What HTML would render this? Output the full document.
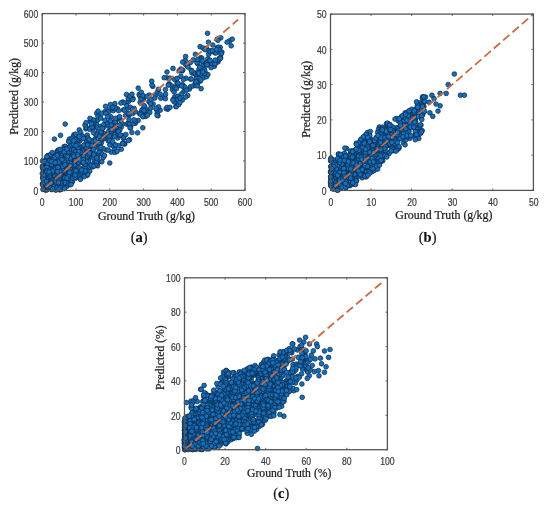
<!DOCTYPE html>
<html><head><meta charset="utf-8"><title>Figure</title>
<style>
html,body{margin:0;padding:0;background:#fff;overflow:hidden;}
svg{display:block;}
</style></head>
<body>
<svg width="550" height="507" viewBox="0 0 550 507">
<rect width="550" height="507" fill="#fff"/>
<g id="plot-a">
<g fill="#186eb8" stroke="#0a2d52" stroke-width="0.75">
<circle cx="51.4" cy="175.9" r="2.35"/>
<circle cx="49" cy="188.5" r="2.35"/>
<circle cx="47.7" cy="155.7" r="2.35"/>
<circle cx="51.9" cy="173" r="2.35"/>
<circle cx="47.5" cy="189.1" r="2.35"/>
<circle cx="56.7" cy="185.4" r="2.35"/>
<circle cx="52.4" cy="171.8" r="2.35"/>
<circle cx="51.1" cy="188.4" r="2.35"/>
<circle cx="43.7" cy="179.4" r="2.35"/>
<circle cx="42.7" cy="177.2" r="2.35"/>
<circle cx="43.9" cy="188.5" r="2.35"/>
<circle cx="52.9" cy="173.8" r="2.35"/>
<circle cx="50.9" cy="155.1" r="2.35"/>
<circle cx="43.2" cy="177.6" r="2.35"/>
<circle cx="52.8" cy="184.3" r="2.35"/>
<circle cx="45.7" cy="180.4" r="2.35"/>
<circle cx="45.7" cy="190.2" r="2.35"/>
<circle cx="62.3" cy="165.3" r="2.35"/>
<circle cx="50.3" cy="165.7" r="2.35"/>
<circle cx="52" cy="187.1" r="2.35"/>
<circle cx="52.1" cy="178.9" r="2.35"/>
<circle cx="43.2" cy="169.4" r="2.35"/>
<circle cx="52.5" cy="182.5" r="2.35"/>
<circle cx="85.4" cy="146.7" r="2.35"/>
<circle cx="44.1" cy="175.7" r="2.35"/>
<circle cx="57.8" cy="184.6" r="2.35"/>
<circle cx="59.3" cy="179.5" r="2.35"/>
<circle cx="59.1" cy="181.8" r="2.35"/>
<circle cx="46.4" cy="183.9" r="2.35"/>
<circle cx="47.7" cy="184.9" r="2.35"/>
<circle cx="44.2" cy="186.5" r="2.35"/>
<circle cx="49.6" cy="179.5" r="2.35"/>
<circle cx="66.7" cy="155.7" r="2.35"/>
<circle cx="45.8" cy="177.4" r="2.35"/>
<circle cx="42.5" cy="160.9" r="2.35"/>
<circle cx="50.5" cy="174.2" r="2.35"/>
<circle cx="59.4" cy="151.2" r="2.35"/>
<circle cx="48.3" cy="174.7" r="2.35"/>
<circle cx="74.1" cy="149.7" r="2.35"/>
<circle cx="48.8" cy="170.2" r="2.35"/>
<circle cx="50.3" cy="178.7" r="2.35"/>
<circle cx="44.4" cy="181.1" r="2.35"/>
<circle cx="47.8" cy="181.4" r="2.35"/>
<circle cx="58.9" cy="184.7" r="2.35"/>
<circle cx="59.1" cy="159.6" r="2.35"/>
<circle cx="65" cy="173.1" r="2.35"/>
<circle cx="57.9" cy="179" r="2.35"/>
<circle cx="55" cy="177.9" r="2.35"/>
<circle cx="42.5" cy="183.7" r="2.35"/>
<circle cx="45.3" cy="175.3" r="2.35"/>
<circle cx="92.2" cy="120" r="2.35"/>
<circle cx="46.7" cy="189.9" r="2.35"/>
<circle cx="56.7" cy="169.4" r="2.35"/>
<circle cx="49.6" cy="175.6" r="2.35"/>
<circle cx="57.1" cy="178.5" r="2.35"/>
<circle cx="50.6" cy="184.2" r="2.35"/>
<circle cx="44.6" cy="189.2" r="2.35"/>
<circle cx="45.5" cy="180.4" r="2.35"/>
<circle cx="53.3" cy="159.7" r="2.35"/>
<circle cx="46.9" cy="169.5" r="2.35"/>
<circle cx="42.5" cy="166.2" r="2.35"/>
<circle cx="55.2" cy="162.8" r="2.35"/>
<circle cx="61.7" cy="176.6" r="2.35"/>
<circle cx="60.4" cy="159.7" r="2.35"/>
<circle cx="60.7" cy="183.1" r="2.35"/>
<circle cx="43.2" cy="169.1" r="2.35"/>
<circle cx="72.4" cy="181.8" r="2.35"/>
<circle cx="49" cy="182.9" r="2.35"/>
<circle cx="44.9" cy="183.6" r="2.35"/>
<circle cx="47.2" cy="184.9" r="2.35"/>
<circle cx="45.8" cy="178.4" r="2.35"/>
<circle cx="43.9" cy="166.2" r="2.35"/>
<circle cx="50" cy="170.9" r="2.35"/>
<circle cx="51.5" cy="172.2" r="2.35"/>
<circle cx="48.6" cy="186.2" r="2.35"/>
<circle cx="51.4" cy="181.8" r="2.35"/>
<circle cx="48.8" cy="168.9" r="2.35"/>
<circle cx="45.7" cy="173.3" r="2.35"/>
<circle cx="46.4" cy="158.3" r="2.35"/>
<circle cx="54.9" cy="174.7" r="2.35"/>
<circle cx="43.4" cy="174.8" r="2.35"/>
<circle cx="46.6" cy="172.5" r="2.35"/>
<circle cx="60" cy="185.7" r="2.35"/>
<circle cx="52" cy="186.4" r="2.35"/>
<circle cx="56.3" cy="186.4" r="2.35"/>
<circle cx="50.1" cy="171.4" r="2.35"/>
<circle cx="44.1" cy="177.5" r="2.35"/>
<circle cx="47.4" cy="163.9" r="2.35"/>
<circle cx="51" cy="182.9" r="2.35"/>
<circle cx="47.4" cy="188" r="2.35"/>
<circle cx="48.8" cy="173.6" r="2.35"/>
<circle cx="51.6" cy="162.9" r="2.35"/>
<circle cx="59.3" cy="167.1" r="2.35"/>
<circle cx="47" cy="166.4" r="2.35"/>
<circle cx="63.3" cy="166.6" r="2.35"/>
<circle cx="50.1" cy="161.5" r="2.35"/>
<circle cx="60.7" cy="152.7" r="2.35"/>
<circle cx="62.9" cy="170.5" r="2.35"/>
<circle cx="73.9" cy="136.3" r="2.35"/>
<circle cx="61.9" cy="167.3" r="2.35"/>
<circle cx="62.1" cy="168.3" r="2.35"/>
<circle cx="73.3" cy="175.2" r="2.35"/>
<circle cx="42.9" cy="184.1" r="2.35"/>
<circle cx="44.8" cy="171.7" r="2.35"/>
<circle cx="61.6" cy="189.3" r="2.35"/>
<circle cx="51.8" cy="167.7" r="2.35"/>
<circle cx="51.7" cy="171.7" r="2.35"/>
<circle cx="43.3" cy="178.1" r="2.35"/>
<circle cx="45" cy="166.7" r="2.35"/>
<circle cx="56.9" cy="174.8" r="2.35"/>
<circle cx="55.7" cy="165.2" r="2.35"/>
<circle cx="46.5" cy="188" r="2.35"/>
<circle cx="45.3" cy="178.8" r="2.35"/>
<circle cx="45.8" cy="162.6" r="2.35"/>
<circle cx="54.9" cy="165.4" r="2.35"/>
<circle cx="50.5" cy="185.4" r="2.35"/>
<circle cx="43.4" cy="171.9" r="2.35"/>
<circle cx="60.2" cy="183.1" r="2.35"/>
<circle cx="52.1" cy="167" r="2.35"/>
<circle cx="66.8" cy="169.3" r="2.35"/>
<circle cx="42.3" cy="173.5" r="2.35"/>
<circle cx="42.5" cy="167.2" r="2.35"/>
<circle cx="46.3" cy="186.4" r="2.35"/>
<circle cx="70.2" cy="139.5" r="2.35"/>
<circle cx="44.2" cy="189.3" r="2.35"/>
<circle cx="66.4" cy="176.9" r="2.35"/>
<circle cx="51.8" cy="179.8" r="2.35"/>
<circle cx="51.7" cy="189.6" r="2.35"/>
<circle cx="57.5" cy="156.3" r="2.35"/>
<circle cx="44.7" cy="161.5" r="2.35"/>
<circle cx="46.3" cy="187.4" r="2.35"/>
<circle cx="43.9" cy="175.3" r="2.35"/>
<circle cx="51.3" cy="161.3" r="2.35"/>
<circle cx="78.5" cy="137.1" r="2.35"/>
<circle cx="47.7" cy="168.6" r="2.35"/>
<circle cx="55.3" cy="158.4" r="2.35"/>
<circle cx="53.9" cy="186.7" r="2.35"/>
<circle cx="52.1" cy="178.2" r="2.35"/>
<circle cx="49.1" cy="174.9" r="2.35"/>
<circle cx="67.5" cy="162.6" r="2.35"/>
<circle cx="51.3" cy="163.8" r="2.35"/>
<circle cx="47.1" cy="186.8" r="2.35"/>
<circle cx="63.6" cy="178.8" r="2.35"/>
<circle cx="59.1" cy="171.1" r="2.35"/>
<circle cx="53.5" cy="183.8" r="2.35"/>
<circle cx="49.6" cy="167.3" r="2.35"/>
<circle cx="73.9" cy="134.8" r="2.35"/>
<circle cx="50.8" cy="170.5" r="2.35"/>
<circle cx="46.6" cy="171.4" r="2.35"/>
<circle cx="56.9" cy="168.2" r="2.35"/>
<circle cx="48.5" cy="161" r="2.35"/>
<circle cx="50.7" cy="183.1" r="2.35"/>
<circle cx="48.2" cy="187.7" r="2.35"/>
<circle cx="49.4" cy="164.7" r="2.35"/>
<circle cx="43.1" cy="179.6" r="2.35"/>
<circle cx="45.5" cy="174.1" r="2.35"/>
<circle cx="45.9" cy="183.8" r="2.35"/>
<circle cx="48.7" cy="187.3" r="2.35"/>
<circle cx="53.2" cy="171.5" r="2.35"/>
<circle cx="44.9" cy="178.9" r="2.35"/>
<circle cx="85.8" cy="128.8" r="2.35"/>
<circle cx="49.6" cy="168.4" r="2.35"/>
<circle cx="54.7" cy="169.5" r="2.35"/>
<circle cx="44.4" cy="175.9" r="2.35"/>
<circle cx="45.2" cy="169.9" r="2.35"/>
<circle cx="74.1" cy="152.1" r="2.35"/>
<circle cx="57.5" cy="158.6" r="2.35"/>
<circle cx="49.6" cy="184.4" r="2.35"/>
<circle cx="43.7" cy="169.8" r="2.35"/>
<circle cx="73.2" cy="145.3" r="2.35"/>
<circle cx="45.1" cy="174.4" r="2.35"/>
<circle cx="47.4" cy="169.7" r="2.35"/>
<circle cx="49.6" cy="164.5" r="2.35"/>
<circle cx="54.4" cy="184.5" r="2.35"/>
<circle cx="51" cy="180.6" r="2.35"/>
<circle cx="50.6" cy="163" r="2.35"/>
<circle cx="82.1" cy="176.2" r="2.35"/>
<circle cx="51.9" cy="169.5" r="2.35"/>
<circle cx="55.5" cy="179.1" r="2.35"/>
<circle cx="59.6" cy="166.4" r="2.35"/>
<circle cx="46.4" cy="177.9" r="2.35"/>
<circle cx="92.5" cy="147.7" r="2.35"/>
<circle cx="45.8" cy="185.4" r="2.35"/>
<circle cx="50.8" cy="178.4" r="2.35"/>
<circle cx="44.3" cy="173.2" r="2.35"/>
<circle cx="44.3" cy="181.2" r="2.35"/>
<circle cx="65.2" cy="153.4" r="2.35"/>
<circle cx="47.6" cy="156.4" r="2.35"/>
<circle cx="50.2" cy="188.1" r="2.35"/>
<circle cx="48.5" cy="175" r="2.35"/>
<circle cx="49.7" cy="174.8" r="2.35"/>
<circle cx="64.2" cy="146.5" r="2.35"/>
<circle cx="45.8" cy="184.7" r="2.35"/>
<circle cx="55.5" cy="160.4" r="2.35"/>
<circle cx="64.7" cy="178.8" r="2.35"/>
<circle cx="44.1" cy="168.6" r="2.35"/>
<circle cx="61.1" cy="181.6" r="2.35"/>
<circle cx="42.6" cy="184.9" r="2.35"/>
<circle cx="58.1" cy="159.2" r="2.35"/>
<circle cx="48.2" cy="174.3" r="2.35"/>
<circle cx="44.4" cy="179.2" r="2.35"/>
<circle cx="49.8" cy="169.4" r="2.35"/>
<circle cx="46.6" cy="174.9" r="2.35"/>
<circle cx="42.9" cy="189.4" r="2.35"/>
<circle cx="63.9" cy="157" r="2.35"/>
<circle cx="65.4" cy="184.9" r="2.35"/>
<circle cx="44.7" cy="168" r="2.35"/>
<circle cx="47.7" cy="163.9" r="2.35"/>
<circle cx="47.2" cy="185.6" r="2.35"/>
<circle cx="48.8" cy="185.7" r="2.35"/>
<circle cx="43.8" cy="178.8" r="2.35"/>
<circle cx="62.3" cy="169.3" r="2.35"/>
<circle cx="51.4" cy="189.1" r="2.35"/>
<circle cx="44.9" cy="173.8" r="2.35"/>
<circle cx="47.3" cy="181.7" r="2.35"/>
<circle cx="45.8" cy="184.4" r="2.35"/>
<circle cx="49.4" cy="182.7" r="2.35"/>
<circle cx="58" cy="176.6" r="2.35"/>
<circle cx="58.2" cy="168.3" r="2.35"/>
<circle cx="44.5" cy="174.9" r="2.35"/>
<circle cx="72" cy="151.9" r="2.35"/>
<circle cx="57.8" cy="175.4" r="2.35"/>
<circle cx="50.1" cy="185.5" r="2.35"/>
<circle cx="55.8" cy="190.2" r="2.35"/>
<circle cx="70" cy="181.7" r="2.35"/>
<circle cx="51.6" cy="171.6" r="2.35"/>
<circle cx="59.8" cy="185.4" r="2.35"/>
<circle cx="78.3" cy="155" r="2.35"/>
<circle cx="60.1" cy="156" r="2.35"/>
<circle cx="59.7" cy="156.8" r="2.35"/>
<circle cx="57.1" cy="151.5" r="2.35"/>
<circle cx="49.3" cy="181.4" r="2.35"/>
<circle cx="65.7" cy="183.2" r="2.35"/>
<circle cx="70.5" cy="146.4" r="2.35"/>
<circle cx="71.9" cy="156.4" r="2.35"/>
<circle cx="56.3" cy="158.2" r="2.35"/>
<circle cx="56.6" cy="173.4" r="2.35"/>
<circle cx="86.3" cy="127.4" r="2.35"/>
<circle cx="57.2" cy="161.4" r="2.35"/>
<circle cx="65.2" cy="156.1" r="2.35"/>
<circle cx="44.4" cy="174.9" r="2.35"/>
<circle cx="55.9" cy="168.4" r="2.35"/>
<circle cx="55.9" cy="170.7" r="2.35"/>
<circle cx="51.8" cy="173.3" r="2.35"/>
<circle cx="103.1" cy="157.8" r="2.35"/>
<circle cx="64.5" cy="175.4" r="2.35"/>
<circle cx="48.9" cy="156.1" r="2.35"/>
<circle cx="70.5" cy="164.3" r="2.35"/>
<circle cx="69.4" cy="148" r="2.35"/>
<circle cx="69.9" cy="164.5" r="2.35"/>
<circle cx="100.4" cy="151.5" r="2.35"/>
<circle cx="68.7" cy="177" r="2.35"/>
<circle cx="69.9" cy="168" r="2.35"/>
<circle cx="59.8" cy="189.9" r="2.35"/>
<circle cx="56.3" cy="183.6" r="2.35"/>
<circle cx="69.2" cy="168.6" r="2.35"/>
<circle cx="67.9" cy="156.2" r="2.35"/>
<circle cx="57.3" cy="170.2" r="2.35"/>
<circle cx="62.4" cy="155.4" r="2.35"/>
<circle cx="71" cy="178.2" r="2.35"/>
<circle cx="72.2" cy="155.5" r="2.35"/>
<circle cx="61.5" cy="160.3" r="2.35"/>
<circle cx="47.7" cy="156.7" r="2.35"/>
<circle cx="73.8" cy="171.1" r="2.35"/>
<circle cx="64.2" cy="158.7" r="2.35"/>
<circle cx="57" cy="169.1" r="2.35"/>
<circle cx="62.3" cy="184.7" r="2.35"/>
<circle cx="54.6" cy="174.9" r="2.35"/>
<circle cx="73.6" cy="164.2" r="2.35"/>
<circle cx="64" cy="172.5" r="2.35"/>
<circle cx="50.5" cy="169.2" r="2.35"/>
<circle cx="75.6" cy="149.5" r="2.35"/>
<circle cx="78.4" cy="163.5" r="2.35"/>
<circle cx="66.7" cy="186.4" r="2.35"/>
<circle cx="79.3" cy="129.9" r="2.35"/>
<circle cx="51.7" cy="172.8" r="2.35"/>
<circle cx="97" cy="120.4" r="2.35"/>
<circle cx="75.4" cy="135.3" r="2.35"/>
<circle cx="91.1" cy="155.6" r="2.35"/>
<circle cx="51.9" cy="165.5" r="2.35"/>
<circle cx="61.2" cy="173.9" r="2.35"/>
<circle cx="65" cy="168.2" r="2.35"/>
<circle cx="114.2" cy="123.9" r="2.35"/>
<circle cx="69.3" cy="163.7" r="2.35"/>
<circle cx="54" cy="160" r="2.35"/>
<circle cx="79.2" cy="153.2" r="2.35"/>
<circle cx="73" cy="163" r="2.35"/>
<circle cx="59.4" cy="175.8" r="2.35"/>
<circle cx="86" cy="143.5" r="2.35"/>
<circle cx="94.4" cy="160.4" r="2.35"/>
<circle cx="65.9" cy="174.1" r="2.35"/>
<circle cx="56.7" cy="174.2" r="2.35"/>
<circle cx="82.6" cy="162.5" r="2.35"/>
<circle cx="76.8" cy="159.3" r="2.35"/>
<circle cx="65.1" cy="176.5" r="2.35"/>
<circle cx="58.3" cy="161.1" r="2.35"/>
<circle cx="65.5" cy="146.4" r="2.35"/>
<circle cx="78.3" cy="148.5" r="2.35"/>
<circle cx="70.8" cy="163.2" r="2.35"/>
<circle cx="44.6" cy="182.7" r="2.35"/>
<circle cx="81.7" cy="147.6" r="2.35"/>
<circle cx="112.7" cy="126.9" r="2.35"/>
<circle cx="76.9" cy="152.2" r="2.35"/>
<circle cx="87.3" cy="142.9" r="2.35"/>
<circle cx="70.3" cy="140.4" r="2.35"/>
<circle cx="121.3" cy="149.2" r="2.35"/>
<circle cx="70.2" cy="150.5" r="2.35"/>
<circle cx="101.9" cy="153.9" r="2.35"/>
<circle cx="105.6" cy="106.3" r="2.35"/>
<circle cx="67.9" cy="180.4" r="2.35"/>
<circle cx="87.3" cy="135.2" r="2.35"/>
<circle cx="51.8" cy="180.5" r="2.35"/>
<circle cx="77.4" cy="157.8" r="2.35"/>
<circle cx="51.6" cy="164.3" r="2.35"/>
<circle cx="80.7" cy="132.4" r="2.35"/>
<circle cx="63.4" cy="185.3" r="2.35"/>
<circle cx="67" cy="170.9" r="2.35"/>
<circle cx="57.8" cy="185.5" r="2.35"/>
<circle cx="74.8" cy="156.7" r="2.35"/>
<circle cx="84.7" cy="152.6" r="2.35"/>
<circle cx="57.6" cy="177.9" r="2.35"/>
<circle cx="65.3" cy="177.4" r="2.35"/>
<circle cx="75" cy="165.2" r="2.35"/>
<circle cx="61.3" cy="181.3" r="2.35"/>
<circle cx="98.2" cy="131.4" r="2.35"/>
<circle cx="122.7" cy="102.1" r="2.35"/>
<circle cx="75.1" cy="176.2" r="2.35"/>
<circle cx="68.9" cy="165.7" r="2.35"/>
<circle cx="73.2" cy="167.1" r="2.35"/>
<circle cx="58.7" cy="165.3" r="2.35"/>
<circle cx="52.4" cy="188.4" r="2.35"/>
<circle cx="59.6" cy="173.8" r="2.35"/>
<circle cx="75" cy="175.9" r="2.35"/>
<circle cx="65.5" cy="156.1" r="2.35"/>
<circle cx="58" cy="171.3" r="2.35"/>
<circle cx="56.5" cy="175.8" r="2.35"/>
<circle cx="70.6" cy="156.7" r="2.35"/>
<circle cx="65.3" cy="170.7" r="2.35"/>
<circle cx="85.3" cy="160" r="2.35"/>
<circle cx="56.3" cy="165.4" r="2.35"/>
<circle cx="142.9" cy="112.7" r="2.35"/>
<circle cx="69.1" cy="166.2" r="2.35"/>
<circle cx="124.8" cy="144" r="2.35"/>
<circle cx="65" cy="148.6" r="2.35"/>
<circle cx="80.7" cy="173" r="2.35"/>
<circle cx="63" cy="180.6" r="2.35"/>
<circle cx="113" cy="125.3" r="2.35"/>
<circle cx="84.9" cy="125" r="2.35"/>
<circle cx="60.1" cy="181.9" r="2.35"/>
<circle cx="67.7" cy="183.3" r="2.35"/>
<circle cx="84.9" cy="162.2" r="2.35"/>
<circle cx="50.3" cy="183.4" r="2.35"/>
<circle cx="59.8" cy="181" r="2.35"/>
<circle cx="61.6" cy="169.6" r="2.35"/>
<circle cx="46.5" cy="181.6" r="2.35"/>
<circle cx="75.8" cy="178.1" r="2.35"/>
<circle cx="122" cy="123.5" r="2.35"/>
<circle cx="49.5" cy="186.1" r="2.35"/>
<circle cx="54.5" cy="175.6" r="2.35"/>
<circle cx="72.5" cy="150.8" r="2.35"/>
<circle cx="77.5" cy="143.1" r="2.35"/>
<circle cx="76.6" cy="163.1" r="2.35"/>
<circle cx="65.9" cy="165.8" r="2.35"/>
<circle cx="62.5" cy="181.6" r="2.35"/>
<circle cx="50.4" cy="154.6" r="2.35"/>
<circle cx="117.5" cy="108.8" r="2.35"/>
<circle cx="101.3" cy="142.9" r="2.35"/>
<circle cx="60.7" cy="170.8" r="2.35"/>
<circle cx="70.1" cy="151.7" r="2.35"/>
<circle cx="66.2" cy="158.8" r="2.35"/>
<circle cx="64" cy="183.2" r="2.35"/>
<circle cx="55.8" cy="155.1" r="2.35"/>
<circle cx="133" cy="98.6" r="2.35"/>
<circle cx="67" cy="166.9" r="2.35"/>
<circle cx="85.4" cy="173.5" r="2.35"/>
<circle cx="67.5" cy="161.2" r="2.35"/>
<circle cx="76.1" cy="155.4" r="2.35"/>
<circle cx="108.1" cy="140.6" r="2.35"/>
<circle cx="72.5" cy="159.3" r="2.35"/>
<circle cx="106.2" cy="150" r="2.35"/>
<circle cx="60.8" cy="180.5" r="2.35"/>
<circle cx="84.4" cy="149" r="2.35"/>
<circle cx="103.4" cy="127.6" r="2.35"/>
<circle cx="86.4" cy="165.3" r="2.35"/>
<circle cx="60.8" cy="176" r="2.35"/>
<circle cx="65" cy="162" r="2.35"/>
<circle cx="61" cy="172.9" r="2.35"/>
<circle cx="76.9" cy="172" r="2.35"/>
<circle cx="67.7" cy="152.7" r="2.35"/>
<circle cx="59.6" cy="179.4" r="2.35"/>
<circle cx="54.4" cy="181.5" r="2.35"/>
<circle cx="61.1" cy="163.8" r="2.35"/>
<circle cx="70.1" cy="175.3" r="2.35"/>
<circle cx="85.2" cy="138.6" r="2.35"/>
<circle cx="77.8" cy="155.5" r="2.35"/>
<circle cx="83.7" cy="155.1" r="2.35"/>
<circle cx="98.9" cy="143.2" r="2.35"/>
<circle cx="78.5" cy="162.3" r="2.35"/>
<circle cx="52.2" cy="172.8" r="2.35"/>
<circle cx="66.7" cy="183" r="2.35"/>
<circle cx="53.1" cy="158.1" r="2.35"/>
<circle cx="72.9" cy="142.8" r="2.35"/>
<circle cx="50.2" cy="174.1" r="2.35"/>
<circle cx="69.5" cy="147.3" r="2.35"/>
<circle cx="72.7" cy="177.6" r="2.35"/>
<circle cx="81.9" cy="136" r="2.35"/>
<circle cx="70.4" cy="146.1" r="2.35"/>
<circle cx="144.5" cy="106.5" r="2.35"/>
<circle cx="63.6" cy="149.6" r="2.35"/>
<circle cx="87.2" cy="160" r="2.35"/>
<circle cx="63.3" cy="171.5" r="2.35"/>
<circle cx="57" cy="173.3" r="2.35"/>
<circle cx="63.4" cy="162.1" r="2.35"/>
<circle cx="52.3" cy="180.4" r="2.35"/>
<circle cx="73.7" cy="144.6" r="2.35"/>
<circle cx="49.7" cy="160.6" r="2.35"/>
<circle cx="87.6" cy="169.8" r="2.35"/>
<circle cx="69.7" cy="184.7" r="2.35"/>
<circle cx="83.7" cy="145.4" r="2.35"/>
<circle cx="54.9" cy="183.3" r="2.35"/>
<circle cx="104.9" cy="111.7" r="2.35"/>
<circle cx="96.7" cy="124.8" r="2.35"/>
<circle cx="91" cy="142.6" r="2.35"/>
<circle cx="68.4" cy="171.8" r="2.35"/>
<circle cx="86.8" cy="175.6" r="2.35"/>
<circle cx="69.6" cy="161.2" r="2.35"/>
<circle cx="98.1" cy="154.5" r="2.35"/>
<circle cx="49.9" cy="176" r="2.35"/>
<circle cx="71.3" cy="178.5" r="2.35"/>
<circle cx="101.1" cy="126.4" r="2.35"/>
<circle cx="87.9" cy="140.9" r="2.35"/>
<circle cx="89.2" cy="157.5" r="2.35"/>
<circle cx="87" cy="157.3" r="2.35"/>
<circle cx="73.8" cy="150" r="2.35"/>
<circle cx="57.6" cy="160.9" r="2.35"/>
<circle cx="80" cy="140.9" r="2.35"/>
<circle cx="64" cy="160" r="2.35"/>
<circle cx="66.4" cy="158.6" r="2.35"/>
<circle cx="68.8" cy="141.2" r="2.35"/>
<circle cx="70.7" cy="162.8" r="2.35"/>
<circle cx="57.1" cy="156.6" r="2.35"/>
<circle cx="84.4" cy="168.1" r="2.35"/>
<circle cx="74.4" cy="163.5" r="2.35"/>
<circle cx="96.1" cy="135.6" r="2.35"/>
<circle cx="123.5" cy="109.9" r="2.35"/>
<circle cx="86.2" cy="140" r="2.35"/>
<circle cx="72.9" cy="137.2" r="2.35"/>
<circle cx="53.5" cy="184.1" r="2.35"/>
<circle cx="70.2" cy="162.8" r="2.35"/>
<circle cx="74.5" cy="165.1" r="2.35"/>
<circle cx="76.2" cy="170" r="2.35"/>
<circle cx="71.7" cy="180.6" r="2.35"/>
<circle cx="62.8" cy="168.1" r="2.35"/>
<circle cx="90" cy="150.5" r="2.35"/>
<circle cx="73.7" cy="158.1" r="2.35"/>
<circle cx="93.5" cy="127.2" r="2.35"/>
<circle cx="60.3" cy="180.7" r="2.35"/>
<circle cx="76.8" cy="174.1" r="2.35"/>
<circle cx="97.6" cy="119.9" r="2.35"/>
<circle cx="97.6" cy="163.1" r="2.35"/>
<circle cx="55.6" cy="168.9" r="2.35"/>
<circle cx="69.4" cy="139" r="2.35"/>
<circle cx="65.2" cy="157.9" r="2.35"/>
<circle cx="97.6" cy="165.8" r="2.35"/>
<circle cx="78.8" cy="175.3" r="2.35"/>
<circle cx="61.1" cy="155.2" r="2.35"/>
<circle cx="70.5" cy="161.8" r="2.35"/>
<circle cx="63.2" cy="182.8" r="2.35"/>
<circle cx="71.6" cy="166.5" r="2.35"/>
<circle cx="64.2" cy="152" r="2.35"/>
<circle cx="75" cy="153.3" r="2.35"/>
<circle cx="97.9" cy="160.5" r="2.35"/>
<circle cx="132.6" cy="113.5" r="2.35"/>
<circle cx="87.8" cy="138.1" r="2.35"/>
<circle cx="117.8" cy="138" r="2.35"/>
<circle cx="48.5" cy="168.8" r="2.35"/>
<circle cx="84.4" cy="164.1" r="2.35"/>
<circle cx="86.1" cy="148.2" r="2.35"/>
<circle cx="79.9" cy="157" r="2.35"/>
<circle cx="69.7" cy="165.5" r="2.35"/>
<circle cx="46.7" cy="156.7" r="2.35"/>
<circle cx="56.4" cy="178.3" r="2.35"/>
<circle cx="67.2" cy="165.6" r="2.35"/>
<circle cx="78.2" cy="146.2" r="2.35"/>
<circle cx="57.7" cy="150.6" r="2.35"/>
<circle cx="70.6" cy="163.5" r="2.35"/>
<circle cx="68.4" cy="148.1" r="2.35"/>
<circle cx="68.6" cy="156.1" r="2.35"/>
<circle cx="71.4" cy="166.6" r="2.35"/>
<circle cx="82.4" cy="151.3" r="2.35"/>
<circle cx="65.4" cy="166.4" r="2.35"/>
<circle cx="68.3" cy="178.7" r="2.35"/>
<circle cx="57.9" cy="155.7" r="2.35"/>
<circle cx="64.5" cy="188.6" r="2.35"/>
<circle cx="58.8" cy="155.6" r="2.35"/>
<circle cx="78.5" cy="139.7" r="2.35"/>
<circle cx="123.5" cy="138.5" r="2.35"/>
<circle cx="115.2" cy="145.6" r="2.35"/>
<circle cx="60.9" cy="174" r="2.35"/>
<circle cx="79.5" cy="147" r="2.35"/>
<circle cx="71.9" cy="149.5" r="2.35"/>
<circle cx="49.4" cy="173.9" r="2.35"/>
<circle cx="46.9" cy="167.3" r="2.35"/>
<circle cx="60" cy="179.4" r="2.35"/>
<circle cx="67.3" cy="161.6" r="2.35"/>
<circle cx="52.4" cy="182.3" r="2.35"/>
<circle cx="56" cy="163.3" r="2.35"/>
<circle cx="57.1" cy="171.1" r="2.35"/>
<circle cx="56.1" cy="179.5" r="2.35"/>
<circle cx="53" cy="160.2" r="2.35"/>
<circle cx="65.8" cy="156" r="2.35"/>
<circle cx="82.3" cy="136" r="2.35"/>
<circle cx="74.6" cy="158.5" r="2.35"/>
<circle cx="57" cy="187.8" r="2.35"/>
<circle cx="66.9" cy="149.1" r="2.35"/>
<circle cx="70.3" cy="158.3" r="2.35"/>
<circle cx="48.3" cy="184.5" r="2.35"/>
<circle cx="89.6" cy="145.3" r="2.35"/>
<circle cx="59.2" cy="175.6" r="2.35"/>
<circle cx="52.9" cy="171" r="2.35"/>
<circle cx="139.2" cy="94.4" r="2.35"/>
<circle cx="55.6" cy="156.5" r="2.35"/>
<circle cx="64.5" cy="182.6" r="2.35"/>
<circle cx="58.8" cy="149.9" r="2.35"/>
<circle cx="89.7" cy="171.2" r="2.35"/>
<circle cx="64.9" cy="163" r="2.35"/>
<circle cx="51.4" cy="161.4" r="2.35"/>
<circle cx="46.9" cy="170.6" r="2.35"/>
<circle cx="61.3" cy="184" r="2.35"/>
<circle cx="118.2" cy="145.7" r="2.35"/>
<circle cx="55.1" cy="180.6" r="2.35"/>
<circle cx="96.7" cy="113.2" r="2.35"/>
<circle cx="57.3" cy="157.1" r="2.35"/>
<circle cx="51" cy="183.1" r="2.35"/>
<circle cx="66.5" cy="158.7" r="2.35"/>
<circle cx="74.1" cy="149.7" r="2.35"/>
<circle cx="67.4" cy="156.5" r="2.35"/>
<circle cx="47.4" cy="173.1" r="2.35"/>
<circle cx="60.2" cy="149.3" r="2.35"/>
<circle cx="75.1" cy="150.7" r="2.35"/>
<circle cx="61.1" cy="157.9" r="2.35"/>
<circle cx="77.7" cy="147.2" r="2.35"/>
<circle cx="52.2" cy="152.5" r="2.35"/>
<circle cx="141.9" cy="111.6" r="2.35"/>
<circle cx="54.8" cy="157.2" r="2.35"/>
<circle cx="67.5" cy="169.1" r="2.35"/>
<circle cx="67.4" cy="169.5" r="2.35"/>
<circle cx="86.3" cy="167.3" r="2.35"/>
<circle cx="63.9" cy="161.1" r="2.35"/>
<circle cx="70.2" cy="168.9" r="2.35"/>
<circle cx="68" cy="175.4" r="2.35"/>
<circle cx="78" cy="148" r="2.35"/>
<circle cx="77.8" cy="173.2" r="2.35"/>
<circle cx="68.9" cy="141.5" r="2.35"/>
<circle cx="86.6" cy="162" r="2.35"/>
<circle cx="101.8" cy="137.8" r="2.35"/>
<circle cx="59.7" cy="181.8" r="2.35"/>
<circle cx="60.7" cy="182.3" r="2.35"/>
<circle cx="60.1" cy="187.6" r="2.35"/>
<circle cx="59.3" cy="179.7" r="2.35"/>
<circle cx="60" cy="171.3" r="2.35"/>
<circle cx="70.3" cy="165.5" r="2.35"/>
<circle cx="84.1" cy="176.6" r="2.35"/>
<circle cx="59.6" cy="175.6" r="2.35"/>
<circle cx="77" cy="172" r="2.35"/>
<circle cx="62.9" cy="166.5" r="2.35"/>
<circle cx="139.7" cy="95.7" r="2.35"/>
<circle cx="73.6" cy="149.9" r="2.35"/>
<circle cx="83.4" cy="157.4" r="2.35"/>
<circle cx="56.1" cy="181.9" r="2.35"/>
<circle cx="57.3" cy="155.2" r="2.35"/>
<circle cx="72.8" cy="178.3" r="2.35"/>
<circle cx="58.5" cy="162.2" r="2.35"/>
<circle cx="68.2" cy="176.4" r="2.35"/>
<circle cx="93.8" cy="122" r="2.35"/>
<circle cx="58.8" cy="181.1" r="2.35"/>
<circle cx="57.6" cy="171.7" r="2.35"/>
<circle cx="71.9" cy="139" r="2.35"/>
<circle cx="64.9" cy="177.7" r="2.35"/>
<circle cx="80.9" cy="159.9" r="2.35"/>
<circle cx="66.8" cy="178.1" r="2.35"/>
<circle cx="55.1" cy="162.5" r="2.35"/>
<circle cx="47.1" cy="171.7" r="2.35"/>
<circle cx="75.1" cy="177.3" r="2.35"/>
<circle cx="59" cy="189.3" r="2.35"/>
<circle cx="71" cy="184.6" r="2.35"/>
<circle cx="49" cy="171.9" r="2.35"/>
<circle cx="58.4" cy="182.7" r="2.35"/>
<circle cx="75.2" cy="175" r="2.35"/>
<circle cx="90" cy="128.2" r="2.35"/>
<circle cx="90.6" cy="120.7" r="2.35"/>
<circle cx="96.1" cy="134.1" r="2.35"/>
<circle cx="68.5" cy="168.6" r="2.35"/>
<circle cx="88.2" cy="160.2" r="2.35"/>
<circle cx="74.9" cy="170.2" r="2.35"/>
<circle cx="65" cy="164.8" r="2.35"/>
<circle cx="62" cy="159.7" r="2.35"/>
<circle cx="58" cy="167.4" r="2.35"/>
<circle cx="89.8" cy="140.3" r="2.35"/>
<circle cx="69.6" cy="172.4" r="2.35"/>
<circle cx="107" cy="122.8" r="2.35"/>
<circle cx="111.2" cy="152.1" r="2.35"/>
<circle cx="114.7" cy="149.2" r="2.35"/>
<circle cx="75.1" cy="151.9" r="2.35"/>
<circle cx="77.9" cy="144.8" r="2.35"/>
<circle cx="101.3" cy="140" r="2.35"/>
<circle cx="75.5" cy="134.1" r="2.35"/>
<circle cx="101.6" cy="113.5" r="2.35"/>
<circle cx="114.9" cy="103.7" r="2.35"/>
<circle cx="110.4" cy="104.5" r="2.35"/>
<circle cx="108.1" cy="138" r="2.35"/>
<circle cx="75.3" cy="160.5" r="2.35"/>
<circle cx="86.2" cy="164.4" r="2.35"/>
<circle cx="124.2" cy="143.7" r="2.35"/>
<circle cx="79.7" cy="138.3" r="2.35"/>
<circle cx="103.3" cy="148.4" r="2.35"/>
<circle cx="75.5" cy="160.5" r="2.35"/>
<circle cx="126.6" cy="124.2" r="2.35"/>
<circle cx="82.5" cy="155.4" r="2.35"/>
<circle cx="96.2" cy="127.3" r="2.35"/>
<circle cx="104" cy="138.8" r="2.35"/>
<circle cx="113.9" cy="144.6" r="2.35"/>
<circle cx="126.5" cy="94.5" r="2.35"/>
<circle cx="114.9" cy="152.5" r="2.35"/>
<circle cx="92.6" cy="164.9" r="2.35"/>
<circle cx="76.9" cy="170.7" r="2.35"/>
<circle cx="113.3" cy="128.4" r="2.35"/>
<circle cx="128.5" cy="101.4" r="2.35"/>
<circle cx="73.6" cy="154.6" r="2.35"/>
<circle cx="117.1" cy="151.3" r="2.35"/>
<circle cx="82.7" cy="160" r="2.35"/>
<circle cx="99" cy="151.7" r="2.35"/>
<circle cx="102.7" cy="138.1" r="2.35"/>
<circle cx="107.9" cy="111.8" r="2.35"/>
<circle cx="129.5" cy="139.7" r="2.35"/>
<circle cx="112.1" cy="136.4" r="2.35"/>
<circle cx="95.2" cy="142.2" r="2.35"/>
<circle cx="113.7" cy="133.2" r="2.35"/>
<circle cx="99.4" cy="146.6" r="2.35"/>
<circle cx="96.4" cy="162" r="2.35"/>
<circle cx="93.6" cy="120.1" r="2.35"/>
<circle cx="101" cy="139.4" r="2.35"/>
<circle cx="88.8" cy="161.9" r="2.35"/>
<circle cx="86.5" cy="147.4" r="2.35"/>
<circle cx="81.2" cy="157.4" r="2.35"/>
<circle cx="97.9" cy="116.6" r="2.35"/>
<circle cx="89.5" cy="166.7" r="2.35"/>
<circle cx="120.7" cy="120.3" r="2.35"/>
<circle cx="121.3" cy="127.1" r="2.35"/>
<circle cx="92.4" cy="166.9" r="2.35"/>
<circle cx="108.2" cy="150" r="2.35"/>
<circle cx="124.5" cy="110.2" r="2.35"/>
<circle cx="93.3" cy="157.6" r="2.35"/>
<circle cx="104.5" cy="155.6" r="2.35"/>
<circle cx="98.1" cy="144.1" r="2.35"/>
<circle cx="110" cy="133.2" r="2.35"/>
<circle cx="127.8" cy="108" r="2.35"/>
<circle cx="80.6" cy="152.5" r="2.35"/>
<circle cx="128.1" cy="123.4" r="2.35"/>
<circle cx="110.9" cy="116.8" r="2.35"/>
<circle cx="118.4" cy="134.5" r="2.35"/>
<circle cx="109.1" cy="109.8" r="2.35"/>
<circle cx="122.6" cy="143.3" r="2.35"/>
<circle cx="91.4" cy="145.4" r="2.35"/>
<circle cx="113.3" cy="110.7" r="2.35"/>
<circle cx="87.8" cy="174.4" r="2.35"/>
<circle cx="101.8" cy="161.8" r="2.35"/>
<circle cx="111.8" cy="130.7" r="2.35"/>
<circle cx="84.2" cy="158.4" r="2.35"/>
<circle cx="76.1" cy="145.5" r="2.35"/>
<circle cx="118.1" cy="118.2" r="2.35"/>
<circle cx="119.1" cy="117.3" r="2.35"/>
<circle cx="110.9" cy="137.1" r="2.35"/>
<circle cx="91.1" cy="153.1" r="2.35"/>
<circle cx="110.4" cy="134.3" r="2.35"/>
<circle cx="77.4" cy="153.9" r="2.35"/>
<circle cx="110.7" cy="121.8" r="2.35"/>
<circle cx="105.7" cy="134.6" r="2.35"/>
<circle cx="108.1" cy="134.1" r="2.35"/>
<circle cx="98.3" cy="143.7" r="2.35"/>
<circle cx="85.6" cy="171.3" r="2.35"/>
<circle cx="114.3" cy="130.1" r="2.35"/>
<circle cx="99.3" cy="146.1" r="2.35"/>
<circle cx="115.4" cy="122.4" r="2.35"/>
<circle cx="93.5" cy="127.1" r="2.35"/>
<circle cx="77.7" cy="169" r="2.35"/>
<circle cx="103.8" cy="124.5" r="2.35"/>
<circle cx="108.4" cy="131.5" r="2.35"/>
<circle cx="125.6" cy="115.5" r="2.35"/>
<circle cx="123.6" cy="135.7" r="2.35"/>
<circle cx="75.9" cy="170.7" r="2.35"/>
<circle cx="117" cy="128.7" r="2.35"/>
<circle cx="87.6" cy="145.1" r="2.35"/>
<circle cx="112.7" cy="108.4" r="2.35"/>
<circle cx="94.4" cy="153.7" r="2.35"/>
<circle cx="91.1" cy="165.3" r="2.35"/>
<circle cx="100.7" cy="118.2" r="2.35"/>
<circle cx="103.1" cy="132.9" r="2.35"/>
<circle cx="112.5" cy="145.4" r="2.35"/>
<circle cx="109.3" cy="136.2" r="2.35"/>
<circle cx="111.6" cy="126.5" r="2.35"/>
<circle cx="94.7" cy="139.4" r="2.35"/>
<circle cx="111.5" cy="131.4" r="2.35"/>
<circle cx="92.5" cy="141.3" r="2.35"/>
<circle cx="107.5" cy="123.9" r="2.35"/>
<circle cx="99" cy="148.2" r="2.35"/>
<circle cx="105" cy="120.3" r="2.35"/>
<circle cx="73.6" cy="140.7" r="2.35"/>
<circle cx="101.3" cy="132.7" r="2.35"/>
<circle cx="85.3" cy="164.4" r="2.35"/>
<circle cx="94.8" cy="147.4" r="2.35"/>
<circle cx="76.9" cy="156.1" r="2.35"/>
<circle cx="110.4" cy="121" r="2.35"/>
<circle cx="124" cy="102.6" r="2.35"/>
<circle cx="93" cy="127.6" r="2.35"/>
<circle cx="78.7" cy="151.7" r="2.35"/>
<circle cx="108.3" cy="112" r="2.35"/>
<circle cx="79.9" cy="168.1" r="2.35"/>
<circle cx="123.9" cy="137.1" r="2.35"/>
<circle cx="79.7" cy="159.8" r="2.35"/>
<circle cx="93.4" cy="149.3" r="2.35"/>
<circle cx="101" cy="132" r="2.35"/>
<circle cx="79.4" cy="136.6" r="2.35"/>
<circle cx="90.9" cy="122" r="2.35"/>
<circle cx="88.4" cy="155.2" r="2.35"/>
<circle cx="113.6" cy="129" r="2.35"/>
<circle cx="129.3" cy="99.1" r="2.35"/>
<circle cx="93.5" cy="132.7" r="2.35"/>
<circle cx="118.1" cy="130.9" r="2.35"/>
<circle cx="80.7" cy="178.6" r="2.35"/>
<circle cx="105.9" cy="113.3" r="2.35"/>
<circle cx="97.5" cy="157" r="2.35"/>
<circle cx="89.2" cy="139.6" r="2.35"/>
<circle cx="119.8" cy="130" r="2.35"/>
<circle cx="115.5" cy="108.1" r="2.35"/>
<circle cx="80.3" cy="179.3" r="2.35"/>
<circle cx="89.4" cy="153.1" r="2.35"/>
<circle cx="119.7" cy="116.8" r="2.35"/>
<circle cx="129.6" cy="124.2" r="2.35"/>
<circle cx="107.8" cy="116.7" r="2.35"/>
<circle cx="122.7" cy="143.6" r="2.35"/>
<circle cx="129.2" cy="115" r="2.35"/>
<circle cx="115.2" cy="121.8" r="2.35"/>
<circle cx="109.7" cy="140.5" r="2.35"/>
<circle cx="85.3" cy="170.8" r="2.35"/>
<circle cx="93.9" cy="154.9" r="2.35"/>
<circle cx="108.4" cy="126.2" r="2.35"/>
<circle cx="125.9" cy="134.5" r="2.35"/>
<circle cx="90" cy="118.3" r="2.35"/>
<circle cx="95.3" cy="140.8" r="2.35"/>
<circle cx="73.9" cy="156.3" r="2.35"/>
<circle cx="112.7" cy="107.4" r="2.35"/>
<circle cx="98.1" cy="111.1" r="2.35"/>
<circle cx="118.5" cy="131.5" r="2.35"/>
<circle cx="86" cy="158" r="2.35"/>
<circle cx="110.5" cy="127.7" r="2.35"/>
<circle cx="111.3" cy="129.7" r="2.35"/>
<circle cx="99.3" cy="136.4" r="2.35"/>
<circle cx="83.5" cy="138.4" r="2.35"/>
<circle cx="95.8" cy="165.3" r="2.35"/>
<circle cx="115.4" cy="144.9" r="2.35"/>
<circle cx="83.5" cy="156" r="2.35"/>
<circle cx="77.8" cy="155.1" r="2.35"/>
<circle cx="99.2" cy="142.5" r="2.35"/>
<circle cx="86.1" cy="161.2" r="2.35"/>
<circle cx="118.6" cy="110.7" r="2.35"/>
<circle cx="119.6" cy="125.2" r="2.35"/>
<circle cx="126.9" cy="105.6" r="2.35"/>
<circle cx="120.9" cy="103" r="2.35"/>
<circle cx="109.8" cy="144.8" r="2.35"/>
<circle cx="83.4" cy="159.7" r="2.35"/>
<circle cx="119.9" cy="135.3" r="2.35"/>
<circle cx="114.5" cy="136.8" r="2.35"/>
<circle cx="115.5" cy="118.4" r="2.35"/>
<circle cx="112.7" cy="141.9" r="2.35"/>
<circle cx="120.3" cy="134.9" r="2.35"/>
<circle cx="89.7" cy="129.3" r="2.35"/>
<circle cx="111.3" cy="125.2" r="2.35"/>
<circle cx="102.3" cy="128.4" r="2.35"/>
<circle cx="92" cy="127.1" r="2.35"/>
<circle cx="91.4" cy="123.9" r="2.35"/>
<circle cx="81.6" cy="169.9" r="2.35"/>
<circle cx="100.9" cy="147.5" r="2.35"/>
<circle cx="93.8" cy="166.3" r="2.35"/>
<circle cx="96.8" cy="158" r="2.35"/>
<circle cx="141.1" cy="98.2" r="2.35"/>
<circle cx="138.2" cy="88.1" r="2.35"/>
<circle cx="138.2" cy="120.4" r="2.35"/>
<circle cx="143.3" cy="99.5" r="2.35"/>
<circle cx="130.4" cy="107.3" r="2.35"/>
<circle cx="135.3" cy="123.3" r="2.35"/>
<circle cx="128.3" cy="113.9" r="2.35"/>
<circle cx="133.3" cy="123.5" r="2.35"/>
<circle cx="142.8" cy="127.8" r="2.35"/>
<circle cx="128.2" cy="98.5" r="2.35"/>
<circle cx="139.5" cy="113.6" r="2.35"/>
<circle cx="141.3" cy="92.3" r="2.35"/>
<circle cx="135.3" cy="111.8" r="2.35"/>
<circle cx="140.2" cy="102.4" r="2.35"/>
<circle cx="134.2" cy="108.5" r="2.35"/>
<circle cx="132.7" cy="99.6" r="2.35"/>
<circle cx="135.2" cy="121.2" r="2.35"/>
<circle cx="130" cy="96.3" r="2.35"/>
<circle cx="131.9" cy="94.2" r="2.35"/>
<circle cx="131.9" cy="132.5" r="2.35"/>
<circle cx="143.4" cy="116.6" r="2.35"/>
<circle cx="132.4" cy="109.3" r="2.35"/>
<circle cx="130.6" cy="127.6" r="2.35"/>
<circle cx="142.6" cy="99" r="2.35"/>
<circle cx="129" cy="119.6" r="2.35"/>
<circle cx="143" cy="109.1" r="2.35"/>
<circle cx="141.1" cy="99" r="2.35"/>
<circle cx="137.6" cy="132.8" r="2.35"/>
<circle cx="133.9" cy="119.8" r="2.35"/>
<circle cx="130" cy="127.9" r="2.35"/>
<circle cx="128.5" cy="113.3" r="2.35"/>
<circle cx="128.5" cy="140.5" r="2.35"/>
<circle cx="153.2" cy="104" r="2.35"/>
<circle cx="155.4" cy="95.7" r="2.35"/>
<circle cx="174.6" cy="97.1" r="2.35"/>
<circle cx="160.2" cy="110.2" r="2.35"/>
<circle cx="177.1" cy="82.8" r="2.35"/>
<circle cx="167" cy="72" r="2.35"/>
<circle cx="145.7" cy="116.4" r="2.35"/>
<circle cx="160.8" cy="98.2" r="2.35"/>
<circle cx="146.1" cy="109.7" r="2.35"/>
<circle cx="141.7" cy="110.4" r="2.35"/>
<circle cx="175.3" cy="88.1" r="2.35"/>
<circle cx="152.8" cy="86.4" r="2.35"/>
<circle cx="147.3" cy="111.9" r="2.35"/>
<circle cx="144" cy="111.3" r="2.35"/>
<circle cx="164.5" cy="96.8" r="2.35"/>
<circle cx="157.4" cy="92.2" r="2.35"/>
<circle cx="140.7" cy="114.3" r="2.35"/>
<circle cx="166.8" cy="77.8" r="2.35"/>
<circle cx="149.8" cy="112.4" r="2.35"/>
<circle cx="169.2" cy="83.9" r="2.35"/>
<circle cx="158.4" cy="89.3" r="2.35"/>
<circle cx="160.1" cy="94" r="2.35"/>
<circle cx="157.2" cy="113.3" r="2.35"/>
<circle cx="165.4" cy="89.5" r="2.35"/>
<circle cx="177" cy="85.2" r="2.35"/>
<circle cx="169.9" cy="78.1" r="2.35"/>
<circle cx="142.8" cy="116.5" r="2.35"/>
<circle cx="158.6" cy="106.9" r="2.35"/>
<circle cx="148.9" cy="101.7" r="2.35"/>
<circle cx="144" cy="105.7" r="2.35"/>
<circle cx="147.5" cy="115.1" r="2.35"/>
<circle cx="149.4" cy="95" r="2.35"/>
<circle cx="175.9" cy="106.4" r="2.35"/>
<circle cx="167.9" cy="109.2" r="2.35"/>
<circle cx="171.9" cy="86" r="2.35"/>
<circle cx="166.2" cy="108.7" r="2.35"/>
<circle cx="152" cy="85.1" r="2.35"/>
<circle cx="154.8" cy="98.1" r="2.35"/>
<circle cx="156.6" cy="109.8" r="2.35"/>
<circle cx="151.1" cy="99.6" r="2.35"/>
<circle cx="155.9" cy="108.4" r="2.35"/>
<circle cx="168.9" cy="84.3" r="2.35"/>
<circle cx="143" cy="95.6" r="2.35"/>
<circle cx="150.5" cy="103.8" r="2.35"/>
<circle cx="158" cy="115.7" r="2.35"/>
<circle cx="165.4" cy="98.7" r="2.35"/>
<circle cx="164.2" cy="77.7" r="2.35"/>
<circle cx="167.2" cy="107.4" r="2.35"/>
<circle cx="144.1" cy="110.6" r="2.35"/>
<circle cx="146.9" cy="96.4" r="2.35"/>
<circle cx="151.7" cy="81.2" r="2.35"/>
<circle cx="150.7" cy="108.2" r="2.35"/>
<circle cx="168.3" cy="85.1" r="2.35"/>
<circle cx="177.2" cy="101.8" r="2.35"/>
<circle cx="165.6" cy="94.2" r="2.35"/>
<circle cx="173.3" cy="99.5" r="2.35"/>
<circle cx="180.9" cy="69" r="2.35"/>
<circle cx="195.4" cy="54.3" r="2.35"/>
<circle cx="198.9" cy="69.4" r="2.35"/>
<circle cx="189.4" cy="89.1" r="2.35"/>
<circle cx="182.4" cy="100" r="2.35"/>
<circle cx="182.5" cy="84.7" r="2.35"/>
<circle cx="190.5" cy="86.8" r="2.35"/>
<circle cx="197.2" cy="84.8" r="2.35"/>
<circle cx="182.1" cy="71" r="2.35"/>
<circle cx="177.8" cy="96.2" r="2.35"/>
<circle cx="172.4" cy="89.4" r="2.35"/>
<circle cx="176.3" cy="106.7" r="2.35"/>
<circle cx="196.8" cy="83.6" r="2.35"/>
<circle cx="190.3" cy="62.6" r="2.35"/>
<circle cx="200.8" cy="57.7" r="2.35"/>
<circle cx="174.3" cy="88.8" r="2.35"/>
<circle cx="182.8" cy="70" r="2.35"/>
<circle cx="195.2" cy="73.8" r="2.35"/>
<circle cx="191.3" cy="70.2" r="2.35"/>
<circle cx="174.2" cy="101.8" r="2.35"/>
<circle cx="183.9" cy="91.3" r="2.35"/>
<circle cx="190.6" cy="79.2" r="2.35"/>
<circle cx="192.1" cy="73.1" r="2.35"/>
<circle cx="185.3" cy="60.4" r="2.35"/>
<circle cx="177.7" cy="86" r="2.35"/>
<circle cx="200.1" cy="81.2" r="2.35"/>
<circle cx="185.7" cy="64.6" r="2.35"/>
<circle cx="192.9" cy="86" r="2.35"/>
<circle cx="187.7" cy="95.5" r="2.35"/>
<circle cx="174.6" cy="79.5" r="2.35"/>
<circle cx="179.1" cy="70.9" r="2.35"/>
<circle cx="174.1" cy="92.1" r="2.35"/>
<circle cx="177.8" cy="99.6" r="2.35"/>
<circle cx="178.1" cy="83.2" r="2.35"/>
<circle cx="184.2" cy="87.1" r="2.35"/>
<circle cx="181.6" cy="93.9" r="2.35"/>
<circle cx="182.7" cy="62.1" r="2.35"/>
<circle cx="195.8" cy="75" r="2.35"/>
<circle cx="172.9" cy="100.1" r="2.35"/>
<circle cx="175.3" cy="87.5" r="2.35"/>
<circle cx="195.5" cy="85.5" r="2.35"/>
<circle cx="187.7" cy="65.9" r="2.35"/>
<circle cx="184.9" cy="87.1" r="2.35"/>
<circle cx="180" cy="97.7" r="2.35"/>
<circle cx="187.9" cy="67" r="2.35"/>
<circle cx="178.7" cy="104.6" r="2.35"/>
<circle cx="197" cy="79.6" r="2.35"/>
<circle cx="196" cy="74.3" r="2.35"/>
<circle cx="181.6" cy="86" r="2.35"/>
<circle cx="173" cy="68.4" r="2.35"/>
<circle cx="197.8" cy="63.8" r="2.35"/>
<circle cx="180.9" cy="76.3" r="2.35"/>
<circle cx="191.2" cy="78.9" r="2.35"/>
<circle cx="197" cy="62.7" r="2.35"/>
<circle cx="195.3" cy="82.4" r="2.35"/>
<circle cx="197.1" cy="85.8" r="2.35"/>
<circle cx="186.4" cy="90.2" r="2.35"/>
<circle cx="196.5" cy="78.7" r="2.35"/>
<circle cx="185.6" cy="56.5" r="2.35"/>
<circle cx="179.9" cy="102.5" r="2.35"/>
<circle cx="186.1" cy="78.2" r="2.35"/>
<circle cx="182" cy="70.2" r="2.35"/>
<circle cx="194.4" cy="72.8" r="2.35"/>
<circle cx="196.2" cy="81.8" r="2.35"/>
<circle cx="176.4" cy="88.7" r="2.35"/>
<circle cx="177.1" cy="78.4" r="2.35"/>
<circle cx="183.4" cy="79.6" r="2.35"/>
<circle cx="185.6" cy="97.1" r="2.35"/>
<circle cx="199.8" cy="79.1" r="2.35"/>
<circle cx="199.4" cy="72.7" r="2.35"/>
<circle cx="200.1" cy="46.7" r="2.35"/>
<circle cx="193.3" cy="59.8" r="2.35"/>
<circle cx="191.8" cy="71" r="2.35"/>
<circle cx="180.1" cy="98.1" r="2.35"/>
<circle cx="207.8" cy="58.9" r="2.35"/>
<circle cx="197.8" cy="59.4" r="2.35"/>
<circle cx="220.2" cy="47.4" r="2.35"/>
<circle cx="205.1" cy="72.4" r="2.35"/>
<circle cx="199.8" cy="67.1" r="2.35"/>
<circle cx="206.2" cy="48.6" r="2.35"/>
<circle cx="206.4" cy="48.3" r="2.35"/>
<circle cx="217.3" cy="47.7" r="2.35"/>
<circle cx="197.8" cy="72.8" r="2.35"/>
<circle cx="203.9" cy="68.1" r="2.35"/>
<circle cx="221.9" cy="52.1" r="2.35"/>
<circle cx="220.8" cy="37.8" r="2.35"/>
<circle cx="214.7" cy="52.7" r="2.35"/>
<circle cx="212.8" cy="45" r="2.35"/>
<circle cx="203.7" cy="77.6" r="2.35"/>
<circle cx="221.3" cy="53.7" r="2.35"/>
<circle cx="218.2" cy="47.2" r="2.35"/>
<circle cx="211.5" cy="50.8" r="2.35"/>
<circle cx="202" cy="73.3" r="2.35"/>
<circle cx="203.5" cy="64.5" r="2.35"/>
<circle cx="207.9" cy="64.9" r="2.35"/>
<circle cx="206.6" cy="76.7" r="2.35"/>
<circle cx="199.3" cy="78.4" r="2.35"/>
<circle cx="208.7" cy="54.3" r="2.35"/>
<circle cx="209.8" cy="60.4" r="2.35"/>
<circle cx="205.4" cy="63.1" r="2.35"/>
<circle cx="208.1" cy="50.3" r="2.35"/>
<circle cx="206.7" cy="63.2" r="2.35"/>
<circle cx="207.9" cy="74.6" r="2.35"/>
<circle cx="214.4" cy="66.3" r="2.35"/>
<circle cx="211.1" cy="67.6" r="2.35"/>
<circle cx="203" cy="48" r="2.35"/>
<circle cx="219.2" cy="49.7" r="2.35"/>
<circle cx="211.6" cy="63.1" r="2.35"/>
<circle cx="210.1" cy="60.4" r="2.35"/>
<circle cx="217" cy="52.4" r="2.35"/>
<circle cx="218" cy="61.9" r="2.35"/>
<circle cx="220.6" cy="57.7" r="2.35"/>
<circle cx="219.6" cy="58" r="2.35"/>
<circle cx="215.8" cy="53" r="2.35"/>
<circle cx="217.2" cy="39.1" r="2.35"/>
<circle cx="201.9" cy="58.3" r="2.35"/>
<circle cx="216.6" cy="49.6" r="2.35"/>
<circle cx="204.6" cy="73.7" r="2.35"/>
<circle cx="204.7" cy="70" r="2.35"/>
<circle cx="200.9" cy="80" r="2.35"/>
<circle cx="208.4" cy="42.2" r="2.35"/>
<circle cx="198.2" cy="74" r="2.35"/>
<circle cx="215.4" cy="63.4" r="2.35"/>
<circle cx="217.9" cy="40.3" r="2.35"/>
<circle cx="218.7" cy="59.8" r="2.35"/>
<circle cx="201.2" cy="60.2" r="2.35"/>
<circle cx="215" cy="63.7" r="2.35"/>
<circle cx="220.3" cy="58.4" r="2.35"/>
<circle cx="198.7" cy="73.1" r="2.35"/>
<circle cx="202.9" cy="71.9" r="2.35"/>
<circle cx="204.9" cy="49.7" r="2.35"/>
<circle cx="210.2" cy="51.7" r="2.35"/>
<circle cx="202.3" cy="61.1" r="2.35"/>
<circle cx="212.3" cy="50.7" r="2.35"/>
<circle cx="207" cy="64.7" r="2.35"/>
<circle cx="215.4" cy="60" r="2.35"/>
<circle cx="229.7" cy="40.9" r="2.35"/>
<circle cx="231.2" cy="45.8" r="2.35"/>
<circle cx="227.1" cy="42.2" r="2.35"/>
<circle cx="54.4" cy="139.1" r="2.35"/>
<circle cx="60.5" cy="135.3" r="2.35"/>
<circle cx="65.2" cy="124.1" r="2.35"/>
<circle cx="83.4" cy="162.4" r="2.35"/>
<circle cx="86.1" cy="122.6" r="2.35"/>
<circle cx="109.8" cy="163" r="2.35"/>
<circle cx="232.2" cy="39.2" r="2.35"/>
<circle cx="207.5" cy="33.3" r="2.35"/>
<circle cx="201.1" cy="88.7" r="2.35"/>
<circle cx="170" cy="107.3" r="2.35"/>
<circle cx="157.1" cy="115.3" r="2.35"/>
</g>
<line x1="42.2" y1="190.4" x2="238.2" y2="19.5" stroke="#c66a42" stroke-width="1.75" stroke-dasharray="8.4 4" stroke-dashoffset="7.7"/>
<rect x="42.2" y="13.6" width="202.8" height="176.8" fill="none" stroke="#555" stroke-width="1.3"/>
<path d="M42.2 190.4v-1.9M42.2 13.6v1.9M76 190.4v-1.9M76 13.6v1.9M109.8 190.4v-1.9M109.8 13.6v1.9M143.6 190.4v-1.9M143.6 13.6v1.9M177.4 190.4v-1.9M177.4 13.6v1.9M211.2 190.4v-1.9M211.2 13.6v1.9M245 190.4v-1.9M245 13.6v1.9M42.2 190.4h1.9M245 190.4h-1.9M42.2 160.9h1.9M245 160.9h-1.9M42.2 131.5h1.9M245 131.5h-1.9M42.2 102h1.9M245 102h-1.9M42.2 72.5h1.9M245 72.5h-1.9M42.2 43.1h1.9M245 43.1h-1.9M42.2 13.6h1.9M245 13.6h-1.9" stroke="#555" stroke-width="0.9" fill="none"/>
<g font-family="'Liberation Sans', sans-serif" font-size="11.2" fill="#3c3c3c" stroke="#3c3c3c" stroke-width="0.25">
<text transform="translate(42.2 205.5) scale(0.77 1)" text-anchor="middle">0</text>
<text transform="translate(76 205.5) scale(0.77 1)" text-anchor="middle">100</text>
<text transform="translate(109.8 205.5) scale(0.77 1)" text-anchor="middle">200</text>
<text transform="translate(143.6 205.5) scale(0.77 1)" text-anchor="middle">300</text>
<text transform="translate(177.4 205.5) scale(0.77 1)" text-anchor="middle">400</text>
<text transform="translate(211.2 205.5) scale(0.77 1)" text-anchor="middle">500</text>
<text transform="translate(245 205.5) scale(0.77 1)" text-anchor="middle">600</text>
<text transform="translate(38.2 194.6) scale(0.77 1)" text-anchor="end">0</text>
<text transform="translate(38.2 165.1) scale(0.77 1)" text-anchor="end">100</text>
<text transform="translate(38.2 135.7) scale(0.77 1)" text-anchor="end">200</text>
<text transform="translate(38.2 106.2) scale(0.77 1)" text-anchor="end">300</text>
<text transform="translate(38.2 76.7) scale(0.77 1)" text-anchor="end">400</text>
<text transform="translate(38.2 47.3) scale(0.77 1)" text-anchor="end">500</text>
<text transform="translate(38.2 17.8) scale(0.77 1)" text-anchor="end">600</text>
</g>
<g font-family="'Liberation Serif', serif" font-size="11.9" fill="#1c1c1c" stroke="#1c1c1c" stroke-width="0.22">
<text x="146.5" y="220.3" text-anchor="middle">Ground Truth (g/kg)</text>
<text transform="translate(18.3 96.4) rotate(-90)" text-anchor="middle">Predicted (g/kg)</text>
</g>
<text x="139.1" y="241.5" text-anchor="middle" font-family="'Liberation Serif', serif" font-size="14.5" fill="#111" stroke="#111" stroke-width="0.15">(<tspan font-weight="bold">a</tspan>)</text>
</g>
<g id="plot-b">
<g fill="#186eb8" stroke="#0a2d52" stroke-width="0.75">
<circle cx="342.4" cy="162.2" r="2.35"/>
<circle cx="342.3" cy="176.8" r="2.35"/>
<circle cx="351.9" cy="184.5" r="2.35"/>
<circle cx="389.7" cy="142.3" r="2.35"/>
<circle cx="360.3" cy="153.6" r="2.35"/>
<circle cx="335.7" cy="184.5" r="2.35"/>
<circle cx="356.7" cy="161.8" r="2.35"/>
<circle cx="331.9" cy="185" r="2.35"/>
<circle cx="348.9" cy="156.4" r="2.35"/>
<circle cx="342.1" cy="171.2" r="2.35"/>
<circle cx="400.7" cy="122.5" r="2.35"/>
<circle cx="364.1" cy="170.5" r="2.35"/>
<circle cx="382.7" cy="139.1" r="2.35"/>
<circle cx="352.2" cy="175.4" r="2.35"/>
<circle cx="375.2" cy="154.9" r="2.35"/>
<circle cx="344.4" cy="153.4" r="2.35"/>
<circle cx="360.4" cy="141.5" r="2.35"/>
<circle cx="356.3" cy="167.1" r="2.35"/>
<circle cx="356.3" cy="143.3" r="2.35"/>
<circle cx="352.9" cy="168.4" r="2.35"/>
<circle cx="338.3" cy="173.9" r="2.35"/>
<circle cx="364.4" cy="148.4" r="2.35"/>
<circle cx="350.3" cy="169.2" r="2.35"/>
<circle cx="343.5" cy="163.3" r="2.35"/>
<circle cx="354.2" cy="164.4" r="2.35"/>
<circle cx="370.1" cy="139.1" r="2.35"/>
<circle cx="354.4" cy="151.2" r="2.35"/>
<circle cx="349.5" cy="158.3" r="2.35"/>
<circle cx="377.7" cy="140.1" r="2.35"/>
<circle cx="335.1" cy="177.4" r="2.35"/>
<circle cx="367.4" cy="168" r="2.35"/>
<circle cx="344.9" cy="174.6" r="2.35"/>
<circle cx="352" cy="152.5" r="2.35"/>
<circle cx="353.5" cy="179" r="2.35"/>
<circle cx="409.2" cy="111" r="2.35"/>
<circle cx="331.4" cy="178.9" r="2.35"/>
<circle cx="371.2" cy="171.5" r="2.35"/>
<circle cx="363.9" cy="149.6" r="2.35"/>
<circle cx="356.6" cy="180.2" r="2.35"/>
<circle cx="344.3" cy="176.6" r="2.35"/>
<circle cx="353.1" cy="174.7" r="2.35"/>
<circle cx="405" cy="124.5" r="2.35"/>
<circle cx="333.6" cy="179.5" r="2.35"/>
<circle cx="394.3" cy="129.2" r="2.35"/>
<circle cx="381.3" cy="150.3" r="2.35"/>
<circle cx="369.1" cy="164.4" r="2.35"/>
<circle cx="371.5" cy="165.4" r="2.35"/>
<circle cx="388.8" cy="136.1" r="2.35"/>
<circle cx="348.9" cy="163.8" r="2.35"/>
<circle cx="361.6" cy="171.6" r="2.35"/>
<circle cx="338.9" cy="167.3" r="2.35"/>
<circle cx="359.7" cy="163.7" r="2.35"/>
<circle cx="419.5" cy="127.1" r="2.35"/>
<circle cx="352.1" cy="170.1" r="2.35"/>
<circle cx="365.1" cy="142.4" r="2.35"/>
<circle cx="336.1" cy="182.1" r="2.35"/>
<circle cx="380.5" cy="132.3" r="2.35"/>
<circle cx="366.5" cy="139.2" r="2.35"/>
<circle cx="362.1" cy="177.1" r="2.35"/>
<circle cx="339.4" cy="155.6" r="2.35"/>
<circle cx="353.1" cy="178.8" r="2.35"/>
<circle cx="333.3" cy="171.1" r="2.35"/>
<circle cx="401.9" cy="127.5" r="2.35"/>
<circle cx="345.4" cy="155.8" r="2.35"/>
<circle cx="343.7" cy="176.6" r="2.35"/>
<circle cx="356" cy="181.4" r="2.35"/>
<circle cx="366.1" cy="172.8" r="2.35"/>
<circle cx="336.6" cy="169" r="2.35"/>
<circle cx="335" cy="170.7" r="2.35"/>
<circle cx="358.8" cy="155.3" r="2.35"/>
<circle cx="364.4" cy="160.4" r="2.35"/>
<circle cx="393.8" cy="130.6" r="2.35"/>
<circle cx="359.5" cy="160.9" r="2.35"/>
<circle cx="371.6" cy="165.5" r="2.35"/>
<circle cx="345.9" cy="163.8" r="2.35"/>
<circle cx="349.2" cy="168.6" r="2.35"/>
<circle cx="368.7" cy="160.8" r="2.35"/>
<circle cx="365.1" cy="156.5" r="2.35"/>
<circle cx="377.4" cy="160.8" r="2.35"/>
<circle cx="333.6" cy="184.7" r="2.35"/>
<circle cx="341.9" cy="181.3" r="2.35"/>
<circle cx="369.4" cy="165.5" r="2.35"/>
<circle cx="353.8" cy="169.8" r="2.35"/>
<circle cx="333.6" cy="169.3" r="2.35"/>
<circle cx="331.7" cy="186.3" r="2.35"/>
<circle cx="338.4" cy="154.2" r="2.35"/>
<circle cx="339.6" cy="167.4" r="2.35"/>
<circle cx="345.9" cy="187.6" r="2.35"/>
<circle cx="370.6" cy="139.2" r="2.35"/>
<circle cx="368.4" cy="148.1" r="2.35"/>
<circle cx="336.9" cy="181.2" r="2.35"/>
<circle cx="344.1" cy="159.4" r="2.35"/>
<circle cx="350.4" cy="178.3" r="2.35"/>
<circle cx="350.1" cy="158.3" r="2.35"/>
<circle cx="379.3" cy="127.3" r="2.35"/>
<circle cx="373.8" cy="143.8" r="2.35"/>
<circle cx="392" cy="144.1" r="2.35"/>
<circle cx="360.9" cy="161.4" r="2.35"/>
<circle cx="349.4" cy="166.5" r="2.35"/>
<circle cx="348.5" cy="173" r="2.35"/>
<circle cx="367.8" cy="145.1" r="2.35"/>
<circle cx="370.2" cy="157.5" r="2.35"/>
<circle cx="382.6" cy="149.5" r="2.35"/>
<circle cx="386.9" cy="136.4" r="2.35"/>
<circle cx="338.7" cy="180" r="2.35"/>
<circle cx="341.7" cy="170" r="2.35"/>
<circle cx="369" cy="134.7" r="2.35"/>
<circle cx="340.7" cy="164.8" r="2.35"/>
<circle cx="368.1" cy="141" r="2.35"/>
<circle cx="336.4" cy="164" r="2.35"/>
<circle cx="395.4" cy="137.6" r="2.35"/>
<circle cx="376.2" cy="137.7" r="2.35"/>
<circle cx="354.4" cy="173.3" r="2.35"/>
<circle cx="345" cy="170.5" r="2.35"/>
<circle cx="355.7" cy="161.6" r="2.35"/>
<circle cx="334.7" cy="183.1" r="2.35"/>
<circle cx="341.4" cy="155.7" r="2.35"/>
<circle cx="379.5" cy="127.2" r="2.35"/>
<circle cx="348.4" cy="179.1" r="2.35"/>
<circle cx="383.5" cy="141.1" r="2.35"/>
<circle cx="359" cy="156.1" r="2.35"/>
<circle cx="336.7" cy="166.9" r="2.35"/>
<circle cx="332.1" cy="175.7" r="2.35"/>
<circle cx="354.2" cy="178.2" r="2.35"/>
<circle cx="341.8" cy="182.6" r="2.35"/>
<circle cx="345.8" cy="169.7" r="2.35"/>
<circle cx="355" cy="166.4" r="2.35"/>
<circle cx="342" cy="183.4" r="2.35"/>
<circle cx="347.9" cy="168.5" r="2.35"/>
<circle cx="359.7" cy="148.6" r="2.35"/>
<circle cx="338.9" cy="161.6" r="2.35"/>
<circle cx="336.3" cy="170.6" r="2.35"/>
<circle cx="389.9" cy="127.4" r="2.35"/>
<circle cx="359.4" cy="176.1" r="2.35"/>
<circle cx="393.6" cy="131.1" r="2.35"/>
<circle cx="343" cy="165.8" r="2.35"/>
<circle cx="340.8" cy="179" r="2.35"/>
<circle cx="343" cy="176" r="2.35"/>
<circle cx="337.1" cy="179.3" r="2.35"/>
<circle cx="338.6" cy="178.2" r="2.35"/>
<circle cx="355.9" cy="172.2" r="2.35"/>
<circle cx="356" cy="151.8" r="2.35"/>
<circle cx="349.9" cy="154.1" r="2.35"/>
<circle cx="346.9" cy="177.3" r="2.35"/>
<circle cx="378.8" cy="144" r="2.35"/>
<circle cx="376.5" cy="158.7" r="2.35"/>
<circle cx="367.3" cy="137.6" r="2.35"/>
<circle cx="388.6" cy="136.5" r="2.35"/>
<circle cx="363.6" cy="140.4" r="2.35"/>
<circle cx="353.2" cy="175.1" r="2.35"/>
<circle cx="365.2" cy="143.8" r="2.35"/>
<circle cx="377.2" cy="155.1" r="2.35"/>
<circle cx="421" cy="125.1" r="2.35"/>
<circle cx="350.3" cy="157.7" r="2.35"/>
<circle cx="352.8" cy="165.5" r="2.35"/>
<circle cx="336.9" cy="189.9" r="2.35"/>
<circle cx="342.8" cy="175.3" r="2.35"/>
<circle cx="336.2" cy="186.1" r="2.35"/>
<circle cx="347" cy="163.7" r="2.35"/>
<circle cx="348.6" cy="170.3" r="2.35"/>
<circle cx="377.3" cy="163.8" r="2.35"/>
<circle cx="351.6" cy="178.5" r="2.35"/>
<circle cx="345.1" cy="182.5" r="2.35"/>
<circle cx="341.3" cy="172.5" r="2.35"/>
<circle cx="337" cy="176.3" r="2.35"/>
<circle cx="394.1" cy="147.7" r="2.35"/>
<circle cx="375.7" cy="154.5" r="2.35"/>
<circle cx="337.4" cy="177" r="2.35"/>
<circle cx="352.3" cy="150.9" r="2.35"/>
<circle cx="339.2" cy="176.3" r="2.35"/>
<circle cx="358.3" cy="170.3" r="2.35"/>
<circle cx="368.4" cy="156.5" r="2.35"/>
<circle cx="347.9" cy="160.8" r="2.35"/>
<circle cx="333.3" cy="189.2" r="2.35"/>
<circle cx="338.6" cy="189.4" r="2.35"/>
<circle cx="339.8" cy="178" r="2.35"/>
<circle cx="419.4" cy="107.9" r="2.35"/>
<circle cx="393.1" cy="132.7" r="2.35"/>
<circle cx="365.2" cy="156.7" r="2.35"/>
<circle cx="340.8" cy="184.3" r="2.35"/>
<circle cx="342.3" cy="180.4" r="2.35"/>
<circle cx="341.1" cy="183.6" r="2.35"/>
<circle cx="370.8" cy="146.1" r="2.35"/>
<circle cx="333.1" cy="172.6" r="2.35"/>
<circle cx="374.4" cy="151.3" r="2.35"/>
<circle cx="335.6" cy="174.3" r="2.35"/>
<circle cx="379.9" cy="129.4" r="2.35"/>
<circle cx="365.2" cy="135.6" r="2.35"/>
<circle cx="353.7" cy="162" r="2.35"/>
<circle cx="353.9" cy="156.8" r="2.35"/>
<circle cx="346.4" cy="182" r="2.35"/>
<circle cx="346.5" cy="175.9" r="2.35"/>
<circle cx="352.4" cy="160.6" r="2.35"/>
<circle cx="356.4" cy="160.3" r="2.35"/>
<circle cx="345.7" cy="175.8" r="2.35"/>
<circle cx="389.7" cy="137" r="2.35"/>
<circle cx="340.1" cy="171.2" r="2.35"/>
<circle cx="341.4" cy="177.6" r="2.35"/>
<circle cx="333.8" cy="178.7" r="2.35"/>
<circle cx="360.5" cy="159.7" r="2.35"/>
<circle cx="346" cy="174.3" r="2.35"/>
<circle cx="355.5" cy="177.1" r="2.35"/>
<circle cx="372.2" cy="171.5" r="2.35"/>
<circle cx="341.7" cy="186.6" r="2.35"/>
<circle cx="339.9" cy="182.8" r="2.35"/>
<circle cx="343.2" cy="183.8" r="2.35"/>
<circle cx="403.4" cy="127.1" r="2.35"/>
<circle cx="335.1" cy="166.6" r="2.35"/>
<circle cx="380.3" cy="156" r="2.35"/>
<circle cx="366.6" cy="161.8" r="2.35"/>
<circle cx="383.2" cy="148.5" r="2.35"/>
<circle cx="358.7" cy="169.1" r="2.35"/>
<circle cx="352" cy="178.4" r="2.35"/>
<circle cx="336.4" cy="167" r="2.35"/>
<circle cx="350.7" cy="151" r="2.35"/>
<circle cx="350.6" cy="162.3" r="2.35"/>
<circle cx="337.5" cy="181.3" r="2.35"/>
<circle cx="382.8" cy="160.7" r="2.35"/>
<circle cx="392.2" cy="129.9" r="2.35"/>
<circle cx="335" cy="172.2" r="2.35"/>
<circle cx="371" cy="158.3" r="2.35"/>
<circle cx="366.7" cy="173.2" r="2.35"/>
<circle cx="380.4" cy="138.1" r="2.35"/>
<circle cx="351.1" cy="182.3" r="2.35"/>
<circle cx="352.5" cy="179.9" r="2.35"/>
<circle cx="392.8" cy="129.6" r="2.35"/>
<circle cx="339.5" cy="164.8" r="2.35"/>
<circle cx="374.7" cy="142" r="2.35"/>
<circle cx="337.2" cy="182" r="2.35"/>
<circle cx="367.5" cy="145.6" r="2.35"/>
<circle cx="350.9" cy="181.7" r="2.35"/>
<circle cx="364.6" cy="153.2" r="2.35"/>
<circle cx="340.1" cy="183.3" r="2.35"/>
<circle cx="352" cy="167" r="2.35"/>
<circle cx="360.8" cy="160.3" r="2.35"/>
<circle cx="393.9" cy="146.2" r="2.35"/>
<circle cx="361.6" cy="171.5" r="2.35"/>
<circle cx="347.9" cy="174.2" r="2.35"/>
<circle cx="341.6" cy="172.2" r="2.35"/>
<circle cx="388.7" cy="141.7" r="2.35"/>
<circle cx="393.6" cy="150.7" r="2.35"/>
<circle cx="394.4" cy="149.9" r="2.35"/>
<circle cx="409" cy="117.6" r="2.35"/>
<circle cx="371.9" cy="164.4" r="2.35"/>
<circle cx="395.4" cy="137.9" r="2.35"/>
<circle cx="383.1" cy="146.1" r="2.35"/>
<circle cx="375" cy="148.2" r="2.35"/>
<circle cx="347.8" cy="163.2" r="2.35"/>
<circle cx="331.3" cy="177.5" r="2.35"/>
<circle cx="340.8" cy="188.1" r="2.35"/>
<circle cx="356.6" cy="157" r="2.35"/>
<circle cx="334" cy="168.9" r="2.35"/>
<circle cx="346.3" cy="168.9" r="2.35"/>
<circle cx="343.4" cy="157.2" r="2.35"/>
<circle cx="339" cy="165.6" r="2.35"/>
<circle cx="353.9" cy="177.6" r="2.35"/>
<circle cx="338.6" cy="154" r="2.35"/>
<circle cx="339.5" cy="166.3" r="2.35"/>
<circle cx="366.5" cy="171.5" r="2.35"/>
<circle cx="352.8" cy="165.3" r="2.35"/>
<circle cx="354.4" cy="173.7" r="2.35"/>
<circle cx="362.3" cy="177.7" r="2.35"/>
<circle cx="359.7" cy="153.5" r="2.35"/>
<circle cx="391.1" cy="146.6" r="2.35"/>
<circle cx="358.4" cy="158.9" r="2.35"/>
<circle cx="344.4" cy="183.1" r="2.35"/>
<circle cx="354.7" cy="171.9" r="2.35"/>
<circle cx="370" cy="145.9" r="2.35"/>
<circle cx="359.7" cy="147" r="2.35"/>
<circle cx="352.3" cy="177.3" r="2.35"/>
<circle cx="382.7" cy="157" r="2.35"/>
<circle cx="418" cy="136.7" r="2.35"/>
<circle cx="394" cy="143.1" r="2.35"/>
<circle cx="349" cy="164.2" r="2.35"/>
<circle cx="364" cy="158.4" r="2.35"/>
<circle cx="366.5" cy="171" r="2.35"/>
<circle cx="351.1" cy="173.1" r="2.35"/>
<circle cx="374.6" cy="140.7" r="2.35"/>
<circle cx="343.2" cy="176.1" r="2.35"/>
<circle cx="363.5" cy="146" r="2.35"/>
<circle cx="372.6" cy="150.4" r="2.35"/>
<circle cx="362" cy="174.9" r="2.35"/>
<circle cx="344.4" cy="160.9" r="2.35"/>
<circle cx="342.3" cy="163.4" r="2.35"/>
<circle cx="406" cy="133" r="2.35"/>
<circle cx="338.4" cy="173.2" r="2.35"/>
<circle cx="356.7" cy="173.5" r="2.35"/>
<circle cx="350.8" cy="172.5" r="2.35"/>
<circle cx="335" cy="185" r="2.35"/>
<circle cx="350.8" cy="169" r="2.35"/>
<circle cx="382.4" cy="130.5" r="2.35"/>
<circle cx="339.8" cy="172.5" r="2.35"/>
<circle cx="341.9" cy="164.1" r="2.35"/>
<circle cx="366.1" cy="177" r="2.35"/>
<circle cx="366.1" cy="145.6" r="2.35"/>
<circle cx="358.6" cy="156.1" r="2.35"/>
<circle cx="343.9" cy="169" r="2.35"/>
<circle cx="343.3" cy="174.8" r="2.35"/>
<circle cx="340.1" cy="178.7" r="2.35"/>
<circle cx="366" cy="171.6" r="2.35"/>
<circle cx="370.4" cy="155.7" r="2.35"/>
<circle cx="351.4" cy="181.5" r="2.35"/>
<circle cx="337.6" cy="158.6" r="2.35"/>
<circle cx="352.3" cy="158.7" r="2.35"/>
<circle cx="359" cy="170.8" r="2.35"/>
<circle cx="373.7" cy="170.7" r="2.35"/>
<circle cx="354.2" cy="183.6" r="2.35"/>
<circle cx="337.7" cy="190.3" r="2.35"/>
<circle cx="342.9" cy="177.9" r="2.35"/>
<circle cx="378.9" cy="153.8" r="2.35"/>
<circle cx="423.8" cy="106.6" r="2.35"/>
<circle cx="367.5" cy="132.5" r="2.35"/>
<circle cx="339.5" cy="162.8" r="2.35"/>
<circle cx="340.4" cy="154.4" r="2.35"/>
<circle cx="358.3" cy="144.5" r="2.35"/>
<circle cx="352.6" cy="170.1" r="2.35"/>
<circle cx="351.6" cy="153.6" r="2.35"/>
<circle cx="367.4" cy="144.1" r="2.35"/>
<circle cx="333.5" cy="159.9" r="2.35"/>
<circle cx="391.1" cy="141.3" r="2.35"/>
<circle cx="347.8" cy="164.9" r="2.35"/>
<circle cx="381.2" cy="161.6" r="2.35"/>
<circle cx="348.3" cy="169.8" r="2.35"/>
<circle cx="379.1" cy="138.8" r="2.35"/>
<circle cx="411.5" cy="125.4" r="2.35"/>
<circle cx="337.6" cy="166" r="2.35"/>
<circle cx="349.8" cy="178.3" r="2.35"/>
<circle cx="366.6" cy="171.7" r="2.35"/>
<circle cx="405.1" cy="112.9" r="2.35"/>
<circle cx="395.5" cy="134.4" r="2.35"/>
<circle cx="345.1" cy="173.8" r="2.35"/>
<circle cx="354.2" cy="183.8" r="2.35"/>
<circle cx="357.6" cy="145.7" r="2.35"/>
<circle cx="404.7" cy="139.4" r="2.35"/>
<circle cx="334" cy="181.5" r="2.35"/>
<circle cx="352.8" cy="157.6" r="2.35"/>
<circle cx="351" cy="170.8" r="2.35"/>
<circle cx="372.7" cy="145.9" r="2.35"/>
<circle cx="384.9" cy="143.2" r="2.35"/>
<circle cx="378.1" cy="162.2" r="2.35"/>
<circle cx="374.4" cy="145" r="2.35"/>
<circle cx="379" cy="139.6" r="2.35"/>
<circle cx="336.1" cy="169" r="2.35"/>
<circle cx="346.5" cy="148.5" r="2.35"/>
<circle cx="368.6" cy="159.8" r="2.35"/>
<circle cx="369.8" cy="135.6" r="2.35"/>
<circle cx="337.7" cy="175.3" r="2.35"/>
<circle cx="340.8" cy="185.4" r="2.35"/>
<circle cx="370.7" cy="172" r="2.35"/>
<circle cx="342" cy="187.2" r="2.35"/>
<circle cx="378.3" cy="130.1" r="2.35"/>
<circle cx="418.6" cy="114.8" r="2.35"/>
<circle cx="357.2" cy="147.8" r="2.35"/>
<circle cx="367.4" cy="166.5" r="2.35"/>
<circle cx="362.3" cy="139.5" r="2.35"/>
<circle cx="383.6" cy="140" r="2.35"/>
<circle cx="413.5" cy="113.7" r="2.35"/>
<circle cx="366.1" cy="151" r="2.35"/>
<circle cx="351.1" cy="173.8" r="2.35"/>
<circle cx="340.1" cy="160.2" r="2.35"/>
<circle cx="351.6" cy="163.8" r="2.35"/>
<circle cx="345.8" cy="178.1" r="2.35"/>
<circle cx="377.7" cy="132.4" r="2.35"/>
<circle cx="382.7" cy="137.2" r="2.35"/>
<circle cx="347.9" cy="168.7" r="2.35"/>
<circle cx="354.8" cy="174.5" r="2.35"/>
<circle cx="372.2" cy="165.8" r="2.35"/>
<circle cx="343.9" cy="156.9" r="2.35"/>
<circle cx="369.1" cy="171.8" r="2.35"/>
<circle cx="360.7" cy="140" r="2.35"/>
<circle cx="374.4" cy="158.2" r="2.35"/>
<circle cx="335.4" cy="165" r="2.35"/>
<circle cx="364.5" cy="176.1" r="2.35"/>
<circle cx="339.6" cy="180.8" r="2.35"/>
<circle cx="360.3" cy="171.5" r="2.35"/>
<circle cx="351.8" cy="174.3" r="2.35"/>
<circle cx="361.8" cy="147.5" r="2.35"/>
<circle cx="359.4" cy="164.2" r="2.35"/>
<circle cx="381.5" cy="133.8" r="2.35"/>
<circle cx="353.6" cy="156.2" r="2.35"/>
<circle cx="390.3" cy="139" r="2.35"/>
<circle cx="345.4" cy="173.6" r="2.35"/>
<circle cx="361.8" cy="165.9" r="2.35"/>
<circle cx="359" cy="151.5" r="2.35"/>
<circle cx="353.1" cy="167.8" r="2.35"/>
<circle cx="350" cy="185.7" r="2.35"/>
<circle cx="364.9" cy="156.5" r="2.35"/>
<circle cx="355.3" cy="150.1" r="2.35"/>
<circle cx="373.4" cy="145.7" r="2.35"/>
<circle cx="351.2" cy="169.8" r="2.35"/>
<circle cx="422.3" cy="109.9" r="2.35"/>
<circle cx="406.7" cy="133.3" r="2.35"/>
<circle cx="346.4" cy="182" r="2.35"/>
<circle cx="369.3" cy="158" r="2.35"/>
<circle cx="342.4" cy="180.4" r="2.35"/>
<circle cx="387.1" cy="126.8" r="2.35"/>
<circle cx="354.6" cy="174.4" r="2.35"/>
<circle cx="390" cy="152" r="2.35"/>
<circle cx="344.3" cy="160.5" r="2.35"/>
<circle cx="370.7" cy="151.6" r="2.35"/>
<circle cx="343.6" cy="173.9" r="2.35"/>
<circle cx="395" cy="128.7" r="2.35"/>
<circle cx="366.8" cy="144.4" r="2.35"/>
<circle cx="378.4" cy="149.3" r="2.35"/>
<circle cx="356.3" cy="181" r="2.35"/>
<circle cx="367.7" cy="145.7" r="2.35"/>
<circle cx="386.1" cy="141.5" r="2.35"/>
<circle cx="348.9" cy="185.3" r="2.35"/>
<circle cx="354" cy="164.8" r="2.35"/>
<circle cx="358.7" cy="142.7" r="2.35"/>
<circle cx="386" cy="146.1" r="2.35"/>
<circle cx="390.1" cy="141.1" r="2.35"/>
<circle cx="382.2" cy="147.7" r="2.35"/>
<circle cx="355.6" cy="184.5" r="2.35"/>
<circle cx="359.3" cy="151.7" r="2.35"/>
<circle cx="381.5" cy="147.8" r="2.35"/>
<circle cx="366.1" cy="134.5" r="2.35"/>
<circle cx="361" cy="139.1" r="2.35"/>
<circle cx="395.2" cy="139.9" r="2.35"/>
<circle cx="356.2" cy="162.1" r="2.35"/>
<circle cx="383.8" cy="152.4" r="2.35"/>
<circle cx="352" cy="153.9" r="2.35"/>
<circle cx="390.8" cy="131.9" r="2.35"/>
<circle cx="357.7" cy="168.2" r="2.35"/>
<circle cx="391.3" cy="127" r="2.35"/>
<circle cx="380.1" cy="137.2" r="2.35"/>
<circle cx="388.8" cy="143.7" r="2.35"/>
<circle cx="376.2" cy="169" r="2.35"/>
<circle cx="348.1" cy="168.2" r="2.35"/>
<circle cx="363.6" cy="166.9" r="2.35"/>
<circle cx="394.3" cy="141.9" r="2.35"/>
<circle cx="349.2" cy="178.6" r="2.35"/>
<circle cx="370.8" cy="163.5" r="2.35"/>
<circle cx="370.2" cy="158.1" r="2.35"/>
<circle cx="365.7" cy="152.6" r="2.35"/>
<circle cx="357.5" cy="150.9" r="2.35"/>
<circle cx="358.9" cy="150.3" r="2.35"/>
<circle cx="353.4" cy="169.1" r="2.35"/>
<circle cx="356.5" cy="144.3" r="2.35"/>
<circle cx="344.6" cy="167.7" r="2.35"/>
<circle cx="382.2" cy="129.8" r="2.35"/>
<circle cx="389.8" cy="133.9" r="2.35"/>
<circle cx="354.3" cy="167.2" r="2.35"/>
<circle cx="345.7" cy="187.5" r="2.35"/>
<circle cx="362.9" cy="147.7" r="2.35"/>
<circle cx="348.4" cy="161.6" r="2.35"/>
<circle cx="365.1" cy="161.3" r="2.35"/>
<circle cx="356.1" cy="149.1" r="2.35"/>
<circle cx="373.1" cy="152.5" r="2.35"/>
<circle cx="381.8" cy="132" r="2.35"/>
<circle cx="388.9" cy="153.7" r="2.35"/>
<circle cx="380.5" cy="146.9" r="2.35"/>
<circle cx="386.4" cy="155.5" r="2.35"/>
<circle cx="395.2" cy="130.3" r="2.35"/>
<circle cx="363.8" cy="160.7" r="2.35"/>
<circle cx="350.9" cy="155.6" r="2.35"/>
<circle cx="351.6" cy="167.4" r="2.35"/>
<circle cx="367.2" cy="148.3" r="2.35"/>
<circle cx="379.3" cy="150.9" r="2.35"/>
<circle cx="386.5" cy="134.2" r="2.35"/>
<circle cx="351.4" cy="172.3" r="2.35"/>
<circle cx="370.3" cy="131.5" r="2.35"/>
<circle cx="346.7" cy="175.7" r="2.35"/>
<circle cx="372.9" cy="145.4" r="2.35"/>
<circle cx="388.3" cy="145.2" r="2.35"/>
<circle cx="360.8" cy="174.6" r="2.35"/>
<circle cx="378.4" cy="146.4" r="2.35"/>
<circle cx="376.1" cy="138" r="2.35"/>
<circle cx="377.7" cy="169" r="2.35"/>
<circle cx="352.3" cy="156.8" r="2.35"/>
<circle cx="369.6" cy="140.3" r="2.35"/>
<circle cx="345.6" cy="156" r="2.35"/>
<circle cx="364.4" cy="143.2" r="2.35"/>
<circle cx="345.5" cy="176.4" r="2.35"/>
<circle cx="393.6" cy="130.1" r="2.35"/>
<circle cx="360.9" cy="163.8" r="2.35"/>
<circle cx="355.7" cy="166" r="2.35"/>
<circle cx="390.3" cy="136.8" r="2.35"/>
<circle cx="365.5" cy="149.4" r="2.35"/>
<circle cx="369.7" cy="152.3" r="2.35"/>
<circle cx="388.5" cy="135.9" r="2.35"/>
<circle cx="370.2" cy="161.8" r="2.35"/>
<circle cx="363.4" cy="136.8" r="2.35"/>
<circle cx="381.6" cy="147.6" r="2.35"/>
<circle cx="358.6" cy="165.3" r="2.35"/>
<circle cx="350.7" cy="168.9" r="2.35"/>
<circle cx="380.5" cy="138.9" r="2.35"/>
<circle cx="368.9" cy="142.5" r="2.35"/>
<circle cx="395.3" cy="142.9" r="2.35"/>
<circle cx="371.5" cy="156" r="2.35"/>
<circle cx="390" cy="143.6" r="2.35"/>
<circle cx="344.9" cy="148.1" r="2.35"/>
<circle cx="343.9" cy="168.5" r="2.35"/>
<circle cx="361.2" cy="157.1" r="2.35"/>
<circle cx="386.7" cy="145.2" r="2.35"/>
<circle cx="367.7" cy="137.4" r="2.35"/>
<circle cx="374.8" cy="160.5" r="2.35"/>
<circle cx="361.8" cy="159.3" r="2.35"/>
<circle cx="360.9" cy="170.6" r="2.35"/>
<circle cx="360.1" cy="174.2" r="2.35"/>
<circle cx="357.6" cy="164.2" r="2.35"/>
<circle cx="344.6" cy="175.3" r="2.35"/>
<circle cx="378.4" cy="158.3" r="2.35"/>
<circle cx="359" cy="165" r="2.35"/>
<circle cx="391.1" cy="137.3" r="2.35"/>
<circle cx="373.8" cy="160.5" r="2.35"/>
<circle cx="350.9" cy="181.4" r="2.35"/>
<circle cx="358.2" cy="166.9" r="2.35"/>
<circle cx="352.3" cy="157.2" r="2.35"/>
<circle cx="382.5" cy="127.1" r="2.35"/>
<circle cx="356" cy="162.9" r="2.35"/>
<circle cx="372.1" cy="158.3" r="2.35"/>
<circle cx="365.5" cy="159.1" r="2.35"/>
<circle cx="362.1" cy="168.9" r="2.35"/>
<circle cx="388.4" cy="127.2" r="2.35"/>
<circle cx="369.7" cy="173.2" r="2.35"/>
<circle cx="359" cy="164.7" r="2.35"/>
<circle cx="351.7" cy="178.7" r="2.35"/>
<circle cx="358.4" cy="170.8" r="2.35"/>
<circle cx="352.7" cy="182.9" r="2.35"/>
<circle cx="377.7" cy="148.4" r="2.35"/>
<circle cx="381.9" cy="135.1" r="2.35"/>
<circle cx="374.2" cy="162.3" r="2.35"/>
<circle cx="380.2" cy="150.9" r="2.35"/>
<circle cx="382.2" cy="129" r="2.35"/>
<circle cx="372.9" cy="168.6" r="2.35"/>
<circle cx="352.6" cy="151.7" r="2.35"/>
<circle cx="376.5" cy="165.9" r="2.35"/>
<circle cx="343.9" cy="172.6" r="2.35"/>
<circle cx="367.8" cy="175.3" r="2.35"/>
<circle cx="351.2" cy="174.6" r="2.35"/>
<circle cx="379.4" cy="165.2" r="2.35"/>
<circle cx="377.9" cy="135.6" r="2.35"/>
<circle cx="360.2" cy="163.8" r="2.35"/>
<circle cx="373.5" cy="161.9" r="2.35"/>
<circle cx="380.2" cy="131.5" r="2.35"/>
<circle cx="369.6" cy="141.8" r="2.35"/>
<circle cx="356.1" cy="164.8" r="2.35"/>
<circle cx="348.6" cy="184.9" r="2.35"/>
<circle cx="388.6" cy="137.7" r="2.35"/>
<circle cx="347.3" cy="185" r="2.35"/>
<circle cx="353.1" cy="162.9" r="2.35"/>
<circle cx="383.8" cy="150.9" r="2.35"/>
<circle cx="345.3" cy="183.6" r="2.35"/>
<circle cx="350.2" cy="175.3" r="2.35"/>
<circle cx="362.3" cy="169.6" r="2.35"/>
<circle cx="350.6" cy="178" r="2.35"/>
<circle cx="381.1" cy="138" r="2.35"/>
<circle cx="415.4" cy="119" r="2.35"/>
<circle cx="387.3" cy="125.3" r="2.35"/>
<circle cx="421.8" cy="114.4" r="2.35"/>
<circle cx="381.5" cy="150.6" r="2.35"/>
<circle cx="392" cy="133.3" r="2.35"/>
<circle cx="405.8" cy="126.2" r="2.35"/>
<circle cx="383.9" cy="148" r="2.35"/>
<circle cx="401.5" cy="116.7" r="2.35"/>
<circle cx="401.9" cy="133.9" r="2.35"/>
<circle cx="407.2" cy="112.4" r="2.35"/>
<circle cx="422.4" cy="113" r="2.35"/>
<circle cx="398.3" cy="120.8" r="2.35"/>
<circle cx="421.6" cy="102.8" r="2.35"/>
<circle cx="389.4" cy="128.3" r="2.35"/>
<circle cx="409.7" cy="138.4" r="2.35"/>
<circle cx="399.2" cy="147.8" r="2.35"/>
<circle cx="415.4" cy="121.3" r="2.35"/>
<circle cx="403.5" cy="143" r="2.35"/>
<circle cx="419" cy="125.9" r="2.35"/>
<circle cx="386.4" cy="146" r="2.35"/>
<circle cx="391.5" cy="141.4" r="2.35"/>
<circle cx="404.6" cy="125.6" r="2.35"/>
<circle cx="408.8" cy="130.3" r="2.35"/>
<circle cx="396.9" cy="127.7" r="2.35"/>
<circle cx="416.7" cy="128.3" r="2.35"/>
<circle cx="396.9" cy="140.3" r="2.35"/>
<circle cx="422.8" cy="109" r="2.35"/>
<circle cx="422.6" cy="114.7" r="2.35"/>
<circle cx="381.2" cy="148.5" r="2.35"/>
<circle cx="409.1" cy="116.2" r="2.35"/>
<circle cx="419.3" cy="132" r="2.35"/>
<circle cx="381.6" cy="132.3" r="2.35"/>
<circle cx="413.7" cy="123.1" r="2.35"/>
<circle cx="406.4" cy="136.7" r="2.35"/>
<circle cx="403.3" cy="118.7" r="2.35"/>
<circle cx="392" cy="131.2" r="2.35"/>
<circle cx="413.5" cy="127.7" r="2.35"/>
<circle cx="389.5" cy="141.1" r="2.35"/>
<circle cx="387.7" cy="134.1" r="2.35"/>
<circle cx="395.5" cy="143" r="2.35"/>
<circle cx="425.5" cy="97" r="2.35"/>
<circle cx="398.1" cy="149.1" r="2.35"/>
<circle cx="385.9" cy="146.3" r="2.35"/>
<circle cx="397.9" cy="138.4" r="2.35"/>
<circle cx="414.9" cy="111.8" r="2.35"/>
<circle cx="408.3" cy="113.2" r="2.35"/>
<circle cx="412.7" cy="116.5" r="2.35"/>
<circle cx="417.7" cy="111.4" r="2.35"/>
<circle cx="392.8" cy="141.9" r="2.35"/>
<circle cx="395.4" cy="132.6" r="2.35"/>
<circle cx="419.2" cy="102.8" r="2.35"/>
<circle cx="397" cy="139.4" r="2.35"/>
<circle cx="403.1" cy="121.2" r="2.35"/>
<circle cx="418.1" cy="104.3" r="2.35"/>
<circle cx="408.6" cy="127.7" r="2.35"/>
<circle cx="421.8" cy="109.4" r="2.35"/>
<circle cx="379.9" cy="143.3" r="2.35"/>
<circle cx="408.1" cy="132" r="2.35"/>
<circle cx="403" cy="126.9" r="2.35"/>
<circle cx="398.4" cy="138.5" r="2.35"/>
<circle cx="393" cy="147.3" r="2.35"/>
<circle cx="396.8" cy="118.5" r="2.35"/>
<circle cx="417.4" cy="105.4" r="2.35"/>
<circle cx="401.4" cy="126.3" r="2.35"/>
<circle cx="389.5" cy="124.7" r="2.35"/>
<circle cx="411.6" cy="109.3" r="2.35"/>
<circle cx="417.4" cy="132.1" r="2.35"/>
<circle cx="398.2" cy="128.8" r="2.35"/>
<circle cx="385.3" cy="150.6" r="2.35"/>
<circle cx="413.9" cy="136.3" r="2.35"/>
<circle cx="411.4" cy="125.6" r="2.35"/>
<circle cx="411.6" cy="118.9" r="2.35"/>
<circle cx="379.9" cy="160.9" r="2.35"/>
<circle cx="384.8" cy="137.5" r="2.35"/>
<circle cx="424.3" cy="102" r="2.35"/>
<circle cx="405.1" cy="144.8" r="2.35"/>
<circle cx="391.3" cy="134.8" r="2.35"/>
<circle cx="381.5" cy="153.9" r="2.35"/>
<circle cx="401.4" cy="117.2" r="2.35"/>
<circle cx="394.3" cy="145.6" r="2.35"/>
<circle cx="386.5" cy="123.6" r="2.35"/>
<circle cx="409" cy="125" r="2.35"/>
<circle cx="387.6" cy="123.2" r="2.35"/>
<circle cx="423.4" cy="106" r="2.35"/>
<circle cx="390" cy="142.6" r="2.35"/>
<circle cx="420.7" cy="117.3" r="2.35"/>
<circle cx="395.8" cy="145.1" r="2.35"/>
<circle cx="392.8" cy="127.2" r="2.35"/>
<circle cx="414.6" cy="115" r="2.35"/>
<circle cx="402.8" cy="129.5" r="2.35"/>
<circle cx="385.7" cy="146.1" r="2.35"/>
<circle cx="418.4" cy="114" r="2.35"/>
<circle cx="404.9" cy="136.8" r="2.35"/>
<circle cx="405.7" cy="139.7" r="2.35"/>
<circle cx="396.8" cy="149.4" r="2.35"/>
<circle cx="417.7" cy="116.7" r="2.35"/>
<circle cx="407.9" cy="136.8" r="2.35"/>
<circle cx="382.6" cy="130.5" r="2.35"/>
<circle cx="420.5" cy="133.5" r="2.35"/>
<circle cx="405.6" cy="118.2" r="2.35"/>
<circle cx="391.9" cy="130.2" r="2.35"/>
<circle cx="381.1" cy="160.5" r="2.35"/>
<circle cx="381.1" cy="150.4" r="2.35"/>
<circle cx="384.9" cy="156" r="2.35"/>
<circle cx="391.2" cy="150.9" r="2.35"/>
<circle cx="403.8" cy="125.3" r="2.35"/>
<circle cx="389.7" cy="143.7" r="2.35"/>
<circle cx="416" cy="125.1" r="2.35"/>
<circle cx="403.8" cy="136.8" r="2.35"/>
<circle cx="399.2" cy="132.7" r="2.35"/>
<circle cx="399.2" cy="135" r="2.35"/>
<circle cx="390.4" cy="129.6" r="2.35"/>
<circle cx="404.3" cy="136.6" r="2.35"/>
<circle cx="390.1" cy="124.8" r="2.35"/>
<circle cx="394.3" cy="139" r="2.35"/>
<circle cx="403" cy="130.5" r="2.35"/>
<circle cx="408.8" cy="131.9" r="2.35"/>
<circle cx="394.5" cy="143.5" r="2.35"/>
<circle cx="412.9" cy="123.6" r="2.35"/>
<circle cx="395.9" cy="151.1" r="2.35"/>
<circle cx="421.9" cy="115.8" r="2.35"/>
<circle cx="386.1" cy="131.5" r="2.35"/>
<circle cx="406.2" cy="133.1" r="2.35"/>
<circle cx="395.7" cy="141.4" r="2.35"/>
<circle cx="400.4" cy="123" r="2.35"/>
<circle cx="384.6" cy="148.7" r="2.35"/>
<circle cx="395" cy="119.1" r="2.35"/>
<circle cx="388" cy="136.9" r="2.35"/>
<circle cx="410.8" cy="118.5" r="2.35"/>
<circle cx="415.4" cy="134.8" r="2.35"/>
<circle cx="415.9" cy="123.7" r="2.35"/>
<circle cx="421.8" cy="119.5" r="2.35"/>
<circle cx="397.1" cy="134.7" r="2.35"/>
<circle cx="409.1" cy="110.9" r="2.35"/>
<circle cx="423.8" cy="112.3" r="2.35"/>
<circle cx="402.5" cy="132.2" r="2.35"/>
<circle cx="403.5" cy="133.7" r="2.35"/>
<circle cx="409.8" cy="123" r="2.35"/>
<circle cx="380.6" cy="142.5" r="2.35"/>
<circle cx="418.8" cy="138.5" r="2.35"/>
<circle cx="398.6" cy="130.5" r="2.35"/>
<circle cx="414.4" cy="117.8" r="2.35"/>
<circle cx="385.4" cy="142.4" r="2.35"/>
<circle cx="402.2" cy="115.8" r="2.35"/>
<circle cx="405.7" cy="128.7" r="2.35"/>
<circle cx="415.3" cy="139.7" r="2.35"/>
<circle cx="407" cy="120.3" r="2.35"/>
<circle cx="408.2" cy="115.7" r="2.35"/>
<circle cx="422.3" cy="98.1" r="2.35"/>
<circle cx="391.8" cy="142.4" r="2.35"/>
<circle cx="400.1" cy="138.9" r="2.35"/>
<circle cx="420.3" cy="124.9" r="2.35"/>
<circle cx="400.5" cy="125.7" r="2.35"/>
<circle cx="406.8" cy="135.7" r="2.35"/>
<circle cx="402.8" cy="136.8" r="2.35"/>
<circle cx="424.6" cy="111.2" r="2.35"/>
<circle cx="410.9" cy="135.5" r="2.35"/>
<circle cx="415.3" cy="131.6" r="2.35"/>
<circle cx="380.7" cy="155.8" r="2.35"/>
<circle cx="397.6" cy="132.4" r="2.35"/>
<circle cx="414.1" cy="112.1" r="2.35"/>
<circle cx="387" cy="140.9" r="2.35"/>
<circle cx="415.6" cy="109" r="2.35"/>
<circle cx="422.2" cy="130.7" r="2.35"/>
<circle cx="414.7" cy="122.1" r="2.35"/>
<circle cx="412.9" cy="118.1" r="2.35"/>
<circle cx="392" cy="137.4" r="2.35"/>
<circle cx="384.8" cy="155.7" r="2.35"/>
<circle cx="423" cy="97" r="2.35"/>
<circle cx="398.9" cy="146.5" r="2.35"/>
<circle cx="421.3" cy="131.9" r="2.35"/>
<circle cx="410.3" cy="127.1" r="2.35"/>
<circle cx="422.7" cy="96.8" r="2.35"/>
<circle cx="380.4" cy="150.4" r="2.35"/>
<circle cx="416.5" cy="134.5" r="2.35"/>
<circle cx="413.7" cy="127.1" r="2.35"/>
<circle cx="405.5" cy="114.4" r="2.35"/>
<circle cx="386.8" cy="157" r="2.35"/>
<circle cx="388.7" cy="136.5" r="2.35"/>
<circle cx="422.6" cy="106.5" r="2.35"/>
<circle cx="397.4" cy="142.6" r="2.35"/>
<circle cx="414.3" cy="110.8" r="2.35"/>
<circle cx="424.7" cy="101.3" r="2.35"/>
<circle cx="389.8" cy="125.1" r="2.35"/>
<circle cx="382.3" cy="129.9" r="2.35"/>
<circle cx="380.8" cy="149.2" r="2.35"/>
<circle cx="399.3" cy="118.9" r="2.35"/>
<circle cx="417.7" cy="107.3" r="2.35"/>
<circle cx="416.5" cy="101.9" r="2.35"/>
<circle cx="331.1" cy="185.2" r="2.35"/>
<circle cx="331.6" cy="178.3" r="2.35"/>
<circle cx="330.7" cy="183.8" r="2.35"/>
<circle cx="330.6" cy="160.9" r="2.35"/>
<circle cx="331.3" cy="181.2" r="2.35"/>
<circle cx="330.8" cy="172.4" r="2.35"/>
<circle cx="331.8" cy="168.3" r="2.35"/>
<circle cx="330.7" cy="181.8" r="2.35"/>
<circle cx="330.5" cy="171.7" r="2.35"/>
<circle cx="331.6" cy="166.9" r="2.35"/>
<circle cx="330.9" cy="158.1" r="2.35"/>
<circle cx="330.7" cy="176.3" r="2.35"/>
<circle cx="331.2" cy="179.1" r="2.35"/>
<circle cx="331.1" cy="178.9" r="2.35"/>
<circle cx="331.1" cy="172.1" r="2.35"/>
<circle cx="332.4" cy="180" r="2.35"/>
<circle cx="330.7" cy="177" r="2.35"/>
<circle cx="331.5" cy="169.4" r="2.35"/>
<circle cx="331.2" cy="166.2" r="2.35"/>
<circle cx="330.9" cy="166.7" r="2.35"/>
<circle cx="332.7" cy="168.9" r="2.35"/>
<circle cx="330.7" cy="185.8" r="2.35"/>
<circle cx="331.8" cy="168.3" r="2.35"/>
<circle cx="330.7" cy="183.3" r="2.35"/>
<circle cx="332.9" cy="162.6" r="2.35"/>
<circle cx="331.5" cy="161" r="2.35"/>
<circle cx="330.6" cy="181.3" r="2.35"/>
<circle cx="331" cy="159.1" r="2.35"/>
<circle cx="332.5" cy="169.7" r="2.35"/>
<circle cx="331" cy="166.4" r="2.35"/>
<circle cx="333.6" cy="166.6" r="2.35"/>
<circle cx="331.5" cy="168.5" r="2.35"/>
<circle cx="438" cy="111.1" r="2.35"/>
<circle cx="440.1" cy="105.8" r="2.35"/>
<circle cx="440.1" cy="93.4" r="2.35"/>
<circle cx="446.2" cy="93.4" r="2.35"/>
<circle cx="448.2" cy="84.6" r="2.35"/>
<circle cx="454.3" cy="74" r="2.35"/>
<circle cx="460.4" cy="95.2" r="2.35"/>
<circle cx="464.4" cy="95.2" r="2.35"/>
<circle cx="431.9" cy="95.2" r="2.35"/>
<circle cx="429.1" cy="102.2" r="2.35"/>
<circle cx="434" cy="98.7" r="2.35"/>
<circle cx="436" cy="104" r="2.35"/>
<circle cx="429.9" cy="112.8" r="2.35"/>
<circle cx="432.8" cy="116.4" r="2.35"/>
<circle cx="423.8" cy="97" r="2.35"/>
</g>
<line x1="330.5" y1="190.4" x2="533.4" y2="14.1" stroke="#c66a42" stroke-width="1.75" stroke-dasharray="8.4 4" stroke-dashoffset="6.9"/>
<rect x="330.5" y="14.1" width="202.9" height="176.3" fill="none" stroke="#555" stroke-width="1.3"/>
<path d="M330.5 190.4v-1.9M330.5 14.1v1.9M371.1 190.4v-1.9M371.1 14.1v1.9M411.7 190.4v-1.9M411.7 14.1v1.9M452.2 190.4v-1.9M452.2 14.1v1.9M492.8 190.4v-1.9M492.8 14.1v1.9M533.4 190.4v-1.9M533.4 14.1v1.9M330.5 190.4h1.9M533.4 190.4h-1.9M330.5 155.1h1.9M533.4 155.1h-1.9M330.5 119.9h1.9M533.4 119.9h-1.9M330.5 84.6h1.9M533.4 84.6h-1.9M330.5 49.4h1.9M533.4 49.4h-1.9M330.5 14.1h1.9M533.4 14.1h-1.9" stroke="#555" stroke-width="0.9" fill="none"/>
<g font-family="'Liberation Sans', sans-serif" font-size="11.2" fill="#3c3c3c" stroke="#3c3c3c" stroke-width="0.25">
<text transform="translate(330.8 205.5) scale(0.77 1)" text-anchor="middle">0</text>
<text transform="translate(371.4 205.5) scale(0.77 1)" text-anchor="middle">10</text>
<text transform="translate(412 205.5) scale(0.77 1)" text-anchor="middle">20</text>
<text transform="translate(452.5 205.5) scale(0.77 1)" text-anchor="middle">30</text>
<text transform="translate(493.1 205.5) scale(0.77 1)" text-anchor="middle">40</text>
<text transform="translate(533.7 205.5) scale(0.77 1)" text-anchor="middle">50</text>
<text transform="translate(326.5 194.6) scale(0.77 1)" text-anchor="end">0</text>
<text transform="translate(326.5 159.3) scale(0.77 1)" text-anchor="end">10</text>
<text transform="translate(326.5 124.1) scale(0.77 1)" text-anchor="end">20</text>
<text transform="translate(326.5 88.8) scale(0.77 1)" text-anchor="end">30</text>
<text transform="translate(326.5 53.6) scale(0.77 1)" text-anchor="end">40</text>
<text transform="translate(326.5 18.3) scale(0.77 1)" text-anchor="end">50</text>
</g>
<g font-family="'Liberation Serif', serif" font-size="11.9" fill="#1c1c1c" stroke="#1c1c1c" stroke-width="0.22">
<text x="443.9" y="219.2" text-anchor="middle">Ground Truth (g/kg)</text>
<text transform="translate(310.3 99.3) rotate(-90)" text-anchor="middle">Predicted (g/kg)</text>
</g>
<text x="427.6" y="241.5" text-anchor="middle" font-family="'Liberation Serif', serif" font-size="14.5" fill="#111" stroke="#111" stroke-width="0.15">(<tspan font-weight="bold">b</tspan>)</text>
</g>
<g id="plot-c">
<g fill="#186eb8" stroke="#0a2d52" stroke-width="0.75">
<circle cx="205.8" cy="419" r="2.35"/>
<circle cx="307.5" cy="367.5" r="2.35"/>
<circle cx="196.2" cy="434.1" r="2.35"/>
<circle cx="207.3" cy="413.2" r="2.35"/>
<circle cx="260.5" cy="401.1" r="2.35"/>
<circle cx="204" cy="432" r="2.35"/>
<circle cx="253.2" cy="388.6" r="2.35"/>
<circle cx="225.5" cy="417.9" r="2.35"/>
<circle cx="207.9" cy="401.6" r="2.35"/>
<circle cx="220.5" cy="409.1" r="2.35"/>
<circle cx="250.8" cy="422.9" r="2.35"/>
<circle cx="200.6" cy="431.2" r="2.35"/>
<circle cx="197.4" cy="409.1" r="2.35"/>
<circle cx="207.4" cy="415.1" r="2.35"/>
<circle cx="246" cy="393.2" r="2.35"/>
<circle cx="206.6" cy="445.2" r="2.35"/>
<circle cx="207.2" cy="422.3" r="2.35"/>
<circle cx="211.9" cy="409.3" r="2.35"/>
<circle cx="203.5" cy="413.3" r="2.35"/>
<circle cx="213.2" cy="426.3" r="2.35"/>
<circle cx="194.2" cy="421.4" r="2.35"/>
<circle cx="200.4" cy="427.9" r="2.35"/>
<circle cx="287.7" cy="382.7" r="2.35"/>
<circle cx="225.2" cy="407.5" r="2.35"/>
<circle cx="223.1" cy="400.8" r="2.35"/>
<circle cx="224.3" cy="393.9" r="2.35"/>
<circle cx="210.7" cy="413.1" r="2.35"/>
<circle cx="190.7" cy="437.9" r="2.35"/>
<circle cx="236" cy="429.7" r="2.35"/>
<circle cx="190.2" cy="449" r="2.35"/>
<circle cx="197" cy="424.9" r="2.35"/>
<circle cx="189.9" cy="429.7" r="2.35"/>
<circle cx="213.8" cy="418.4" r="2.35"/>
<circle cx="187" cy="441.7" r="2.35"/>
<circle cx="195.1" cy="429.7" r="2.35"/>
<circle cx="205.5" cy="439.7" r="2.35"/>
<circle cx="232" cy="429.9" r="2.35"/>
<circle cx="205.8" cy="408.5" r="2.35"/>
<circle cx="278.4" cy="389.6" r="2.35"/>
<circle cx="222.3" cy="438.7" r="2.35"/>
<circle cx="243.1" cy="401.9" r="2.35"/>
<circle cx="201.7" cy="420.5" r="2.35"/>
<circle cx="208.8" cy="448.9" r="2.35"/>
<circle cx="201.9" cy="423.1" r="2.35"/>
<circle cx="186.1" cy="439" r="2.35"/>
<circle cx="212.9" cy="432.4" r="2.35"/>
<circle cx="196.2" cy="442.5" r="2.35"/>
<circle cx="227.1" cy="403.8" r="2.35"/>
<circle cx="292.3" cy="359.2" r="2.35"/>
<circle cx="241.9" cy="412.5" r="2.35"/>
<circle cx="226.7" cy="418.2" r="2.35"/>
<circle cx="205.2" cy="419.6" r="2.35"/>
<circle cx="227.8" cy="412.2" r="2.35"/>
<circle cx="247.9" cy="393.5" r="2.35"/>
<circle cx="195.4" cy="446.9" r="2.35"/>
<circle cx="188.2" cy="440.7" r="2.35"/>
<circle cx="194" cy="419.1" r="2.35"/>
<circle cx="239.9" cy="405.8" r="2.35"/>
<circle cx="242.6" cy="398.2" r="2.35"/>
<circle cx="192.3" cy="412.4" r="2.35"/>
<circle cx="199.4" cy="432.9" r="2.35"/>
<circle cx="200" cy="448.6" r="2.35"/>
<circle cx="193.1" cy="429.2" r="2.35"/>
<circle cx="205.4" cy="405.1" r="2.35"/>
<circle cx="231.5" cy="416" r="2.35"/>
<circle cx="217.7" cy="400.7" r="2.35"/>
<circle cx="204" cy="428" r="2.35"/>
<circle cx="192.2" cy="449.3" r="2.35"/>
<circle cx="252.1" cy="425.6" r="2.35"/>
<circle cx="206.4" cy="430.8" r="2.35"/>
<circle cx="204.5" cy="409.4" r="2.35"/>
<circle cx="223.7" cy="403.8" r="2.35"/>
<circle cx="220.4" cy="423.9" r="2.35"/>
<circle cx="193" cy="426.3" r="2.35"/>
<circle cx="191.8" cy="428" r="2.35"/>
<circle cx="297.8" cy="376.4" r="2.35"/>
<circle cx="268.1" cy="395.1" r="2.35"/>
<circle cx="260.5" cy="404.1" r="2.35"/>
<circle cx="270.5" cy="375.4" r="2.35"/>
<circle cx="246.6" cy="395.2" r="2.35"/>
<circle cx="246.2" cy="405.6" r="2.35"/>
<circle cx="212.6" cy="428.9" r="2.35"/>
<circle cx="225.1" cy="403.6" r="2.35"/>
<circle cx="247.8" cy="422.6" r="2.35"/>
<circle cx="223.3" cy="441.6" r="2.35"/>
<circle cx="205.7" cy="424.8" r="2.35"/>
<circle cx="234.1" cy="396.4" r="2.35"/>
<circle cx="219.8" cy="420.3" r="2.35"/>
<circle cx="210.5" cy="407.5" r="2.35"/>
<circle cx="187.3" cy="421.6" r="2.35"/>
<circle cx="227.8" cy="397.2" r="2.35"/>
<circle cx="286.5" cy="380.9" r="2.35"/>
<circle cx="243.2" cy="381.8" r="2.35"/>
<circle cx="220.5" cy="417.1" r="2.35"/>
<circle cx="240.3" cy="418.8" r="2.35"/>
<circle cx="194" cy="419" r="2.35"/>
<circle cx="217.1" cy="410.1" r="2.35"/>
<circle cx="238.8" cy="416.2" r="2.35"/>
<circle cx="220.9" cy="441.2" r="2.35"/>
<circle cx="276.2" cy="372.9" r="2.35"/>
<circle cx="233.3" cy="411.4" r="2.35"/>
<circle cx="197.9" cy="435.8" r="2.35"/>
<circle cx="254.5" cy="425.3" r="2.35"/>
<circle cx="207.6" cy="421.4" r="2.35"/>
<circle cx="242.7" cy="393.3" r="2.35"/>
<circle cx="270.4" cy="400.2" r="2.35"/>
<circle cx="197.6" cy="436.4" r="2.35"/>
<circle cx="195.5" cy="421.8" r="2.35"/>
<circle cx="252.7" cy="412.1" r="2.35"/>
<circle cx="230.2" cy="398" r="2.35"/>
<circle cx="195.9" cy="439.8" r="2.35"/>
<circle cx="222.1" cy="429.3" r="2.35"/>
<circle cx="200.7" cy="412.1" r="2.35"/>
<circle cx="268.2" cy="407.3" r="2.35"/>
<circle cx="213.6" cy="409.7" r="2.35"/>
<circle cx="255" cy="390.5" r="2.35"/>
<circle cx="218.4" cy="419.5" r="2.35"/>
<circle cx="188.4" cy="428.9" r="2.35"/>
<circle cx="221" cy="438.7" r="2.35"/>
<circle cx="224.2" cy="441.2" r="2.35"/>
<circle cx="210.5" cy="439.9" r="2.35"/>
<circle cx="262.6" cy="377.8" r="2.35"/>
<circle cx="200.8" cy="442.9" r="2.35"/>
<circle cx="213.5" cy="446.9" r="2.35"/>
<circle cx="203.7" cy="436" r="2.35"/>
<circle cx="204.8" cy="428.3" r="2.35"/>
<circle cx="248.9" cy="416.3" r="2.35"/>
<circle cx="190.7" cy="422.9" r="2.35"/>
<circle cx="188.2" cy="422.6" r="2.35"/>
<circle cx="225.3" cy="429.4" r="2.35"/>
<circle cx="193.3" cy="418.4" r="2.35"/>
<circle cx="208.2" cy="443.9" r="2.35"/>
<circle cx="264.7" cy="407.4" r="2.35"/>
<circle cx="269.3" cy="395.4" r="2.35"/>
<circle cx="198.1" cy="427.7" r="2.35"/>
<circle cx="224" cy="391.1" r="2.35"/>
<circle cx="200.1" cy="433.8" r="2.35"/>
<circle cx="192" cy="445.9" r="2.35"/>
<circle cx="198.7" cy="425.1" r="2.35"/>
<circle cx="210.8" cy="420.5" r="2.35"/>
<circle cx="189.6" cy="425.7" r="2.35"/>
<circle cx="212.3" cy="429.3" r="2.35"/>
<circle cx="212.9" cy="419" r="2.35"/>
<circle cx="189.9" cy="439.9" r="2.35"/>
<circle cx="194.4" cy="421.5" r="2.35"/>
<circle cx="247.9" cy="421" r="2.35"/>
<circle cx="244.1" cy="421.2" r="2.35"/>
<circle cx="209.6" cy="401.9" r="2.35"/>
<circle cx="268.8" cy="408.4" r="2.35"/>
<circle cx="196.9" cy="429.3" r="2.35"/>
<circle cx="192.2" cy="422.6" r="2.35"/>
<circle cx="189.5" cy="436.4" r="2.35"/>
<circle cx="188.5" cy="420" r="2.35"/>
<circle cx="212.4" cy="434.1" r="2.35"/>
<circle cx="221.6" cy="395.8" r="2.35"/>
<circle cx="210.1" cy="420.6" r="2.35"/>
<circle cx="213.1" cy="434.1" r="2.35"/>
<circle cx="223.5" cy="415.7" r="2.35"/>
<circle cx="186.7" cy="434.7" r="2.35"/>
<circle cx="233.7" cy="404" r="2.35"/>
<circle cx="286.3" cy="394" r="2.35"/>
<circle cx="242.2" cy="407.8" r="2.35"/>
<circle cx="243.8" cy="418.2" r="2.35"/>
<circle cx="197.1" cy="434.9" r="2.35"/>
<circle cx="227.2" cy="398.6" r="2.35"/>
<circle cx="234.2" cy="419.4" r="2.35"/>
<circle cx="191" cy="422" r="2.35"/>
<circle cx="218.9" cy="413.6" r="2.35"/>
<circle cx="224.7" cy="428.3" r="2.35"/>
<circle cx="212.5" cy="436.3" r="2.35"/>
<circle cx="194.7" cy="433" r="2.35"/>
<circle cx="197.8" cy="421.6" r="2.35"/>
<circle cx="205.3" cy="435.4" r="2.35"/>
<circle cx="202.9" cy="420.8" r="2.35"/>
<circle cx="257.7" cy="395.7" r="2.35"/>
<circle cx="213.3" cy="444.8" r="2.35"/>
<circle cx="237.3" cy="406.9" r="2.35"/>
<circle cx="219.9" cy="394.5" r="2.35"/>
<circle cx="202.4" cy="419.9" r="2.35"/>
<circle cx="212.9" cy="429" r="2.35"/>
<circle cx="192.7" cy="440.7" r="2.35"/>
<circle cx="199.2" cy="441.7" r="2.35"/>
<circle cx="200.5" cy="448.3" r="2.35"/>
<circle cx="234" cy="422.7" r="2.35"/>
<circle cx="231" cy="406.6" r="2.35"/>
<circle cx="224.8" cy="429" r="2.35"/>
<circle cx="199.8" cy="420.4" r="2.35"/>
<circle cx="203.5" cy="420.3" r="2.35"/>
<circle cx="226" cy="425.6" r="2.35"/>
<circle cx="219.3" cy="420" r="2.35"/>
<circle cx="225.3" cy="437" r="2.35"/>
<circle cx="205.9" cy="423.7" r="2.35"/>
<circle cx="237" cy="403.4" r="2.35"/>
<circle cx="212.8" cy="416.1" r="2.35"/>
<circle cx="193.3" cy="415.6" r="2.35"/>
<circle cx="241.7" cy="428.5" r="2.35"/>
<circle cx="193.2" cy="428.8" r="2.35"/>
<circle cx="199.8" cy="432.3" r="2.35"/>
<circle cx="186.8" cy="428.3" r="2.35"/>
<circle cx="248.7" cy="421" r="2.35"/>
<circle cx="209.4" cy="429.4" r="2.35"/>
<circle cx="238.5" cy="416" r="2.35"/>
<circle cx="229.8" cy="415.3" r="2.35"/>
<circle cx="188.5" cy="446" r="2.35"/>
<circle cx="216.6" cy="425.5" r="2.35"/>
<circle cx="197.8" cy="420.6" r="2.35"/>
<circle cx="210.1" cy="432.1" r="2.35"/>
<circle cx="190.4" cy="424.7" r="2.35"/>
<circle cx="222" cy="401.5" r="2.35"/>
<circle cx="229.4" cy="397.7" r="2.35"/>
<circle cx="220.4" cy="410.2" r="2.35"/>
<circle cx="227.5" cy="400.2" r="2.35"/>
<circle cx="209.7" cy="407.7" r="2.35"/>
<circle cx="227.3" cy="396.7" r="2.35"/>
<circle cx="195.2" cy="429.8" r="2.35"/>
<circle cx="188.8" cy="432.3" r="2.35"/>
<circle cx="234.7" cy="423" r="2.35"/>
<circle cx="204.1" cy="419.2" r="2.35"/>
<circle cx="227" cy="394.2" r="2.35"/>
<circle cx="197.5" cy="438.4" r="2.35"/>
<circle cx="216.1" cy="404.1" r="2.35"/>
<circle cx="247.6" cy="416.5" r="2.35"/>
<circle cx="202.6" cy="416.9" r="2.35"/>
<circle cx="288" cy="379.6" r="2.35"/>
<circle cx="206.3" cy="410" r="2.35"/>
<circle cx="221.3" cy="416.1" r="2.35"/>
<circle cx="224" cy="411.8" r="2.35"/>
<circle cx="197.5" cy="437.1" r="2.35"/>
<circle cx="189.7" cy="437.9" r="2.35"/>
<circle cx="193.2" cy="421.3" r="2.35"/>
<circle cx="203.3" cy="435.9" r="2.35"/>
<circle cx="236.8" cy="386.1" r="2.35"/>
<circle cx="218.4" cy="413.4" r="2.35"/>
<circle cx="201.2" cy="412.2" r="2.35"/>
<circle cx="259.7" cy="411.4" r="2.35"/>
<circle cx="205.7" cy="443.9" r="2.35"/>
<circle cx="204.3" cy="440.2" r="2.35"/>
<circle cx="278.7" cy="376.7" r="2.35"/>
<circle cx="192.6" cy="442.5" r="2.35"/>
<circle cx="204.3" cy="414.2" r="2.35"/>
<circle cx="234.3" cy="404.7" r="2.35"/>
<circle cx="207.8" cy="438.2" r="2.35"/>
<circle cx="219.5" cy="422.7" r="2.35"/>
<circle cx="239.8" cy="423.2" r="2.35"/>
<circle cx="228.1" cy="428.2" r="2.35"/>
<circle cx="186.9" cy="436.7" r="2.35"/>
<circle cx="265.5" cy="396.3" r="2.35"/>
<circle cx="244.8" cy="412" r="2.35"/>
<circle cx="201.9" cy="414.6" r="2.35"/>
<circle cx="245.2" cy="426" r="2.35"/>
<circle cx="262.5" cy="412.4" r="2.35"/>
<circle cx="236.7" cy="421.8" r="2.35"/>
<circle cx="209.2" cy="421.8" r="2.35"/>
<circle cx="229.8" cy="411.1" r="2.35"/>
<circle cx="253.4" cy="399.5" r="2.35"/>
<circle cx="237.2" cy="380.1" r="2.35"/>
<circle cx="212.2" cy="429.7" r="2.35"/>
<circle cx="227.9" cy="419.2" r="2.35"/>
<circle cx="235.3" cy="429.6" r="2.35"/>
<circle cx="206.5" cy="437" r="2.35"/>
<circle cx="224.6" cy="393" r="2.35"/>
<circle cx="285.4" cy="372.3" r="2.35"/>
<circle cx="241.6" cy="419.6" r="2.35"/>
<circle cx="291.8" cy="352.8" r="2.35"/>
<circle cx="245.6" cy="390" r="2.35"/>
<circle cx="193.1" cy="436.8" r="2.35"/>
<circle cx="238.2" cy="385.2" r="2.35"/>
<circle cx="268" cy="390.2" r="2.35"/>
<circle cx="195.1" cy="421.2" r="2.35"/>
<circle cx="194.5" cy="416.7" r="2.35"/>
<circle cx="186.1" cy="429.3" r="2.35"/>
<circle cx="200.9" cy="449.4" r="2.35"/>
<circle cx="217.5" cy="412.3" r="2.35"/>
<circle cx="202.8" cy="439.5" r="2.35"/>
<circle cx="219.7" cy="421.1" r="2.35"/>
<circle cx="256.9" cy="407.5" r="2.35"/>
<circle cx="237.1" cy="395.9" r="2.35"/>
<circle cx="229.1" cy="410.8" r="2.35"/>
<circle cx="201.2" cy="427.6" r="2.35"/>
<circle cx="191.6" cy="440.6" r="2.35"/>
<circle cx="227.5" cy="408.4" r="2.35"/>
<circle cx="205.7" cy="409.2" r="2.35"/>
<circle cx="233.2" cy="403.5" r="2.35"/>
<circle cx="200.4" cy="421" r="2.35"/>
<circle cx="232.4" cy="420" r="2.35"/>
<circle cx="215.2" cy="397.1" r="2.35"/>
<circle cx="207.2" cy="429.6" r="2.35"/>
<circle cx="188.3" cy="437.4" r="2.35"/>
<circle cx="197.2" cy="412.2" r="2.35"/>
<circle cx="198.2" cy="441" r="2.35"/>
<circle cx="196.5" cy="424.2" r="2.35"/>
<circle cx="229" cy="396.8" r="2.35"/>
<circle cx="215.9" cy="437.8" r="2.35"/>
<circle cx="243.2" cy="422.7" r="2.35"/>
<circle cx="204.3" cy="425.6" r="2.35"/>
<circle cx="194.2" cy="435.1" r="2.35"/>
<circle cx="196" cy="426.5" r="2.35"/>
<circle cx="219" cy="412.9" r="2.35"/>
<circle cx="192.1" cy="418.6" r="2.35"/>
<circle cx="190.3" cy="437.3" r="2.35"/>
<circle cx="270.9" cy="381.4" r="2.35"/>
<circle cx="206.5" cy="427.4" r="2.35"/>
<circle cx="219.4" cy="404.5" r="2.35"/>
<circle cx="192.6" cy="424.8" r="2.35"/>
<circle cx="291.6" cy="371.2" r="2.35"/>
<circle cx="251" cy="388" r="2.35"/>
<circle cx="255.5" cy="395.4" r="2.35"/>
<circle cx="207.5" cy="432" r="2.35"/>
<circle cx="195.5" cy="422.2" r="2.35"/>
<circle cx="196.5" cy="432.9" r="2.35"/>
<circle cx="204.5" cy="408.9" r="2.35"/>
<circle cx="205.2" cy="424.9" r="2.35"/>
<circle cx="188.1" cy="438.5" r="2.35"/>
<circle cx="195.3" cy="418.8" r="2.35"/>
<circle cx="243.5" cy="397.3" r="2.35"/>
<circle cx="225.1" cy="411.4" r="2.35"/>
<circle cx="193" cy="448" r="2.35"/>
<circle cx="217.3" cy="421.3" r="2.35"/>
<circle cx="196.7" cy="424.2" r="2.35"/>
<circle cx="206.2" cy="407.2" r="2.35"/>
<circle cx="202.3" cy="419.3" r="2.35"/>
<circle cx="257.2" cy="384.2" r="2.35"/>
<circle cx="282.7" cy="367.7" r="2.35"/>
<circle cx="213.6" cy="432" r="2.35"/>
<circle cx="212.7" cy="415.9" r="2.35"/>
<circle cx="208.5" cy="428.8" r="2.35"/>
<circle cx="206.3" cy="448.8" r="2.35"/>
<circle cx="187" cy="426.2" r="2.35"/>
<circle cx="212.1" cy="406" r="2.35"/>
<circle cx="254" cy="429.8" r="2.35"/>
<circle cx="224.4" cy="419.8" r="2.35"/>
<circle cx="255.3" cy="420.9" r="2.35"/>
<circle cx="200.3" cy="414.7" r="2.35"/>
<circle cx="217.8" cy="441.5" r="2.35"/>
<circle cx="207.1" cy="439.4" r="2.35"/>
<circle cx="207.8" cy="415.5" r="2.35"/>
<circle cx="207" cy="424.2" r="2.35"/>
<circle cx="276.5" cy="383.7" r="2.35"/>
<circle cx="265.3" cy="368.6" r="2.35"/>
<circle cx="215.3" cy="433.1" r="2.35"/>
<circle cx="236.4" cy="416.3" r="2.35"/>
<circle cx="221.4" cy="398.2" r="2.35"/>
<circle cx="210.5" cy="426" r="2.35"/>
<circle cx="274.8" cy="384.2" r="2.35"/>
<circle cx="211.6" cy="420.5" r="2.35"/>
<circle cx="210.6" cy="442.5" r="2.35"/>
<circle cx="208.1" cy="428" r="2.35"/>
<circle cx="213.4" cy="424.1" r="2.35"/>
<circle cx="209.5" cy="429.6" r="2.35"/>
<circle cx="243.5" cy="416.2" r="2.35"/>
<circle cx="241.1" cy="404.9" r="2.35"/>
<circle cx="191.5" cy="444.2" r="2.35"/>
<circle cx="188.6" cy="419.9" r="2.35"/>
<circle cx="223.2" cy="424" r="2.35"/>
<circle cx="194.8" cy="417.2" r="2.35"/>
<circle cx="209.2" cy="440.1" r="2.35"/>
<circle cx="196.7" cy="445.1" r="2.35"/>
<circle cx="268" cy="411.7" r="2.35"/>
<circle cx="211.7" cy="417.8" r="2.35"/>
<circle cx="213.9" cy="422" r="2.35"/>
<circle cx="219.1" cy="400.7" r="2.35"/>
<circle cx="185.9" cy="437.1" r="2.35"/>
<circle cx="206" cy="408.8" r="2.35"/>
<circle cx="247.2" cy="413.7" r="2.35"/>
<circle cx="224.4" cy="397.6" r="2.35"/>
<circle cx="268.2" cy="413.8" r="2.35"/>
<circle cx="253.7" cy="428.2" r="2.35"/>
<circle cx="203.4" cy="415.8" r="2.35"/>
<circle cx="222.8" cy="429" r="2.35"/>
<circle cx="287.7" cy="357.4" r="2.35"/>
<circle cx="213.8" cy="435.2" r="2.35"/>
<circle cx="220.7" cy="406.7" r="2.35"/>
<circle cx="225.5" cy="433.5" r="2.35"/>
<circle cx="193.7" cy="436.6" r="2.35"/>
<circle cx="205.6" cy="414.3" r="2.35"/>
<circle cx="215.2" cy="424.9" r="2.35"/>
<circle cx="200.6" cy="410.9" r="2.35"/>
<circle cx="208.5" cy="421.2" r="2.35"/>
<circle cx="238.8" cy="417.6" r="2.35"/>
<circle cx="211.8" cy="414.7" r="2.35"/>
<circle cx="199.3" cy="409.9" r="2.35"/>
<circle cx="226.3" cy="408.7" r="2.35"/>
<circle cx="213.6" cy="421.3" r="2.35"/>
<circle cx="273.8" cy="379.9" r="2.35"/>
<circle cx="223.4" cy="418.8" r="2.35"/>
<circle cx="201.3" cy="426" r="2.35"/>
<circle cx="195.6" cy="447.6" r="2.35"/>
<circle cx="226.3" cy="398.2" r="2.35"/>
<circle cx="192.2" cy="419.9" r="2.35"/>
<circle cx="211" cy="416.1" r="2.35"/>
<circle cx="196.1" cy="441.4" r="2.35"/>
<circle cx="242.2" cy="391.2" r="2.35"/>
<circle cx="214.5" cy="432.2" r="2.35"/>
<circle cx="214.7" cy="416.5" r="2.35"/>
<circle cx="204.2" cy="437.3" r="2.35"/>
<circle cx="223.1" cy="428.5" r="2.35"/>
<circle cx="216.1" cy="426.9" r="2.35"/>
<circle cx="227.5" cy="437.5" r="2.35"/>
<circle cx="203.3" cy="442.6" r="2.35"/>
<circle cx="194.3" cy="434.2" r="2.35"/>
<circle cx="198.9" cy="440.1" r="2.35"/>
<circle cx="230.3" cy="413.9" r="2.35"/>
<circle cx="201.4" cy="420.9" r="2.35"/>
<circle cx="200.6" cy="422.6" r="2.35"/>
<circle cx="231" cy="432.4" r="2.35"/>
<circle cx="185.4" cy="430.7" r="2.35"/>
<circle cx="194.4" cy="430" r="2.35"/>
<circle cx="202.6" cy="425.2" r="2.35"/>
<circle cx="187.5" cy="438.3" r="2.35"/>
<circle cx="240.9" cy="409.8" r="2.35"/>
<circle cx="197.1" cy="423.2" r="2.35"/>
<circle cx="219.6" cy="423" r="2.35"/>
<circle cx="232" cy="432.1" r="2.35"/>
<circle cx="209.4" cy="435.4" r="2.35"/>
<circle cx="192.9" cy="435.4" r="2.35"/>
<circle cx="208.1" cy="408.9" r="2.35"/>
<circle cx="200.6" cy="406.8" r="2.35"/>
<circle cx="201.2" cy="427" r="2.35"/>
<circle cx="199.6" cy="446.3" r="2.35"/>
<circle cx="241.7" cy="403.1" r="2.35"/>
<circle cx="257.2" cy="392.8" r="2.35"/>
<circle cx="234.2" cy="423.2" r="2.35"/>
<circle cx="202.3" cy="431" r="2.35"/>
<circle cx="261.8" cy="413.6" r="2.35"/>
<circle cx="198.7" cy="437.5" r="2.35"/>
<circle cx="217.1" cy="411.7" r="2.35"/>
<circle cx="212.8" cy="400.8" r="2.35"/>
<circle cx="257.2" cy="407.3" r="2.35"/>
<circle cx="219.9" cy="399.9" r="2.35"/>
<circle cx="203.5" cy="429.5" r="2.35"/>
<circle cx="229.9" cy="416.4" r="2.35"/>
<circle cx="225.6" cy="408.8" r="2.35"/>
<circle cx="247.6" cy="396" r="2.35"/>
<circle cx="225.6" cy="402.8" r="2.35"/>
<circle cx="212.7" cy="426.6" r="2.35"/>
<circle cx="200.2" cy="417" r="2.35"/>
<circle cx="242.5" cy="414.3" r="2.35"/>
<circle cx="204.3" cy="407.1" r="2.35"/>
<circle cx="198.2" cy="433.5" r="2.35"/>
<circle cx="232.6" cy="430.3" r="2.35"/>
<circle cx="199.7" cy="414.4" r="2.35"/>
<circle cx="236.8" cy="420.9" r="2.35"/>
<circle cx="192.7" cy="430" r="2.35"/>
<circle cx="210.6" cy="430.1" r="2.35"/>
<circle cx="233" cy="390.9" r="2.35"/>
<circle cx="228.8" cy="404.1" r="2.35"/>
<circle cx="240.8" cy="395.8" r="2.35"/>
<circle cx="203.4" cy="419.3" r="2.35"/>
<circle cx="236.5" cy="382.4" r="2.35"/>
<circle cx="243.9" cy="426.2" r="2.35"/>
<circle cx="204.3" cy="421.3" r="2.35"/>
<circle cx="253.5" cy="399.8" r="2.35"/>
<circle cx="218.1" cy="434.2" r="2.35"/>
<circle cx="224.3" cy="410.1" r="2.35"/>
<circle cx="195.6" cy="409.9" r="2.35"/>
<circle cx="196" cy="443.2" r="2.35"/>
<circle cx="208" cy="416.7" r="2.35"/>
<circle cx="197.8" cy="412.5" r="2.35"/>
<circle cx="232.5" cy="396.5" r="2.35"/>
<circle cx="205.2" cy="419" r="2.35"/>
<circle cx="232.9" cy="404.8" r="2.35"/>
<circle cx="218.4" cy="427.9" r="2.35"/>
<circle cx="208.8" cy="401.2" r="2.35"/>
<circle cx="223.8" cy="419.7" r="2.35"/>
<circle cx="187.2" cy="428.3" r="2.35"/>
<circle cx="238.4" cy="437.4" r="2.35"/>
<circle cx="201.8" cy="418.8" r="2.35"/>
<circle cx="236.4" cy="429.9" r="2.35"/>
<circle cx="189.2" cy="424.4" r="2.35"/>
<circle cx="218.6" cy="425.3" r="2.35"/>
<circle cx="244.9" cy="428.1" r="2.35"/>
<circle cx="227.9" cy="397.2" r="2.35"/>
<circle cx="186.4" cy="433.6" r="2.35"/>
<circle cx="209.2" cy="416.6" r="2.35"/>
<circle cx="254.6" cy="427" r="2.35"/>
<circle cx="258.7" cy="397.4" r="2.35"/>
<circle cx="211.5" cy="413" r="2.35"/>
<circle cx="205.9" cy="433.1" r="2.35"/>
<circle cx="245.6" cy="399.1" r="2.35"/>
<circle cx="235.9" cy="402.2" r="2.35"/>
<circle cx="191.3" cy="427.1" r="2.35"/>
<circle cx="213" cy="446" r="2.35"/>
<circle cx="290.1" cy="372.7" r="2.35"/>
<circle cx="211.7" cy="412.5" r="2.35"/>
<circle cx="211.2" cy="427.3" r="2.35"/>
<circle cx="218.7" cy="425.4" r="2.35"/>
<circle cx="265.9" cy="380.6" r="2.35"/>
<circle cx="231.8" cy="408.3" r="2.35"/>
<circle cx="193.8" cy="441.9" r="2.35"/>
<circle cx="213" cy="438.4" r="2.35"/>
<circle cx="236.1" cy="431.7" r="2.35"/>
<circle cx="196" cy="439.5" r="2.35"/>
<circle cx="253.7" cy="420.1" r="2.35"/>
<circle cx="214.5" cy="412.8" r="2.35"/>
<circle cx="190.4" cy="430.9" r="2.35"/>
<circle cx="201.4" cy="428.7" r="2.35"/>
<circle cx="187.6" cy="427.7" r="2.35"/>
<circle cx="232.6" cy="393" r="2.35"/>
<circle cx="203" cy="424.1" r="2.35"/>
<circle cx="213.4" cy="429.7" r="2.35"/>
<circle cx="243" cy="400.3" r="2.35"/>
<circle cx="247.9" cy="393.3" r="2.35"/>
<circle cx="292.3" cy="376.9" r="2.35"/>
<circle cx="191.4" cy="428.8" r="2.35"/>
<circle cx="199.7" cy="423.1" r="2.35"/>
<circle cx="220.4" cy="422.4" r="2.35"/>
<circle cx="253.9" cy="391.4" r="2.35"/>
<circle cx="194.4" cy="433.9" r="2.35"/>
<circle cx="253.8" cy="408.8" r="2.35"/>
<circle cx="233.2" cy="396.7" r="2.35"/>
<circle cx="192.3" cy="422.5" r="2.35"/>
<circle cx="229.7" cy="409.6" r="2.35"/>
<circle cx="215.7" cy="419.9" r="2.35"/>
<circle cx="276.4" cy="369.8" r="2.35"/>
<circle cx="201.1" cy="417.1" r="2.35"/>
<circle cx="210.6" cy="416.3" r="2.35"/>
<circle cx="191.6" cy="421.5" r="2.35"/>
<circle cx="191.8" cy="443.7" r="2.35"/>
<circle cx="206.8" cy="438.1" r="2.35"/>
<circle cx="264.2" cy="417.5" r="2.35"/>
<circle cx="246.4" cy="413.8" r="2.35"/>
<circle cx="206" cy="429.9" r="2.35"/>
<circle cx="211.1" cy="430.4" r="2.35"/>
<circle cx="219.2" cy="407.7" r="2.35"/>
<circle cx="200.2" cy="444.2" r="2.35"/>
<circle cx="201.5" cy="431.8" r="2.35"/>
<circle cx="209.4" cy="407.6" r="2.35"/>
<circle cx="192.9" cy="435.8" r="2.35"/>
<circle cx="192.6" cy="430" r="2.35"/>
<circle cx="209.9" cy="400.9" r="2.35"/>
<circle cx="196.9" cy="428.4" r="2.35"/>
<circle cx="219.6" cy="440.8" r="2.35"/>
<circle cx="203.6" cy="422.5" r="2.35"/>
<circle cx="193.5" cy="446.3" r="2.35"/>
<circle cx="200.5" cy="434.6" r="2.35"/>
<circle cx="208" cy="417.5" r="2.35"/>
<circle cx="214.9" cy="447" r="2.35"/>
<circle cx="207" cy="415.6" r="2.35"/>
<circle cx="225.6" cy="418.9" r="2.35"/>
<circle cx="222.8" cy="422.8" r="2.35"/>
<circle cx="188.7" cy="424.9" r="2.35"/>
<circle cx="203.6" cy="441.6" r="2.35"/>
<circle cx="214.2" cy="435.9" r="2.35"/>
<circle cx="214.7" cy="420.9" r="2.35"/>
<circle cx="217.3" cy="435.2" r="2.35"/>
<circle cx="228.3" cy="418.7" r="2.35"/>
<circle cx="204.2" cy="446.6" r="2.35"/>
<circle cx="192" cy="444.8" r="2.35"/>
<circle cx="219.7" cy="441" r="2.35"/>
<circle cx="212.3" cy="432.6" r="2.35"/>
<circle cx="291.4" cy="388.4" r="2.35"/>
<circle cx="194.3" cy="442.3" r="2.35"/>
<circle cx="227.4" cy="414.2" r="2.35"/>
<circle cx="195.9" cy="438.1" r="2.35"/>
<circle cx="194.3" cy="439.7" r="2.35"/>
<circle cx="199.9" cy="431.4" r="2.35"/>
<circle cx="219.8" cy="406.7" r="2.35"/>
<circle cx="216.2" cy="446.2" r="2.35"/>
<circle cx="223.2" cy="437.2" r="2.35"/>
<circle cx="194.4" cy="435.5" r="2.35"/>
<circle cx="222.6" cy="416.8" r="2.35"/>
<circle cx="197.8" cy="428" r="2.35"/>
<circle cx="201.5" cy="423.6" r="2.35"/>
<circle cx="210.1" cy="426.2" r="2.35"/>
<circle cx="259.9" cy="374.2" r="2.35"/>
<circle cx="246.9" cy="386.1" r="2.35"/>
<circle cx="190.3" cy="439.5" r="2.35"/>
<circle cx="201.7" cy="431.5" r="2.35"/>
<circle cx="213.6" cy="402.7" r="2.35"/>
<circle cx="192" cy="421.6" r="2.35"/>
<circle cx="192.2" cy="434.2" r="2.35"/>
<circle cx="204.5" cy="447.1" r="2.35"/>
<circle cx="261.3" cy="413.1" r="2.35"/>
<circle cx="263.6" cy="371.8" r="2.35"/>
<circle cx="209.4" cy="441.7" r="2.35"/>
<circle cx="228.5" cy="401.1" r="2.35"/>
<circle cx="201.9" cy="442.7" r="2.35"/>
<circle cx="201.9" cy="421.8" r="2.35"/>
<circle cx="282" cy="362.9" r="2.35"/>
<circle cx="260.6" cy="418.1" r="2.35"/>
<circle cx="195.4" cy="415" r="2.35"/>
<circle cx="244.5" cy="419" r="2.35"/>
<circle cx="198.3" cy="437.5" r="2.35"/>
<circle cx="198.4" cy="434" r="2.35"/>
<circle cx="198.5" cy="430.1" r="2.35"/>
<circle cx="221.5" cy="414.5" r="2.35"/>
<circle cx="249.6" cy="398.1" r="2.35"/>
<circle cx="197.7" cy="446.8" r="2.35"/>
<circle cx="265.5" cy="391.7" r="2.35"/>
<circle cx="237" cy="402.8" r="2.35"/>
<circle cx="201.8" cy="443.8" r="2.35"/>
<circle cx="220.1" cy="437.8" r="2.35"/>
<circle cx="187.5" cy="442.3" r="2.35"/>
<circle cx="216.4" cy="439.9" r="2.35"/>
<circle cx="203.3" cy="438.9" r="2.35"/>
<circle cx="191.2" cy="422" r="2.35"/>
<circle cx="235.2" cy="428.9" r="2.35"/>
<circle cx="204.2" cy="404.1" r="2.35"/>
<circle cx="200.7" cy="427.7" r="2.35"/>
<circle cx="211.1" cy="441.2" r="2.35"/>
<circle cx="193.3" cy="440.6" r="2.35"/>
<circle cx="195.8" cy="425.4" r="2.35"/>
<circle cx="217.6" cy="420.3" r="2.35"/>
<circle cx="264.5" cy="371.2" r="2.35"/>
<circle cx="244.3" cy="386.3" r="2.35"/>
<circle cx="212.2" cy="442.3" r="2.35"/>
<circle cx="224" cy="427.3" r="2.35"/>
<circle cx="209.5" cy="434.5" r="2.35"/>
<circle cx="214.3" cy="436.7" r="2.35"/>
<circle cx="194.2" cy="427.3" r="2.35"/>
<circle cx="209.7" cy="414.9" r="2.35"/>
<circle cx="252.2" cy="409.4" r="2.35"/>
<circle cx="249.1" cy="410.1" r="2.35"/>
<circle cx="209.8" cy="430.9" r="2.35"/>
<circle cx="236.5" cy="407.1" r="2.35"/>
<circle cx="206.6" cy="404.5" r="2.35"/>
<circle cx="227.5" cy="414.2" r="2.35"/>
<circle cx="191" cy="429.3" r="2.35"/>
<circle cx="248.2" cy="391.7" r="2.35"/>
<circle cx="217.3" cy="411.5" r="2.35"/>
<circle cx="185.6" cy="445.7" r="2.35"/>
<circle cx="198.6" cy="424.5" r="2.35"/>
<circle cx="274.3" cy="389.3" r="2.35"/>
<circle cx="224.8" cy="414.9" r="2.35"/>
<circle cx="213.3" cy="411.8" r="2.35"/>
<circle cx="258.9" cy="409.9" r="2.35"/>
<circle cx="221.8" cy="401.7" r="2.35"/>
<circle cx="210.2" cy="427.5" r="2.35"/>
<circle cx="206.5" cy="409.6" r="2.35"/>
<circle cx="224.5" cy="418.3" r="2.35"/>
<circle cx="193.6" cy="432.4" r="2.35"/>
<circle cx="227" cy="405.3" r="2.35"/>
<circle cx="262.4" cy="402.3" r="2.35"/>
<circle cx="193.1" cy="433.8" r="2.35"/>
<circle cx="238.5" cy="407.6" r="2.35"/>
<circle cx="207.5" cy="415.7" r="2.35"/>
<circle cx="216.5" cy="423.6" r="2.35"/>
<circle cx="249.8" cy="428.3" r="2.35"/>
<circle cx="209.6" cy="426.9" r="2.35"/>
<circle cx="259.3" cy="397.2" r="2.35"/>
<circle cx="194.3" cy="412.9" r="2.35"/>
<circle cx="226" cy="443.9" r="2.35"/>
<circle cx="188.6" cy="434.8" r="2.35"/>
<circle cx="191.9" cy="444.5" r="2.35"/>
<circle cx="211.4" cy="418.8" r="2.35"/>
<circle cx="216.9" cy="432.5" r="2.35"/>
<circle cx="209.6" cy="423.1" r="2.35"/>
<circle cx="246.7" cy="384.4" r="2.35"/>
<circle cx="224.7" cy="432" r="2.35"/>
<circle cx="197.2" cy="447.4" r="2.35"/>
<circle cx="214.3" cy="401.4" r="2.35"/>
<circle cx="203.3" cy="446.8" r="2.35"/>
<circle cx="244.2" cy="424" r="2.35"/>
<circle cx="228.8" cy="418.1" r="2.35"/>
<circle cx="192.2" cy="429.5" r="2.35"/>
<circle cx="229.7" cy="416.1" r="2.35"/>
<circle cx="247" cy="398.3" r="2.35"/>
<circle cx="205.8" cy="442.3" r="2.35"/>
<circle cx="230.1" cy="400.4" r="2.35"/>
<circle cx="195.4" cy="432.2" r="2.35"/>
<circle cx="251.2" cy="395" r="2.35"/>
<circle cx="199.4" cy="418.9" r="2.35"/>
<circle cx="211" cy="431.3" r="2.35"/>
<circle cx="254.9" cy="374.8" r="2.35"/>
<circle cx="197.8" cy="416.8" r="2.35"/>
<circle cx="220.5" cy="428.3" r="2.35"/>
<circle cx="238.7" cy="404.9" r="2.35"/>
<circle cx="215.2" cy="411.7" r="2.35"/>
<circle cx="194.5" cy="432.4" r="2.35"/>
<circle cx="226.8" cy="415.4" r="2.35"/>
<circle cx="277.8" cy="398.1" r="2.35"/>
<circle cx="259" cy="390" r="2.35"/>
<circle cx="208.5" cy="408.1" r="2.35"/>
<circle cx="248.6" cy="390.6" r="2.35"/>
<circle cx="209.8" cy="424.9" r="2.35"/>
<circle cx="209.1" cy="406.8" r="2.35"/>
<circle cx="218" cy="405.8" r="2.35"/>
<circle cx="228.7" cy="424.7" r="2.35"/>
<circle cx="189.2" cy="430.1" r="2.35"/>
<circle cx="196.1" cy="413.4" r="2.35"/>
<circle cx="207" cy="438.4" r="2.35"/>
<circle cx="193.4" cy="440.5" r="2.35"/>
<circle cx="208.9" cy="440.6" r="2.35"/>
<circle cx="213.9" cy="407.1" r="2.35"/>
<circle cx="219.7" cy="405.5" r="2.35"/>
<circle cx="238.8" cy="389.1" r="2.35"/>
<circle cx="209" cy="431.9" r="2.35"/>
<circle cx="193.8" cy="431.3" r="2.35"/>
<circle cx="191.8" cy="414" r="2.35"/>
<circle cx="200.4" cy="433.3" r="2.35"/>
<circle cx="193.4" cy="413.3" r="2.35"/>
<circle cx="215.5" cy="422.1" r="2.35"/>
<circle cx="197.5" cy="430" r="2.35"/>
<circle cx="204.2" cy="417.3" r="2.35"/>
<circle cx="209.7" cy="408.4" r="2.35"/>
<circle cx="255.7" cy="383.7" r="2.35"/>
<circle cx="220.5" cy="426.7" r="2.35"/>
<circle cx="227.1" cy="386.9" r="2.35"/>
<circle cx="214.8" cy="437.3" r="2.35"/>
<circle cx="211" cy="440.3" r="2.35"/>
<circle cx="229.6" cy="430.6" r="2.35"/>
<circle cx="262.6" cy="379.1" r="2.35"/>
<circle cx="238.1" cy="411.2" r="2.35"/>
<circle cx="214.7" cy="446" r="2.35"/>
<circle cx="230.6" cy="420.7" r="2.35"/>
<circle cx="278.2" cy="390.3" r="2.35"/>
<circle cx="261.6" cy="379.3" r="2.35"/>
<circle cx="191.5" cy="430.6" r="2.35"/>
<circle cx="300.7" cy="362.7" r="2.35"/>
<circle cx="208.7" cy="435.2" r="2.35"/>
<circle cx="211.5" cy="443.2" r="2.35"/>
<circle cx="189.3" cy="430.5" r="2.35"/>
<circle cx="238.3" cy="394.8" r="2.35"/>
<circle cx="187.7" cy="445.9" r="2.35"/>
<circle cx="221.9" cy="420.6" r="2.35"/>
<circle cx="243" cy="394.3" r="2.35"/>
<circle cx="249.9" cy="411.1" r="2.35"/>
<circle cx="199.1" cy="423.5" r="2.35"/>
<circle cx="205.4" cy="425.7" r="2.35"/>
<circle cx="209.8" cy="423.6" r="2.35"/>
<circle cx="208" cy="407.9" r="2.35"/>
<circle cx="196" cy="434.5" r="2.35"/>
<circle cx="223.6" cy="404.2" r="2.35"/>
<circle cx="212.3" cy="426.2" r="2.35"/>
<circle cx="269.3" cy="416.1" r="2.35"/>
<circle cx="218.3" cy="410" r="2.35"/>
<circle cx="205.2" cy="433.8" r="2.35"/>
<circle cx="193.5" cy="439.1" r="2.35"/>
<circle cx="187.3" cy="436.6" r="2.35"/>
<circle cx="202" cy="413.1" r="2.35"/>
<circle cx="202.6" cy="422.3" r="2.35"/>
<circle cx="194.7" cy="427.7" r="2.35"/>
<circle cx="201.9" cy="409.6" r="2.35"/>
<circle cx="223.6" cy="431" r="2.35"/>
<circle cx="200.4" cy="418.8" r="2.35"/>
<circle cx="205.4" cy="419.2" r="2.35"/>
<circle cx="191.2" cy="426.4" r="2.35"/>
<circle cx="279.6" cy="368.1" r="2.35"/>
<circle cx="216.8" cy="436.6" r="2.35"/>
<circle cx="197.7" cy="439.8" r="2.35"/>
<circle cx="231.9" cy="402.6" r="2.35"/>
<circle cx="215.6" cy="403.6" r="2.35"/>
<circle cx="205.3" cy="445.9" r="2.35"/>
<circle cx="222.7" cy="392.2" r="2.35"/>
<circle cx="243.5" cy="385.1" r="2.35"/>
<circle cx="219.4" cy="419.4" r="2.35"/>
<circle cx="253.3" cy="429.7" r="2.35"/>
<circle cx="211.5" cy="412.5" r="2.35"/>
<circle cx="205.4" cy="414" r="2.35"/>
<circle cx="271.6" cy="380.3" r="2.35"/>
<circle cx="208.8" cy="437" r="2.35"/>
<circle cx="234.1" cy="381.8" r="2.35"/>
<circle cx="209.6" cy="431" r="2.35"/>
<circle cx="196" cy="421.6" r="2.35"/>
<circle cx="200.1" cy="430.3" r="2.35"/>
<circle cx="199.3" cy="427.3" r="2.35"/>
<circle cx="264.7" cy="405.9" r="2.35"/>
<circle cx="192.7" cy="441.1" r="2.35"/>
<circle cx="206.5" cy="410.8" r="2.35"/>
<circle cx="209.2" cy="429.6" r="2.35"/>
<circle cx="194.3" cy="431" r="2.35"/>
<circle cx="216.6" cy="435.6" r="2.35"/>
<circle cx="211.6" cy="419.5" r="2.35"/>
<circle cx="195.8" cy="430.2" r="2.35"/>
<circle cx="193" cy="434.8" r="2.35"/>
<circle cx="221.2" cy="396.7" r="2.35"/>
<circle cx="247.2" cy="386.2" r="2.35"/>
<circle cx="190.3" cy="445.4" r="2.35"/>
<circle cx="196.1" cy="447.5" r="2.35"/>
<circle cx="189.7" cy="437.8" r="2.35"/>
<circle cx="185.3" cy="435.9" r="2.35"/>
<circle cx="255.5" cy="412.1" r="2.35"/>
<circle cx="204.8" cy="426.9" r="2.35"/>
<circle cx="203.3" cy="431.6" r="2.35"/>
<circle cx="211" cy="417.7" r="2.35"/>
<circle cx="198.2" cy="443.9" r="2.35"/>
<circle cx="229.4" cy="407.9" r="2.35"/>
<circle cx="197.2" cy="421.7" r="2.35"/>
<circle cx="204.7" cy="407.8" r="2.35"/>
<circle cx="202.3" cy="443" r="2.35"/>
<circle cx="198" cy="414.4" r="2.35"/>
<circle cx="214.4" cy="437.6" r="2.35"/>
<circle cx="219.7" cy="402.4" r="2.35"/>
<circle cx="189.2" cy="422.7" r="2.35"/>
<circle cx="272.8" cy="405.3" r="2.35"/>
<circle cx="250.6" cy="416.6" r="2.35"/>
<circle cx="189.8" cy="432.8" r="2.35"/>
<circle cx="258.2" cy="372.5" r="2.35"/>
<circle cx="197.3" cy="421.1" r="2.35"/>
<circle cx="206.7" cy="410.4" r="2.35"/>
<circle cx="222.3" cy="394.9" r="2.35"/>
<circle cx="205.6" cy="439.5" r="2.35"/>
<circle cx="236.2" cy="419" r="2.35"/>
<circle cx="211.2" cy="402" r="2.35"/>
<circle cx="193.9" cy="426.6" r="2.35"/>
<circle cx="189.6" cy="427.5" r="2.35"/>
<circle cx="193" cy="427.4" r="2.35"/>
<circle cx="229.5" cy="405.7" r="2.35"/>
<circle cx="244.6" cy="428.5" r="2.35"/>
<circle cx="233" cy="402.7" r="2.35"/>
<circle cx="240.9" cy="401.8" r="2.35"/>
<circle cx="228.8" cy="426.1" r="2.35"/>
<circle cx="246.2" cy="393.8" r="2.35"/>
<circle cx="189.2" cy="432.3" r="2.35"/>
<circle cx="202.5" cy="439" r="2.35"/>
<circle cx="259.6" cy="424.7" r="2.35"/>
<circle cx="193.9" cy="425.4" r="2.35"/>
<circle cx="206.4" cy="424.9" r="2.35"/>
<circle cx="185.3" cy="430" r="2.35"/>
<circle cx="252.2" cy="409.5" r="2.35"/>
<circle cx="251.1" cy="422.1" r="2.35"/>
<circle cx="248.9" cy="406.5" r="2.35"/>
<circle cx="203.4" cy="422.8" r="2.35"/>
<circle cx="208.4" cy="405.3" r="2.35"/>
<circle cx="212" cy="423.6" r="2.35"/>
<circle cx="207.1" cy="406.3" r="2.35"/>
<circle cx="194" cy="438.5" r="2.35"/>
<circle cx="203.3" cy="436.5" r="2.35"/>
<circle cx="224.4" cy="438" r="2.35"/>
<circle cx="301.6" cy="349.4" r="2.35"/>
<circle cx="197.9" cy="435.6" r="2.35"/>
<circle cx="193.2" cy="427.8" r="2.35"/>
<circle cx="250.7" cy="415.9" r="2.35"/>
<circle cx="224.8" cy="413.3" r="2.35"/>
<circle cx="190.4" cy="429.3" r="2.35"/>
<circle cx="224" cy="408.2" r="2.35"/>
<circle cx="194.7" cy="436.4" r="2.35"/>
<circle cx="193.9" cy="431.4" r="2.35"/>
<circle cx="202.2" cy="407.2" r="2.35"/>
<circle cx="226.9" cy="418.8" r="2.35"/>
<circle cx="209.1" cy="424" r="2.35"/>
<circle cx="197.8" cy="422.8" r="2.35"/>
<circle cx="186.5" cy="447.8" r="2.35"/>
<circle cx="187.1" cy="418.3" r="2.35"/>
<circle cx="191.4" cy="444.1" r="2.35"/>
<circle cx="198.1" cy="446.9" r="2.35"/>
<circle cx="244.3" cy="383.7" r="2.35"/>
<circle cx="195.4" cy="449.4" r="2.35"/>
<circle cx="195.5" cy="414.3" r="2.35"/>
<circle cx="204.6" cy="428.7" r="2.35"/>
<circle cx="250.3" cy="419.9" r="2.35"/>
<circle cx="209.4" cy="428.9" r="2.35"/>
<circle cx="198.1" cy="431.5" r="2.35"/>
<circle cx="190.4" cy="444.4" r="2.35"/>
<circle cx="188.1" cy="449.6" r="2.35"/>
<circle cx="188.6" cy="421.6" r="2.35"/>
<circle cx="240.9" cy="410" r="2.35"/>
<circle cx="228.9" cy="402.6" r="2.35"/>
<circle cx="246.5" cy="407.1" r="2.35"/>
<circle cx="204.3" cy="432" r="2.35"/>
<circle cx="250.2" cy="430.4" r="2.35"/>
<circle cx="231.4" cy="428.1" r="2.35"/>
<circle cx="200.5" cy="423.6" r="2.35"/>
<circle cx="237.2" cy="432.6" r="2.35"/>
<circle cx="270" cy="378.5" r="2.35"/>
<circle cx="205.8" cy="422.1" r="2.35"/>
<circle cx="248.2" cy="392.9" r="2.35"/>
<circle cx="219.4" cy="414.7" r="2.35"/>
<circle cx="240.9" cy="394.5" r="2.35"/>
<circle cx="210.8" cy="416.4" r="2.35"/>
<circle cx="219" cy="402.1" r="2.35"/>
<circle cx="216.8" cy="413" r="2.35"/>
<circle cx="226.6" cy="408.4" r="2.35"/>
<circle cx="198.8" cy="444.4" r="2.35"/>
<circle cx="215.1" cy="436.9" r="2.35"/>
<circle cx="189.4" cy="431.6" r="2.35"/>
<circle cx="227.1" cy="393.6" r="2.35"/>
<circle cx="201.9" cy="444.3" r="2.35"/>
<circle cx="267.2" cy="369" r="2.35"/>
<circle cx="264.3" cy="408.2" r="2.35"/>
<circle cx="195.1" cy="424.6" r="2.35"/>
<circle cx="210.7" cy="407.3" r="2.35"/>
<circle cx="195.7" cy="435.2" r="2.35"/>
<circle cx="194.5" cy="448.8" r="2.35"/>
<circle cx="228.6" cy="415.9" r="2.35"/>
<circle cx="226.9" cy="400.1" r="2.35"/>
<circle cx="241.6" cy="409" r="2.35"/>
<circle cx="197.1" cy="413.1" r="2.35"/>
<circle cx="208.6" cy="435.5" r="2.35"/>
<circle cx="232" cy="392.2" r="2.35"/>
<circle cx="225.8" cy="420.6" r="2.35"/>
<circle cx="190.3" cy="446.3" r="2.35"/>
<circle cx="193.5" cy="444.1" r="2.35"/>
<circle cx="224.4" cy="402.4" r="2.35"/>
<circle cx="258.7" cy="382.7" r="2.35"/>
<circle cx="197.1" cy="421.4" r="2.35"/>
<circle cx="199.8" cy="429.1" r="2.35"/>
<circle cx="192.8" cy="430.1" r="2.35"/>
<circle cx="220.2" cy="421.7" r="2.35"/>
<circle cx="190" cy="417.3" r="2.35"/>
<circle cx="199.8" cy="444.9" r="2.35"/>
<circle cx="197" cy="440.1" r="2.35"/>
<circle cx="226.4" cy="430.8" r="2.35"/>
<circle cx="190.8" cy="424.7" r="2.35"/>
<circle cx="219.6" cy="401.8" r="2.35"/>
<circle cx="201.2" cy="425.6" r="2.35"/>
<circle cx="195.3" cy="411.1" r="2.35"/>
<circle cx="200.4" cy="446.7" r="2.35"/>
<circle cx="205.4" cy="440.4" r="2.35"/>
<circle cx="268.2" cy="400.8" r="2.35"/>
<circle cx="198.5" cy="429.1" r="2.35"/>
<circle cx="242" cy="413.2" r="2.35"/>
<circle cx="203.6" cy="430.5" r="2.35"/>
<circle cx="194.6" cy="417" r="2.35"/>
<circle cx="209.4" cy="426.2" r="2.35"/>
<circle cx="194.9" cy="436.6" r="2.35"/>
<circle cx="200.6" cy="419.8" r="2.35"/>
<circle cx="224.7" cy="391.8" r="2.35"/>
<circle cx="193.9" cy="414.7" r="2.35"/>
<circle cx="207.2" cy="420.8" r="2.35"/>
<circle cx="187.3" cy="438.2" r="2.35"/>
<circle cx="190.8" cy="438.7" r="2.35"/>
<circle cx="218.1" cy="418.3" r="2.35"/>
<circle cx="218.2" cy="418.8" r="2.35"/>
<circle cx="208.5" cy="426.1" r="2.35"/>
<circle cx="199.1" cy="443.5" r="2.35"/>
<circle cx="194.6" cy="427" r="2.35"/>
<circle cx="254.8" cy="385.4" r="2.35"/>
<circle cx="191.4" cy="432.3" r="2.35"/>
<circle cx="185.8" cy="442.4" r="2.35"/>
<circle cx="201.7" cy="439.4" r="2.35"/>
<circle cx="229.6" cy="419.4" r="2.35"/>
<circle cx="207.1" cy="423.9" r="2.35"/>
<circle cx="188.5" cy="448.3" r="2.35"/>
<circle cx="253.7" cy="383.4" r="2.35"/>
<circle cx="198.8" cy="413.8" r="2.35"/>
<circle cx="194.2" cy="422.8" r="2.35"/>
<circle cx="204.7" cy="414.4" r="2.35"/>
<circle cx="211.8" cy="445.1" r="2.35"/>
<circle cx="233" cy="385.3" r="2.35"/>
<circle cx="198.6" cy="439.3" r="2.35"/>
<circle cx="207.7" cy="423.8" r="2.35"/>
<circle cx="213.1" cy="420.3" r="2.35"/>
<circle cx="283.2" cy="373.2" r="2.35"/>
<circle cx="204.1" cy="439.7" r="2.35"/>
<circle cx="226.2" cy="413.3" r="2.35"/>
<circle cx="195.2" cy="448.4" r="2.35"/>
<circle cx="227.6" cy="418.6" r="2.35"/>
<circle cx="254.7" cy="396.5" r="2.35"/>
<circle cx="234.9" cy="386.5" r="2.35"/>
<circle cx="204.9" cy="408.4" r="2.35"/>
<circle cx="217" cy="424.6" r="2.35"/>
<circle cx="204.5" cy="407.6" r="2.35"/>
<circle cx="197.3" cy="432.2" r="2.35"/>
<circle cx="231.2" cy="439.3" r="2.35"/>
<circle cx="261.7" cy="383.9" r="2.35"/>
<circle cx="208.1" cy="414.9" r="2.35"/>
<circle cx="202.7" cy="444.3" r="2.35"/>
<circle cx="232" cy="396.5" r="2.35"/>
<circle cx="193.6" cy="445.9" r="2.35"/>
<circle cx="225.2" cy="390.1" r="2.35"/>
<circle cx="206.4" cy="432.1" r="2.35"/>
<circle cx="215.5" cy="408.1" r="2.35"/>
<circle cx="287.4" cy="389.9" r="2.35"/>
<circle cx="198" cy="419.3" r="2.35"/>
<circle cx="197.5" cy="424.2" r="2.35"/>
<circle cx="228.2" cy="419.9" r="2.35"/>
<circle cx="197.5" cy="415.7" r="2.35"/>
<circle cx="220.8" cy="437.8" r="2.35"/>
<circle cx="212.4" cy="424.2" r="2.35"/>
<circle cx="236.2" cy="437.7" r="2.35"/>
<circle cx="199.1" cy="409.4" r="2.35"/>
<circle cx="200.7" cy="427.2" r="2.35"/>
<circle cx="233.2" cy="438.6" r="2.35"/>
<circle cx="240.5" cy="422" r="2.35"/>
<circle cx="195.8" cy="420.8" r="2.35"/>
<circle cx="187.6" cy="435.2" r="2.35"/>
<circle cx="212.8" cy="415.2" r="2.35"/>
<circle cx="211.4" cy="418.2" r="2.35"/>
<circle cx="193.1" cy="428.2" r="2.35"/>
<circle cx="201.5" cy="420.1" r="2.35"/>
<circle cx="256.7" cy="429.3" r="2.35"/>
<circle cx="252.4" cy="384.6" r="2.35"/>
<circle cx="283" cy="365.1" r="2.35"/>
<circle cx="195.9" cy="446.8" r="2.35"/>
<circle cx="208.6" cy="412.8" r="2.35"/>
<circle cx="191.1" cy="427" r="2.35"/>
<circle cx="232.4" cy="417.2" r="2.35"/>
<circle cx="203.4" cy="425.9" r="2.35"/>
<circle cx="199.6" cy="429.1" r="2.35"/>
<circle cx="228.8" cy="429.2" r="2.35"/>
<circle cx="232.7" cy="419.8" r="2.35"/>
<circle cx="244.7" cy="404.4" r="2.35"/>
<circle cx="187.7" cy="435.4" r="2.35"/>
<circle cx="234.2" cy="419.8" r="2.35"/>
<circle cx="262.4" cy="383" r="2.35"/>
<circle cx="231.6" cy="391.1" r="2.35"/>
<circle cx="211.8" cy="427.9" r="2.35"/>
<circle cx="194.4" cy="439.3" r="2.35"/>
<circle cx="217.4" cy="395" r="2.35"/>
<circle cx="199.4" cy="417.6" r="2.35"/>
<circle cx="196" cy="446.4" r="2.35"/>
<circle cx="192.2" cy="431.3" r="2.35"/>
<circle cx="188.4" cy="438.2" r="2.35"/>
<circle cx="230.7" cy="408.8" r="2.35"/>
<circle cx="203" cy="435.6" r="2.35"/>
<circle cx="190.2" cy="421.9" r="2.35"/>
<circle cx="208.9" cy="442.3" r="2.35"/>
<circle cx="203.2" cy="415.8" r="2.35"/>
<circle cx="212.7" cy="407.3" r="2.35"/>
<circle cx="186.1" cy="441.7" r="2.35"/>
<circle cx="201.2" cy="445" r="2.35"/>
<circle cx="224.4" cy="421.2" r="2.35"/>
<circle cx="205.2" cy="435.5" r="2.35"/>
<circle cx="233.8" cy="430.7" r="2.35"/>
<circle cx="190.1" cy="427" r="2.35"/>
<circle cx="209.7" cy="405.6" r="2.35"/>
<circle cx="213" cy="444.5" r="2.35"/>
<circle cx="244" cy="393.5" r="2.35"/>
<circle cx="302.2" cy="366" r="2.35"/>
<circle cx="194.1" cy="418.6" r="2.35"/>
<circle cx="246" cy="422.1" r="2.35"/>
<circle cx="262.9" cy="372.6" r="2.35"/>
<circle cx="213.6" cy="420.8" r="2.35"/>
<circle cx="212" cy="434.6" r="2.35"/>
<circle cx="212.3" cy="432.4" r="2.35"/>
<circle cx="202.1" cy="412.4" r="2.35"/>
<circle cx="199" cy="430.6" r="2.35"/>
<circle cx="211.7" cy="434.1" r="2.35"/>
<circle cx="187.2" cy="435.5" r="2.35"/>
<circle cx="276.4" cy="408.1" r="2.35"/>
<circle cx="209.1" cy="445.2" r="2.35"/>
<circle cx="192.8" cy="440.6" r="2.35"/>
<circle cx="213.1" cy="410.4" r="2.35"/>
<circle cx="199.7" cy="422.1" r="2.35"/>
<circle cx="265.3" cy="392.7" r="2.35"/>
<circle cx="210.8" cy="402.9" r="2.35"/>
<circle cx="239.2" cy="401.6" r="2.35"/>
<circle cx="265.1" cy="417.4" r="2.35"/>
<circle cx="200.4" cy="410.9" r="2.35"/>
<circle cx="269.3" cy="368.7" r="2.35"/>
<circle cx="195.6" cy="439.8" r="2.35"/>
<circle cx="205.4" cy="437.1" r="2.35"/>
<circle cx="213.6" cy="414.1" r="2.35"/>
<circle cx="239.1" cy="402.7" r="2.35"/>
<circle cx="201.5" cy="437.3" r="2.35"/>
<circle cx="223.1" cy="419.1" r="2.35"/>
<circle cx="224.7" cy="433.4" r="2.35"/>
<circle cx="221" cy="398.4" r="2.35"/>
<circle cx="248.9" cy="424.6" r="2.35"/>
<circle cx="196.2" cy="422.6" r="2.35"/>
<circle cx="203.1" cy="447.2" r="2.35"/>
<circle cx="218.7" cy="415.8" r="2.35"/>
<circle cx="227.6" cy="432.8" r="2.35"/>
<circle cx="210.5" cy="440.2" r="2.35"/>
<circle cx="205.5" cy="412.9" r="2.35"/>
<circle cx="187.8" cy="436.6" r="2.35"/>
<circle cx="201" cy="434.6" r="2.35"/>
<circle cx="197.6" cy="425.6" r="2.35"/>
<circle cx="240" cy="425" r="2.35"/>
<circle cx="226.2" cy="408.6" r="2.35"/>
<circle cx="230.1" cy="397.2" r="2.35"/>
<circle cx="274.8" cy="386" r="2.35"/>
<circle cx="225.6" cy="424.8" r="2.35"/>
<circle cx="202.4" cy="449.4" r="2.35"/>
<circle cx="189.9" cy="447.9" r="2.35"/>
<circle cx="244.4" cy="418.7" r="2.35"/>
<circle cx="224.5" cy="417.9" r="2.35"/>
<circle cx="208.1" cy="419" r="2.35"/>
<circle cx="253.9" cy="429.3" r="2.35"/>
<circle cx="221.9" cy="428.2" r="2.35"/>
<circle cx="215.4" cy="409.9" r="2.35"/>
<circle cx="224.7" cy="414.9" r="2.35"/>
<circle cx="187.9" cy="420.5" r="2.35"/>
<circle cx="253.9" cy="414.8" r="2.35"/>
<circle cx="203.4" cy="419.9" r="2.35"/>
<circle cx="208.9" cy="412.7" r="2.35"/>
<circle cx="220.2" cy="391.5" r="2.35"/>
<circle cx="223" cy="414.6" r="2.35"/>
<circle cx="211" cy="405.8" r="2.35"/>
<circle cx="286.3" cy="386.7" r="2.35"/>
<circle cx="202.9" cy="438.6" r="2.35"/>
<circle cx="196.9" cy="422.3" r="2.35"/>
<circle cx="230.5" cy="439.8" r="2.35"/>
<circle cx="245" cy="388.5" r="2.35"/>
<circle cx="288.7" cy="382.7" r="2.35"/>
<circle cx="276.2" cy="383.8" r="2.35"/>
<circle cx="196.3" cy="418.8" r="2.35"/>
<circle cx="235" cy="414.9" r="2.35"/>
<circle cx="264" cy="418.4" r="2.35"/>
<circle cx="239.4" cy="386" r="2.35"/>
<circle cx="202.7" cy="418.9" r="2.35"/>
<circle cx="238.6" cy="432" r="2.35"/>
<circle cx="225.3" cy="429.9" r="2.35"/>
<circle cx="241.4" cy="419.9" r="2.35"/>
<circle cx="208.6" cy="417.4" r="2.35"/>
<circle cx="255.7" cy="392.1" r="2.35"/>
<circle cx="258.7" cy="388" r="2.35"/>
<circle cx="223.5" cy="408.8" r="2.35"/>
<circle cx="221.5" cy="437.7" r="2.35"/>
<circle cx="216.6" cy="413.4" r="2.35"/>
<circle cx="196.9" cy="423.2" r="2.35"/>
<circle cx="211.4" cy="425" r="2.35"/>
<circle cx="221.9" cy="405.8" r="2.35"/>
<circle cx="242.2" cy="411.3" r="2.35"/>
<circle cx="239.5" cy="385.3" r="2.35"/>
<circle cx="228.2" cy="389.2" r="2.35"/>
<circle cx="201.5" cy="421.5" r="2.35"/>
<circle cx="234.2" cy="415.1" r="2.35"/>
<circle cx="225.5" cy="399" r="2.35"/>
<circle cx="190.3" cy="425.2" r="2.35"/>
<circle cx="192.9" cy="421.3" r="2.35"/>
<circle cx="185.9" cy="444.6" r="2.35"/>
<circle cx="293" cy="364.7" r="2.35"/>
<circle cx="198.5" cy="440.5" r="2.35"/>
<circle cx="243.7" cy="413.3" r="2.35"/>
<circle cx="200.8" cy="425.5" r="2.35"/>
<circle cx="237.5" cy="414.2" r="2.35"/>
<circle cx="207.2" cy="408.7" r="2.35"/>
<circle cx="200.6" cy="422.5" r="2.35"/>
<circle cx="201.4" cy="443.1" r="2.35"/>
<circle cx="216.2" cy="410" r="2.35"/>
<circle cx="224.3" cy="421.6" r="2.35"/>
<circle cx="191.5" cy="427.1" r="2.35"/>
<circle cx="217.7" cy="396" r="2.35"/>
<circle cx="196.7" cy="423.3" r="2.35"/>
<circle cx="202.2" cy="415.4" r="2.35"/>
<circle cx="198.2" cy="408.7" r="2.35"/>
<circle cx="218.9" cy="415.6" r="2.35"/>
<circle cx="224.3" cy="399.7" r="2.35"/>
<circle cx="211.2" cy="399" r="2.35"/>
<circle cx="264.2" cy="383.2" r="2.35"/>
<circle cx="198.1" cy="439" r="2.35"/>
<circle cx="186.6" cy="422.6" r="2.35"/>
<circle cx="210.4" cy="416.5" r="2.35"/>
<circle cx="190.6" cy="436" r="2.35"/>
<circle cx="195.7" cy="422.3" r="2.35"/>
<circle cx="231.7" cy="401.9" r="2.35"/>
<circle cx="198.9" cy="413.5" r="2.35"/>
<circle cx="202" cy="434.5" r="2.35"/>
<circle cx="214.8" cy="421.6" r="2.35"/>
<circle cx="195.3" cy="429" r="2.35"/>
<circle cx="226.3" cy="399.3" r="2.35"/>
<circle cx="221" cy="431.6" r="2.35"/>
<circle cx="211.7" cy="407.1" r="2.35"/>
<circle cx="197.9" cy="427.7" r="2.35"/>
<circle cx="197.7" cy="410.1" r="2.35"/>
<circle cx="208.5" cy="409" r="2.35"/>
<circle cx="248.2" cy="402.5" r="2.35"/>
<circle cx="268.4" cy="371.4" r="2.35"/>
<circle cx="192.9" cy="449.6" r="2.35"/>
<circle cx="191.1" cy="442" r="2.35"/>
<circle cx="221.7" cy="407.2" r="2.35"/>
<circle cx="186.2" cy="432.5" r="2.35"/>
<circle cx="191.3" cy="435.5" r="2.35"/>
<circle cx="192.3" cy="426.1" r="2.35"/>
<circle cx="225.9" cy="424.1" r="2.35"/>
<circle cx="219.1" cy="436.9" r="2.35"/>
<circle cx="233.1" cy="390.9" r="2.35"/>
<circle cx="228" cy="428.7" r="2.35"/>
<circle cx="216.7" cy="411" r="2.35"/>
<circle cx="207.8" cy="426.1" r="2.35"/>
<circle cx="252.4" cy="383.2" r="2.35"/>
<circle cx="197.9" cy="423.3" r="2.35"/>
<circle cx="251.2" cy="394.4" r="2.35"/>
<circle cx="232.1" cy="384.5" r="2.35"/>
<circle cx="190.3" cy="426.8" r="2.35"/>
<circle cx="193.2" cy="426.3" r="2.35"/>
<circle cx="236.2" cy="424.5" r="2.35"/>
<circle cx="194.5" cy="420.5" r="2.35"/>
<circle cx="241.2" cy="381.7" r="2.35"/>
<circle cx="302.5" cy="369" r="2.35"/>
<circle cx="194.2" cy="445.5" r="2.35"/>
<circle cx="191.1" cy="441.5" r="2.35"/>
<circle cx="216.5" cy="443.9" r="2.35"/>
<circle cx="196.9" cy="409.6" r="2.35"/>
<circle cx="195.5" cy="410.3" r="2.35"/>
<circle cx="230.5" cy="424.3" r="2.35"/>
<circle cx="248.3" cy="413.9" r="2.35"/>
<circle cx="221.5" cy="430.7" r="2.35"/>
<circle cx="192" cy="441.7" r="2.35"/>
<circle cx="187.9" cy="430.8" r="2.35"/>
<circle cx="202.4" cy="446.4" r="2.35"/>
<circle cx="202.9" cy="418.5" r="2.35"/>
<circle cx="209.8" cy="427.9" r="2.35"/>
<circle cx="225.8" cy="428" r="2.35"/>
<circle cx="189.7" cy="422.5" r="2.35"/>
<circle cx="248.4" cy="394.2" r="2.35"/>
<circle cx="202.5" cy="424.7" r="2.35"/>
<circle cx="238" cy="416.5" r="2.35"/>
<circle cx="251.6" cy="405.1" r="2.35"/>
<circle cx="204.9" cy="431.8" r="2.35"/>
<circle cx="219.5" cy="430.1" r="2.35"/>
<circle cx="241.2" cy="423" r="2.35"/>
<circle cx="204.3" cy="423.9" r="2.35"/>
<circle cx="187.6" cy="430.1" r="2.35"/>
<circle cx="222.2" cy="408.7" r="2.35"/>
<circle cx="190.6" cy="445.5" r="2.35"/>
<circle cx="223.5" cy="427.6" r="2.35"/>
<circle cx="201.6" cy="449.4" r="2.35"/>
<circle cx="288.1" cy="377.4" r="2.35"/>
<circle cx="203.5" cy="428.3" r="2.35"/>
<circle cx="189.8" cy="432.2" r="2.35"/>
<circle cx="270.2" cy="385.3" r="2.35"/>
<circle cx="207.8" cy="405.3" r="2.35"/>
<circle cx="227.6" cy="398.8" r="2.35"/>
<circle cx="205" cy="447.4" r="2.35"/>
<circle cx="212.4" cy="405.8" r="2.35"/>
<circle cx="214" cy="442" r="2.35"/>
<circle cx="201.5" cy="420.8" r="2.35"/>
<circle cx="203.4" cy="425.1" r="2.35"/>
<circle cx="209.5" cy="444.2" r="2.35"/>
<circle cx="197.3" cy="430.6" r="2.35"/>
<circle cx="252.1" cy="406.1" r="2.35"/>
<circle cx="204.7" cy="431.3" r="2.35"/>
<circle cx="204.4" cy="410.7" r="2.35"/>
<circle cx="212.7" cy="416.1" r="2.35"/>
<circle cx="228.3" cy="419.9" r="2.35"/>
<circle cx="266.1" cy="376.2" r="2.35"/>
<circle cx="220.2" cy="421.9" r="2.35"/>
<circle cx="189" cy="428.6" r="2.35"/>
<circle cx="202.1" cy="410.5" r="2.35"/>
<circle cx="214.4" cy="432.1" r="2.35"/>
<circle cx="211.6" cy="424.5" r="2.35"/>
<circle cx="216.6" cy="416.8" r="2.35"/>
<circle cx="188.9" cy="436.5" r="2.35"/>
<circle cx="210.1" cy="419.9" r="2.35"/>
<circle cx="195.2" cy="442.9" r="2.35"/>
<circle cx="238.4" cy="398.2" r="2.35"/>
<circle cx="198.5" cy="448.8" r="2.35"/>
<circle cx="206.3" cy="423.3" r="2.35"/>
<circle cx="219.2" cy="401.2" r="2.35"/>
<circle cx="221.2" cy="406.4" r="2.35"/>
<circle cx="244.6" cy="426.1" r="2.35"/>
<circle cx="219.2" cy="432.6" r="2.35"/>
<circle cx="230.8" cy="390.9" r="2.35"/>
<circle cx="208.3" cy="426.1" r="2.35"/>
<circle cx="208.5" cy="422.6" r="2.35"/>
<circle cx="215.3" cy="401.7" r="2.35"/>
<circle cx="202.2" cy="429.6" r="2.35"/>
<circle cx="243.7" cy="400" r="2.35"/>
<circle cx="208.3" cy="422.8" r="2.35"/>
<circle cx="220.9" cy="444.2" r="2.35"/>
<circle cx="196" cy="418.4" r="2.35"/>
<circle cx="280.6" cy="396.5" r="2.35"/>
<circle cx="191" cy="417.2" r="2.35"/>
<circle cx="191" cy="417.5" r="2.35"/>
<circle cx="202.1" cy="438.2" r="2.35"/>
<circle cx="235.7" cy="425.9" r="2.35"/>
<circle cx="220.1" cy="421.5" r="2.35"/>
<circle cx="187.9" cy="437.7" r="2.35"/>
<circle cx="260.9" cy="408.2" r="2.35"/>
<circle cx="220.7" cy="440.4" r="2.35"/>
<circle cx="253.1" cy="374.9" r="2.35"/>
<circle cx="282.3" cy="393" r="2.35"/>
<circle cx="245.7" cy="395.2" r="2.35"/>
<circle cx="198.4" cy="437" r="2.35"/>
<circle cx="255.6" cy="397.2" r="2.35"/>
<circle cx="277.2" cy="369.4" r="2.35"/>
<circle cx="187.8" cy="439.2" r="2.35"/>
<circle cx="216.1" cy="402.3" r="2.35"/>
<circle cx="204.3" cy="443.9" r="2.35"/>
<circle cx="251.3" cy="380.4" r="2.35"/>
<circle cx="201.9" cy="427.2" r="2.35"/>
<circle cx="234.4" cy="402" r="2.35"/>
<circle cx="206.4" cy="407.5" r="2.35"/>
<circle cx="257.9" cy="382.1" r="2.35"/>
<circle cx="253.9" cy="410.7" r="2.35"/>
<circle cx="196.6" cy="447.2" r="2.35"/>
<circle cx="230.6" cy="406.1" r="2.35"/>
<circle cx="265.3" cy="379.3" r="2.35"/>
<circle cx="221" cy="426.4" r="2.35"/>
<circle cx="199.2" cy="418.1" r="2.35"/>
<circle cx="229.3" cy="421.4" r="2.35"/>
<circle cx="194" cy="437.4" r="2.35"/>
<circle cx="197.9" cy="440.2" r="2.35"/>
<circle cx="255" cy="400" r="2.35"/>
<circle cx="200.1" cy="433.9" r="2.35"/>
<circle cx="214.6" cy="432.3" r="2.35"/>
<circle cx="190.7" cy="429.9" r="2.35"/>
<circle cx="229" cy="430.8" r="2.35"/>
<circle cx="197.9" cy="428.4" r="2.35"/>
<circle cx="206.6" cy="430.8" r="2.35"/>
<circle cx="283.4" cy="384.6" r="2.35"/>
<circle cx="263.6" cy="405.3" r="2.35"/>
<circle cx="190.5" cy="427.3" r="2.35"/>
<circle cx="254.8" cy="401.7" r="2.35"/>
<circle cx="196.9" cy="437.7" r="2.35"/>
<circle cx="199" cy="423.9" r="2.35"/>
<circle cx="202.5" cy="425.2" r="2.35"/>
<circle cx="223.5" cy="430.2" r="2.35"/>
<circle cx="186.2" cy="430.7" r="2.35"/>
<circle cx="210.6" cy="436.6" r="2.35"/>
<circle cx="203.5" cy="424.5" r="2.35"/>
<circle cx="199.8" cy="442.7" r="2.35"/>
<circle cx="189.3" cy="422.4" r="2.35"/>
<circle cx="234.9" cy="401.7" r="2.35"/>
<circle cx="247.7" cy="402.7" r="2.35"/>
<circle cx="210.5" cy="436.7" r="2.35"/>
<circle cx="202.2" cy="414.9" r="2.35"/>
<circle cx="218.3" cy="410.9" r="2.35"/>
<circle cx="243.6" cy="403" r="2.35"/>
<circle cx="198.1" cy="447.1" r="2.35"/>
<circle cx="190.3" cy="441.1" r="2.35"/>
<circle cx="211.1" cy="419.9" r="2.35"/>
<circle cx="196.1" cy="424.7" r="2.35"/>
<circle cx="217.6" cy="420.1" r="2.35"/>
<circle cx="245.6" cy="425.2" r="2.35"/>
<circle cx="203.7" cy="430.8" r="2.35"/>
<circle cx="212.6" cy="432" r="2.35"/>
<circle cx="208.7" cy="447.3" r="2.35"/>
<circle cx="232" cy="436.8" r="2.35"/>
<circle cx="240.2" cy="426.3" r="2.35"/>
<circle cx="205.9" cy="426.3" r="2.35"/>
<circle cx="204" cy="418.2" r="2.35"/>
<circle cx="187.3" cy="422.4" r="2.35"/>
<circle cx="224.3" cy="396.7" r="2.35"/>
<circle cx="202.2" cy="440.8" r="2.35"/>
<circle cx="220.5" cy="434.6" r="2.35"/>
<circle cx="243.3" cy="400.7" r="2.35"/>
<circle cx="211.8" cy="431.9" r="2.35"/>
<circle cx="186.3" cy="437.1" r="2.35"/>
<circle cx="199.4" cy="433.5" r="2.35"/>
<circle cx="229.7" cy="421.6" r="2.35"/>
<circle cx="231.1" cy="383.5" r="2.35"/>
<circle cx="272.6" cy="370.3" r="2.35"/>
<circle cx="191.4" cy="415.9" r="2.35"/>
<circle cx="251.3" cy="385.4" r="2.35"/>
<circle cx="223.1" cy="441.4" r="2.35"/>
<circle cx="266.8" cy="371.1" r="2.35"/>
<circle cx="274.1" cy="381.1" r="2.35"/>
<circle cx="296.5" cy="364.1" r="2.35"/>
<circle cx="242.2" cy="415.9" r="2.35"/>
<circle cx="216.6" cy="431.8" r="2.35"/>
<circle cx="247.2" cy="433.2" r="2.35"/>
<circle cx="196" cy="428" r="2.35"/>
<circle cx="208.6" cy="427.2" r="2.35"/>
<circle cx="197.1" cy="448.5" r="2.35"/>
<circle cx="224.7" cy="441.6" r="2.35"/>
<circle cx="289.2" cy="391.2" r="2.35"/>
<circle cx="235.1" cy="411.5" r="2.35"/>
<circle cx="209.2" cy="416" r="2.35"/>
<circle cx="221.5" cy="398.6" r="2.35"/>
<circle cx="270.4" cy="398.7" r="2.35"/>
<circle cx="201.6" cy="444.6" r="2.35"/>
<circle cx="211" cy="409.6" r="2.35"/>
<circle cx="208.1" cy="417.8" r="2.35"/>
<circle cx="199.2" cy="443" r="2.35"/>
<circle cx="211.1" cy="412.2" r="2.35"/>
<circle cx="272" cy="367.7" r="2.35"/>
<circle cx="229.4" cy="385.1" r="2.35"/>
<circle cx="233.6" cy="389.8" r="2.35"/>
<circle cx="193.5" cy="424.3" r="2.35"/>
<circle cx="240.2" cy="386.2" r="2.35"/>
<circle cx="226.5" cy="411.5" r="2.35"/>
<circle cx="208.6" cy="403.3" r="2.35"/>
<circle cx="199.7" cy="435.3" r="2.35"/>
<circle cx="219" cy="430.3" r="2.35"/>
<circle cx="193.7" cy="419.7" r="2.35"/>
<circle cx="232.7" cy="395.1" r="2.35"/>
<circle cx="189.8" cy="420.9" r="2.35"/>
<circle cx="219.7" cy="393.6" r="2.35"/>
<circle cx="251.6" cy="376.9" r="2.35"/>
<circle cx="242.7" cy="383" r="2.35"/>
<circle cx="186" cy="442.5" r="2.35"/>
<circle cx="204.5" cy="404" r="2.35"/>
<circle cx="218.9" cy="408.6" r="2.35"/>
<circle cx="197.1" cy="414.5" r="2.35"/>
<circle cx="209.6" cy="425" r="2.35"/>
<circle cx="205.5" cy="434.1" r="2.35"/>
<circle cx="208" cy="438.7" r="2.35"/>
<circle cx="199.2" cy="438.6" r="2.35"/>
<circle cx="248.8" cy="384.2" r="2.35"/>
<circle cx="196.3" cy="441.6" r="2.35"/>
<circle cx="249.7" cy="419.1" r="2.35"/>
<circle cx="228.6" cy="406.6" r="2.35"/>
<circle cx="193.9" cy="434.3" r="2.35"/>
<circle cx="262.3" cy="413.7" r="2.35"/>
<circle cx="208.2" cy="437.7" r="2.35"/>
<circle cx="209.3" cy="430.9" r="2.35"/>
<circle cx="222.8" cy="406" r="2.35"/>
<circle cx="221.5" cy="403.8" r="2.35"/>
<circle cx="205.1" cy="444.4" r="2.35"/>
<circle cx="194.5" cy="446.8" r="2.35"/>
<circle cx="202.1" cy="435.3" r="2.35"/>
<circle cx="252.7" cy="398.6" r="2.35"/>
<circle cx="192.7" cy="442.2" r="2.35"/>
<circle cx="247.7" cy="395.3" r="2.35"/>
<circle cx="236.2" cy="387.5" r="2.35"/>
<circle cx="239.7" cy="400.1" r="2.35"/>
<circle cx="231.7" cy="385.2" r="2.35"/>
<circle cx="187.5" cy="416.4" r="2.35"/>
<circle cx="219.8" cy="419.6" r="2.35"/>
<circle cx="194.6" cy="426.3" r="2.35"/>
<circle cx="197.1" cy="422.1" r="2.35"/>
<circle cx="241.5" cy="404.9" r="2.35"/>
<circle cx="235.3" cy="411.5" r="2.35"/>
<circle cx="260.9" cy="391.9" r="2.35"/>
<circle cx="218.8" cy="417.2" r="2.35"/>
<circle cx="188.5" cy="431.1" r="2.35"/>
<circle cx="201" cy="413.9" r="2.35"/>
<circle cx="231.1" cy="389.4" r="2.35"/>
<circle cx="245.8" cy="384.6" r="2.35"/>
<circle cx="226.5" cy="429.3" r="2.35"/>
<circle cx="204.6" cy="435.3" r="2.35"/>
<circle cx="195.8" cy="413.3" r="2.35"/>
<circle cx="210.6" cy="443.4" r="2.35"/>
<circle cx="185" cy="420.9" r="2.35"/>
<circle cx="203" cy="408.9" r="2.35"/>
<circle cx="253.5" cy="406.6" r="2.35"/>
<circle cx="192.2" cy="413" r="2.35"/>
<circle cx="241.8" cy="419.8" r="2.35"/>
<circle cx="195" cy="437" r="2.35"/>
<circle cx="203.6" cy="443.8" r="2.35"/>
<circle cx="231.3" cy="413.5" r="2.35"/>
<circle cx="232.1" cy="385" r="2.35"/>
<circle cx="207.8" cy="414.1" r="2.35"/>
<circle cx="202.2" cy="431.9" r="2.35"/>
<circle cx="220.9" cy="405.6" r="2.35"/>
<circle cx="261.1" cy="385.9" r="2.35"/>
<circle cx="210.4" cy="415.9" r="2.35"/>
<circle cx="190.3" cy="435.8" r="2.35"/>
<circle cx="204.2" cy="416.4" r="2.35"/>
<circle cx="204.3" cy="414.9" r="2.35"/>
<circle cx="200" cy="420.8" r="2.35"/>
<circle cx="209.8" cy="434.1" r="2.35"/>
<circle cx="196.6" cy="426" r="2.35"/>
<circle cx="218.2" cy="423.4" r="2.35"/>
<circle cx="186.8" cy="417.5" r="2.35"/>
<circle cx="224.6" cy="427.7" r="2.35"/>
<circle cx="238" cy="400.2" r="2.35"/>
<circle cx="214.5" cy="413.7" r="2.35"/>
<circle cx="226.7" cy="401" r="2.35"/>
<circle cx="220.7" cy="437.2" r="2.35"/>
<circle cx="231" cy="424.5" r="2.35"/>
<circle cx="204.8" cy="436.7" r="2.35"/>
<circle cx="207.4" cy="438.9" r="2.35"/>
<circle cx="215.4" cy="402.4" r="2.35"/>
<circle cx="197.2" cy="425" r="2.35"/>
<circle cx="244.8" cy="412.9" r="2.35"/>
<circle cx="196.1" cy="428.1" r="2.35"/>
<circle cx="197.9" cy="442.3" r="2.35"/>
<circle cx="233.9" cy="417.4" r="2.35"/>
<circle cx="259.1" cy="409.3" r="2.35"/>
<circle cx="194.4" cy="443" r="2.35"/>
<circle cx="225" cy="437.3" r="2.35"/>
<circle cx="204.3" cy="423.8" r="2.35"/>
<circle cx="255.4" cy="401.9" r="2.35"/>
<circle cx="229.8" cy="422.8" r="2.35"/>
<circle cx="195" cy="443.9" r="2.35"/>
<circle cx="200.9" cy="411.8" r="2.35"/>
<circle cx="228.5" cy="431.4" r="2.35"/>
<circle cx="225.6" cy="427.4" r="2.35"/>
<circle cx="219.8" cy="409.8" r="2.35"/>
<circle cx="211.4" cy="444.2" r="2.35"/>
<circle cx="209.2" cy="433.9" r="2.35"/>
<circle cx="257.4" cy="411.7" r="2.35"/>
<circle cx="207.1" cy="414.3" r="2.35"/>
<circle cx="225" cy="429.8" r="2.35"/>
<circle cx="224.9" cy="419.4" r="2.35"/>
<circle cx="243.4" cy="397.4" r="2.35"/>
<circle cx="231.5" cy="399.2" r="2.35"/>
<circle cx="242.3" cy="413.6" r="2.35"/>
<circle cx="190.3" cy="429.4" r="2.35"/>
<circle cx="206.7" cy="431.1" r="2.35"/>
<circle cx="203.2" cy="419.6" r="2.35"/>
<circle cx="249.1" cy="405.4" r="2.35"/>
<circle cx="218.6" cy="418.9" r="2.35"/>
<circle cx="200.3" cy="428.1" r="2.35"/>
<circle cx="241.3" cy="392.5" r="2.35"/>
<circle cx="204.7" cy="424.2" r="2.35"/>
<circle cx="219.7" cy="431.7" r="2.35"/>
<circle cx="198.5" cy="422.8" r="2.35"/>
<circle cx="233.4" cy="410.8" r="2.35"/>
<circle cx="208.1" cy="445.6" r="2.35"/>
<circle cx="207.8" cy="431" r="2.35"/>
<circle cx="191.7" cy="441.4" r="2.35"/>
<circle cx="249.6" cy="404.7" r="2.35"/>
<circle cx="211.2" cy="435.4" r="2.35"/>
<circle cx="233.8" cy="411.1" r="2.35"/>
<circle cx="236.7" cy="390.8" r="2.35"/>
<circle cx="225.5" cy="419.2" r="2.35"/>
<circle cx="251.1" cy="430.7" r="2.35"/>
<circle cx="196.3" cy="414.5" r="2.35"/>
<circle cx="197.5" cy="409.9" r="2.35"/>
<circle cx="230.4" cy="413.1" r="2.35"/>
<circle cx="209.3" cy="415.7" r="2.35"/>
<circle cx="205.7" cy="420.1" r="2.35"/>
<circle cx="198.3" cy="428" r="2.35"/>
<circle cx="197.8" cy="411.9" r="2.35"/>
<circle cx="227.5" cy="442.1" r="2.35"/>
<circle cx="231.7" cy="395.6" r="2.35"/>
<circle cx="194.1" cy="448.5" r="2.35"/>
<circle cx="199.1" cy="428" r="2.35"/>
<circle cx="216.2" cy="403" r="2.35"/>
<circle cx="207.4" cy="422.5" r="2.35"/>
<circle cx="224.4" cy="422.2" r="2.35"/>
<circle cx="186.1" cy="435.7" r="2.35"/>
<circle cx="198.9" cy="422.6" r="2.35"/>
<circle cx="211" cy="440.1" r="2.35"/>
<circle cx="196.5" cy="417.7" r="2.35"/>
<circle cx="231" cy="435" r="2.35"/>
<circle cx="230.1" cy="414.1" r="2.35"/>
<circle cx="206.3" cy="432.6" r="2.35"/>
<circle cx="202.3" cy="443.7" r="2.35"/>
<circle cx="258.9" cy="406.4" r="2.35"/>
<circle cx="194.4" cy="444.5" r="2.35"/>
<circle cx="211.4" cy="426.1" r="2.35"/>
<circle cx="193.5" cy="434" r="2.35"/>
<circle cx="259.6" cy="410.4" r="2.35"/>
<circle cx="202.6" cy="426.4" r="2.35"/>
<circle cx="192.7" cy="425.5" r="2.35"/>
<circle cx="232" cy="421.3" r="2.35"/>
<circle cx="235.9" cy="382.3" r="2.35"/>
<circle cx="194.3" cy="448.6" r="2.35"/>
<circle cx="254.2" cy="408.5" r="2.35"/>
<circle cx="209.6" cy="433.6" r="2.35"/>
<circle cx="195.3" cy="430.4" r="2.35"/>
<circle cx="198.2" cy="433.5" r="2.35"/>
<circle cx="237.9" cy="433.8" r="2.35"/>
<circle cx="266.6" cy="394.7" r="2.35"/>
<circle cx="221.9" cy="438.6" r="2.35"/>
<circle cx="277.4" cy="384.6" r="2.35"/>
<circle cx="251.9" cy="403.9" r="2.35"/>
<circle cx="229.9" cy="417.5" r="2.35"/>
<circle cx="206.7" cy="410" r="2.35"/>
<circle cx="198.7" cy="438.8" r="2.35"/>
<circle cx="199.3" cy="432.6" r="2.35"/>
<circle cx="226.4" cy="396.8" r="2.35"/>
<circle cx="194.4" cy="448.6" r="2.35"/>
<circle cx="189" cy="438.7" r="2.35"/>
<circle cx="205.9" cy="409.4" r="2.35"/>
<circle cx="221.5" cy="439.8" r="2.35"/>
<circle cx="233.2" cy="413.7" r="2.35"/>
<circle cx="226.6" cy="418.2" r="2.35"/>
<circle cx="195.5" cy="413.4" r="2.35"/>
<circle cx="225.8" cy="399.5" r="2.35"/>
<circle cx="206.7" cy="439.3" r="2.35"/>
<circle cx="218.3" cy="436.8" r="2.35"/>
<circle cx="196.1" cy="429.4" r="2.35"/>
<circle cx="280.3" cy="376.9" r="2.35"/>
<circle cx="199.4" cy="435.6" r="2.35"/>
<circle cx="210.2" cy="407.1" r="2.35"/>
<circle cx="234.4" cy="395.9" r="2.35"/>
<circle cx="249.8" cy="376" r="2.35"/>
<circle cx="211" cy="413.5" r="2.35"/>
<circle cx="188.4" cy="434.7" r="2.35"/>
<circle cx="186.6" cy="439.9" r="2.35"/>
<circle cx="204.3" cy="442.7" r="2.35"/>
<circle cx="221.9" cy="426.9" r="2.35"/>
<circle cx="213.2" cy="416" r="2.35"/>
<circle cx="213.2" cy="422.5" r="2.35"/>
<circle cx="208.3" cy="413.7" r="2.35"/>
<circle cx="233.9" cy="411.5" r="2.35"/>
<circle cx="202.8" cy="406" r="2.35"/>
<circle cx="219.1" cy="405.3" r="2.35"/>
<circle cx="204" cy="422.7" r="2.35"/>
<circle cx="281.7" cy="389.6" r="2.35"/>
<circle cx="269.4" cy="377.8" r="2.35"/>
<circle cx="229.8" cy="428.8" r="2.35"/>
<circle cx="218.1" cy="400.4" r="2.35"/>
<circle cx="218.9" cy="395.8" r="2.35"/>
<circle cx="235.5" cy="388.6" r="2.35"/>
<circle cx="195.1" cy="444.1" r="2.35"/>
<circle cx="267.1" cy="384.9" r="2.35"/>
<circle cx="194.7" cy="424.7" r="2.35"/>
<circle cx="218.9" cy="401.6" r="2.35"/>
<circle cx="189.3" cy="416" r="2.35"/>
<circle cx="230" cy="427.2" r="2.35"/>
<circle cx="229.4" cy="415.8" r="2.35"/>
<circle cx="201.8" cy="433" r="2.35"/>
<circle cx="221.1" cy="431.7" r="2.35"/>
<circle cx="232.2" cy="391.9" r="2.35"/>
<circle cx="245" cy="403.3" r="2.35"/>
<circle cx="254.3" cy="400" r="2.35"/>
<circle cx="254.8" cy="395.4" r="2.35"/>
<circle cx="223.1" cy="413.2" r="2.35"/>
<circle cx="285.4" cy="384.5" r="2.35"/>
<circle cx="190.6" cy="428.2" r="2.35"/>
<circle cx="248.8" cy="375.9" r="2.35"/>
<circle cx="239.2" cy="392.9" r="2.35"/>
<circle cx="200.3" cy="433.2" r="2.35"/>
<circle cx="261.6" cy="419.1" r="2.35"/>
<circle cx="220.7" cy="418.2" r="2.35"/>
<circle cx="202.2" cy="429.9" r="2.35"/>
<circle cx="296.7" cy="380.3" r="2.35"/>
<circle cx="206.2" cy="409.2" r="2.35"/>
<circle cx="218.3" cy="399.1" r="2.35"/>
<circle cx="201.8" cy="414.7" r="2.35"/>
<circle cx="219.6" cy="428.2" r="2.35"/>
<circle cx="224" cy="411.2" r="2.35"/>
<circle cx="203.7" cy="444.5" r="2.35"/>
<circle cx="211.4" cy="433.5" r="2.35"/>
<circle cx="196.2" cy="411.1" r="2.35"/>
<circle cx="194.2" cy="419.3" r="2.35"/>
<circle cx="202.9" cy="410.8" r="2.35"/>
<circle cx="210.7" cy="417.2" r="2.35"/>
<circle cx="202.1" cy="425" r="2.35"/>
<circle cx="235.3" cy="415" r="2.35"/>
<circle cx="225.5" cy="403.7" r="2.35"/>
<circle cx="190" cy="423.8" r="2.35"/>
<circle cx="205.9" cy="419.7" r="2.35"/>
<circle cx="202.1" cy="423.7" r="2.35"/>
<circle cx="236.1" cy="426.8" r="2.35"/>
<circle cx="212.9" cy="432.5" r="2.35"/>
<circle cx="198.3" cy="417.3" r="2.35"/>
<circle cx="207.8" cy="422.7" r="2.35"/>
<circle cx="219.3" cy="406.6" r="2.35"/>
<circle cx="209.9" cy="414" r="2.35"/>
<circle cx="201.2" cy="423.4" r="2.35"/>
<circle cx="220.2" cy="428.6" r="2.35"/>
<circle cx="251.2" cy="402.9" r="2.35"/>
<circle cx="209.1" cy="447.3" r="2.35"/>
<circle cx="203.7" cy="413.8" r="2.35"/>
<circle cx="202.7" cy="419.1" r="2.35"/>
<circle cx="212.4" cy="419.3" r="2.35"/>
<circle cx="187.6" cy="444.3" r="2.35"/>
<circle cx="209.9" cy="429.1" r="2.35"/>
<circle cx="195" cy="439" r="2.35"/>
<circle cx="194.2" cy="425.8" r="2.35"/>
<circle cx="267.2" cy="399.9" r="2.35"/>
<circle cx="185.7" cy="428.8" r="2.35"/>
<circle cx="198.2" cy="413.8" r="2.35"/>
<circle cx="196.1" cy="409.7" r="2.35"/>
<circle cx="260.1" cy="421.7" r="2.35"/>
<circle cx="191.2" cy="436.3" r="2.35"/>
<circle cx="203.1" cy="446.6" r="2.35"/>
<circle cx="197.1" cy="409.3" r="2.35"/>
<circle cx="212.7" cy="439.4" r="2.35"/>
<circle cx="210.5" cy="413.4" r="2.35"/>
<circle cx="306.5" cy="370" r="2.35"/>
<circle cx="202.6" cy="409.4" r="2.35"/>
<circle cx="263.7" cy="408.1" r="2.35"/>
<circle cx="188.6" cy="435.4" r="2.35"/>
<circle cx="229.6" cy="410.7" r="2.35"/>
<circle cx="210.6" cy="421.9" r="2.35"/>
<circle cx="208.5" cy="428.2" r="2.35"/>
<circle cx="211.2" cy="410.5" r="2.35"/>
<circle cx="297.4" cy="350" r="2.35"/>
<circle cx="200.2" cy="413.7" r="2.35"/>
<circle cx="235.5" cy="421.1" r="2.35"/>
<circle cx="243.9" cy="409.6" r="2.35"/>
<circle cx="199.1" cy="426.7" r="2.35"/>
<circle cx="190.5" cy="431.1" r="2.35"/>
<circle cx="200.9" cy="416.5" r="2.35"/>
<circle cx="206.4" cy="414.5" r="2.35"/>
<circle cx="271.2" cy="415.6" r="2.35"/>
<circle cx="255.6" cy="388.6" r="2.35"/>
<circle cx="196.3" cy="440" r="2.35"/>
<circle cx="248.5" cy="375.6" r="2.35"/>
<circle cx="204.7" cy="440.5" r="2.35"/>
<circle cx="220.7" cy="436.6" r="2.35"/>
<circle cx="216.3" cy="434.2" r="2.35"/>
<circle cx="200.8" cy="423.9" r="2.35"/>
<circle cx="198.3" cy="445.9" r="2.35"/>
<circle cx="191.9" cy="427.3" r="2.35"/>
<circle cx="198.4" cy="434.9" r="2.35"/>
<circle cx="259.8" cy="386.1" r="2.35"/>
<circle cx="211.4" cy="428.7" r="2.35"/>
<circle cx="201.6" cy="433.2" r="2.35"/>
<circle cx="227.5" cy="430.7" r="2.35"/>
<circle cx="208.3" cy="439.9" r="2.35"/>
<circle cx="222.8" cy="407.9" r="2.35"/>
<circle cx="248.8" cy="377.1" r="2.35"/>
<circle cx="261" cy="395.8" r="2.35"/>
<circle cx="255.4" cy="422.6" r="2.35"/>
<circle cx="239.1" cy="403" r="2.35"/>
<circle cx="216" cy="437.1" r="2.35"/>
<circle cx="245.3" cy="407.5" r="2.35"/>
<circle cx="224.1" cy="414" r="2.35"/>
<circle cx="276.1" cy="399.3" r="2.35"/>
<circle cx="207.2" cy="437.6" r="2.35"/>
<circle cx="192.4" cy="430.2" r="2.35"/>
<circle cx="189.5" cy="437.6" r="2.35"/>
<circle cx="210.3" cy="428.7" r="2.35"/>
<circle cx="191.9" cy="431.4" r="2.35"/>
<circle cx="199.6" cy="412.4" r="2.35"/>
<circle cx="189.8" cy="436.1" r="2.35"/>
<circle cx="255.2" cy="397.4" r="2.35"/>
<circle cx="264.8" cy="390.5" r="2.35"/>
<circle cx="186.4" cy="443.2" r="2.35"/>
<circle cx="196.3" cy="439.4" r="2.35"/>
<circle cx="189.1" cy="427.6" r="2.35"/>
<circle cx="198.8" cy="426.5" r="2.35"/>
<circle cx="236" cy="402.8" r="2.35"/>
<circle cx="223.1" cy="404.2" r="2.35"/>
<circle cx="196.6" cy="427.5" r="2.35"/>
<circle cx="217.8" cy="403.2" r="2.35"/>
<circle cx="199.8" cy="442.5" r="2.35"/>
<circle cx="203.5" cy="418.2" r="2.35"/>
<circle cx="192.2" cy="446.3" r="2.35"/>
<circle cx="207.6" cy="405.3" r="2.35"/>
<circle cx="227.5" cy="392.7" r="2.35"/>
<circle cx="201.1" cy="431.5" r="2.35"/>
<circle cx="239" cy="420" r="2.35"/>
<circle cx="274.6" cy="388.4" r="2.35"/>
<circle cx="245.2" cy="393.4" r="2.35"/>
<circle cx="273.5" cy="371.4" r="2.35"/>
<circle cx="253" cy="427.4" r="2.35"/>
<circle cx="204.6" cy="409.8" r="2.35"/>
<circle cx="208.1" cy="429.7" r="2.35"/>
<circle cx="257.8" cy="386.2" r="2.35"/>
<circle cx="282.1" cy="375.6" r="2.35"/>
<circle cx="214.1" cy="430.9" r="2.35"/>
<circle cx="279.6" cy="385" r="2.35"/>
<circle cx="259.7" cy="396.5" r="2.35"/>
<circle cx="212.5" cy="424.5" r="2.35"/>
<circle cx="226.1" cy="430.9" r="2.35"/>
<circle cx="272.9" cy="414.8" r="2.35"/>
<circle cx="274.1" cy="375.8" r="2.35"/>
<circle cx="259.4" cy="426.3" r="2.35"/>
<circle cx="281.7" cy="401.9" r="2.35"/>
<circle cx="267.4" cy="398.4" r="2.35"/>
<circle cx="279.9" cy="400.1" r="2.35"/>
<circle cx="234" cy="414.1" r="2.35"/>
<circle cx="238.2" cy="410.1" r="2.35"/>
<circle cx="228.4" cy="431.6" r="2.35"/>
<circle cx="219.2" cy="405.5" r="2.35"/>
<circle cx="226.6" cy="433.6" r="2.35"/>
<circle cx="213" cy="430.3" r="2.35"/>
<circle cx="281.4" cy="386.8" r="2.35"/>
<circle cx="253.7" cy="421.9" r="2.35"/>
<circle cx="282.1" cy="371" r="2.35"/>
<circle cx="212.6" cy="400" r="2.35"/>
<circle cx="254.1" cy="388.6" r="2.35"/>
<circle cx="238.8" cy="420.2" r="2.35"/>
<circle cx="278.4" cy="392.7" r="2.35"/>
<circle cx="202.3" cy="440.8" r="2.35"/>
<circle cx="252.3" cy="401.2" r="2.35"/>
<circle cx="245.4" cy="415.7" r="2.35"/>
<circle cx="205.4" cy="443.5" r="2.35"/>
<circle cx="241.1" cy="401.2" r="2.35"/>
<circle cx="225.4" cy="398.9" r="2.35"/>
<circle cx="225.7" cy="412.7" r="2.35"/>
<circle cx="204.3" cy="422.5" r="2.35"/>
<circle cx="271.3" cy="410.1" r="2.35"/>
<circle cx="217.4" cy="433.6" r="2.35"/>
<circle cx="278.3" cy="378.2" r="2.35"/>
<circle cx="212.6" cy="412.5" r="2.35"/>
<circle cx="275.5" cy="389.7" r="2.35"/>
<circle cx="282.7" cy="372.1" r="2.35"/>
<circle cx="242" cy="414.1" r="2.35"/>
<circle cx="273.9" cy="412.6" r="2.35"/>
<circle cx="222.8" cy="411.9" r="2.35"/>
<circle cx="212.6" cy="431.8" r="2.35"/>
<circle cx="263.6" cy="414.1" r="2.35"/>
<circle cx="249.2" cy="386.8" r="2.35"/>
<circle cx="273.4" cy="382.1" r="2.35"/>
<circle cx="247.8" cy="389.8" r="2.35"/>
<circle cx="284.8" cy="389.2" r="2.35"/>
<circle cx="236.7" cy="415.6" r="2.35"/>
<circle cx="235.4" cy="400.1" r="2.35"/>
<circle cx="266.1" cy="375" r="2.35"/>
<circle cx="285.4" cy="391.8" r="2.35"/>
<circle cx="228.6" cy="422.2" r="2.35"/>
<circle cx="221.8" cy="391.6" r="2.35"/>
<circle cx="270.1" cy="393" r="2.35"/>
<circle cx="225.3" cy="416.7" r="2.35"/>
<circle cx="214.1" cy="418.7" r="2.35"/>
<circle cx="248.8" cy="379.7" r="2.35"/>
<circle cx="225.9" cy="411.8" r="2.35"/>
<circle cx="209.9" cy="414.7" r="2.35"/>
<circle cx="253.6" cy="385" r="2.35"/>
<circle cx="234.2" cy="413.3" r="2.35"/>
<circle cx="209.6" cy="435.3" r="2.35"/>
<circle cx="227" cy="438.3" r="2.35"/>
<circle cx="236.3" cy="398.7" r="2.35"/>
<circle cx="213.2" cy="432.6" r="2.35"/>
<circle cx="260" cy="396.7" r="2.35"/>
<circle cx="204.9" cy="410.6" r="2.35"/>
<circle cx="236.7" cy="398.3" r="2.35"/>
<circle cx="227.5" cy="409.8" r="2.35"/>
<circle cx="278.8" cy="366.3" r="2.35"/>
<circle cx="211.2" cy="417.2" r="2.35"/>
<circle cx="207.3" cy="424.3" r="2.35"/>
<circle cx="228.5" cy="439.5" r="2.35"/>
<circle cx="282.4" cy="384.3" r="2.35"/>
<circle cx="241.5" cy="409.1" r="2.35"/>
<circle cx="275.2" cy="395.5" r="2.35"/>
<circle cx="204.3" cy="415.1" r="2.35"/>
<circle cx="268" cy="378.8" r="2.35"/>
<circle cx="261.4" cy="379" r="2.35"/>
<circle cx="283.9" cy="372.3" r="2.35"/>
<circle cx="216.5" cy="416.2" r="2.35"/>
<circle cx="210.3" cy="443.5" r="2.35"/>
<circle cx="283.8" cy="387.2" r="2.35"/>
<circle cx="280.4" cy="400" r="2.35"/>
<circle cx="244.6" cy="399.9" r="2.35"/>
<circle cx="277.5" cy="388.4" r="2.35"/>
<circle cx="270.8" cy="392.3" r="2.35"/>
<circle cx="250" cy="393.6" r="2.35"/>
<circle cx="240.4" cy="415.2" r="2.35"/>
<circle cx="202.9" cy="409.5" r="2.35"/>
<circle cx="258.2" cy="377.8" r="2.35"/>
<circle cx="264.4" cy="416.4" r="2.35"/>
<circle cx="250.8" cy="375.4" r="2.35"/>
<circle cx="265.3" cy="402.9" r="2.35"/>
<circle cx="241.7" cy="424.6" r="2.35"/>
<circle cx="220.8" cy="425.9" r="2.35"/>
<circle cx="281.7" cy="406.2" r="2.35"/>
<circle cx="207.6" cy="420" r="2.35"/>
<circle cx="223.7" cy="391.8" r="2.35"/>
<circle cx="218.2" cy="424.9" r="2.35"/>
<circle cx="252.7" cy="395.1" r="2.35"/>
<circle cx="240.2" cy="395.2" r="2.35"/>
<circle cx="249.5" cy="390.8" r="2.35"/>
<circle cx="240.5" cy="393.7" r="2.35"/>
<circle cx="252.8" cy="394.8" r="2.35"/>
<circle cx="209.8" cy="433.2" r="2.35"/>
<circle cx="232.3" cy="392.7" r="2.35"/>
<circle cx="247.4" cy="398.8" r="2.35"/>
<circle cx="252.5" cy="386.7" r="2.35"/>
<circle cx="238" cy="402.1" r="2.35"/>
<circle cx="205.1" cy="431.7" r="2.35"/>
<circle cx="260.4" cy="400.3" r="2.35"/>
<circle cx="243.4" cy="393.7" r="2.35"/>
<circle cx="282.9" cy="362.9" r="2.35"/>
<circle cx="230" cy="411.6" r="2.35"/>
<circle cx="258.7" cy="421.6" r="2.35"/>
<circle cx="204.3" cy="437.8" r="2.35"/>
<circle cx="259.2" cy="411.8" r="2.35"/>
<circle cx="206.5" cy="438.8" r="2.35"/>
<circle cx="253.1" cy="400.1" r="2.35"/>
<circle cx="254.8" cy="410.2" r="2.35"/>
<circle cx="261.5" cy="370" r="2.35"/>
<circle cx="243.4" cy="421.6" r="2.35"/>
<circle cx="242" cy="424.2" r="2.35"/>
<circle cx="210.8" cy="439.5" r="2.35"/>
<circle cx="222.2" cy="425.1" r="2.35"/>
<circle cx="269.4" cy="389.4" r="2.35"/>
<circle cx="282.2" cy="391.2" r="2.35"/>
<circle cx="229.2" cy="434.9" r="2.35"/>
<circle cx="246.6" cy="419.9" r="2.35"/>
<circle cx="224.9" cy="413.2" r="2.35"/>
<circle cx="224.8" cy="429.1" r="2.35"/>
<circle cx="268.3" cy="413.8" r="2.35"/>
<circle cx="271.9" cy="396.2" r="2.35"/>
<circle cx="253.3" cy="397" r="2.35"/>
<circle cx="274.8" cy="407.4" r="2.35"/>
<circle cx="201.1" cy="409.2" r="2.35"/>
<circle cx="278.1" cy="402.7" r="2.35"/>
<circle cx="209.5" cy="433.2" r="2.35"/>
<circle cx="202.6" cy="417.7" r="2.35"/>
<circle cx="210.6" cy="406.9" r="2.35"/>
<circle cx="222.3" cy="414.5" r="2.35"/>
<circle cx="246.8" cy="386.1" r="2.35"/>
<circle cx="205.7" cy="429.8" r="2.35"/>
<circle cx="278.5" cy="389.2" r="2.35"/>
<circle cx="238" cy="424.8" r="2.35"/>
<circle cx="284.5" cy="389.7" r="2.35"/>
<circle cx="261.3" cy="413.1" r="2.35"/>
<circle cx="222.6" cy="419.5" r="2.35"/>
<circle cx="218" cy="411.9" r="2.35"/>
<circle cx="270.4" cy="401.3" r="2.35"/>
<circle cx="249.7" cy="400.4" r="2.35"/>
<circle cx="208.8" cy="417.2" r="2.35"/>
<circle cx="223.7" cy="425.9" r="2.35"/>
<circle cx="211.3" cy="420.7" r="2.35"/>
<circle cx="251.3" cy="434.3" r="2.35"/>
<circle cx="276.7" cy="398.1" r="2.35"/>
<circle cx="232.1" cy="422.8" r="2.35"/>
<circle cx="203" cy="414.8" r="2.35"/>
<circle cx="280.7" cy="384.7" r="2.35"/>
<circle cx="271.5" cy="371.1" r="2.35"/>
<circle cx="203.6" cy="433" r="2.35"/>
<circle cx="224.7" cy="408.6" r="2.35"/>
<circle cx="233.4" cy="392.8" r="2.35"/>
<circle cx="284.7" cy="359.1" r="2.35"/>
<circle cx="203.5" cy="446.9" r="2.35"/>
<circle cx="285.6" cy="363" r="2.35"/>
<circle cx="253.7" cy="404.8" r="2.35"/>
<circle cx="234.8" cy="393" r="2.35"/>
<circle cx="235.3" cy="407.8" r="2.35"/>
<circle cx="257.3" cy="392.4" r="2.35"/>
<circle cx="227.3" cy="399.4" r="2.35"/>
<circle cx="226.2" cy="392.1" r="2.35"/>
<circle cx="268.2" cy="392.5" r="2.35"/>
<circle cx="228.3" cy="404.4" r="2.35"/>
<circle cx="269.8" cy="387.5" r="2.35"/>
<circle cx="229.7" cy="402.9" r="2.35"/>
<circle cx="258.9" cy="371.9" r="2.35"/>
<circle cx="200.8" cy="429.7" r="2.35"/>
<circle cx="246.8" cy="430.4" r="2.35"/>
<circle cx="238.3" cy="392.9" r="2.35"/>
<circle cx="267.5" cy="369.7" r="2.35"/>
<circle cx="252.6" cy="401.1" r="2.35"/>
<circle cx="256.6" cy="383.5" r="2.35"/>
<circle cx="215.5" cy="415.3" r="2.35"/>
<circle cx="274" cy="384.1" r="2.35"/>
<circle cx="271.1" cy="410.9" r="2.35"/>
<circle cx="244.9" cy="415.9" r="2.35"/>
<circle cx="256.7" cy="408.9" r="2.35"/>
<circle cx="223.8" cy="393.9" r="2.35"/>
<circle cx="224.1" cy="406.7" r="2.35"/>
<circle cx="247.7" cy="396.5" r="2.35"/>
<circle cx="238.4" cy="411.1" r="2.35"/>
<circle cx="211.5" cy="399.6" r="2.35"/>
<circle cx="275.4" cy="368" r="2.35"/>
<circle cx="261.7" cy="417.3" r="2.35"/>
<circle cx="217.1" cy="401.4" r="2.35"/>
<circle cx="280.2" cy="391.2" r="2.35"/>
<circle cx="249.5" cy="390.5" r="2.35"/>
<circle cx="240.8" cy="416.2" r="2.35"/>
<circle cx="274.4" cy="372.5" r="2.35"/>
<circle cx="209.5" cy="439" r="2.35"/>
<circle cx="208.5" cy="429.6" r="2.35"/>
<circle cx="284" cy="401.2" r="2.35"/>
<circle cx="211.1" cy="414.7" r="2.35"/>
<circle cx="239" cy="384.6" r="2.35"/>
<circle cx="283.9" cy="384.7" r="2.35"/>
<circle cx="227.6" cy="403.6" r="2.35"/>
<circle cx="279.7" cy="387.5" r="2.35"/>
<circle cx="214.6" cy="446.9" r="2.35"/>
<circle cx="276.1" cy="384.1" r="2.35"/>
<circle cx="200.8" cy="424.2" r="2.35"/>
<circle cx="243.8" cy="393.9" r="2.35"/>
<circle cx="280.4" cy="363.6" r="2.35"/>
<circle cx="267.2" cy="379.5" r="2.35"/>
<circle cx="258.8" cy="400.4" r="2.35"/>
<circle cx="241.3" cy="406.2" r="2.35"/>
<circle cx="266.8" cy="383.6" r="2.35"/>
<circle cx="261.7" cy="385" r="2.35"/>
<circle cx="214.4" cy="429" r="2.35"/>
<circle cx="261.8" cy="409.9" r="2.35"/>
<circle cx="269.8" cy="396.4" r="2.35"/>
<circle cx="258.3" cy="389.9" r="2.35"/>
<circle cx="220.8" cy="427.9" r="2.35"/>
<circle cx="234.1" cy="434.9" r="2.35"/>
<circle cx="218.8" cy="426.4" r="2.35"/>
<circle cx="232.5" cy="422.6" r="2.35"/>
<circle cx="235.4" cy="396.3" r="2.35"/>
<circle cx="269.3" cy="402.4" r="2.35"/>
<circle cx="264.4" cy="404.2" r="2.35"/>
<circle cx="215.7" cy="430.2" r="2.35"/>
<circle cx="269.6" cy="382.7" r="2.35"/>
<circle cx="260.4" cy="418.4" r="2.35"/>
<circle cx="229.1" cy="387.4" r="2.35"/>
<circle cx="250.4" cy="412.9" r="2.35"/>
<circle cx="210" cy="438.8" r="2.35"/>
<circle cx="214.9" cy="408.8" r="2.35"/>
<circle cx="223.3" cy="407.3" r="2.35"/>
<circle cx="266.8" cy="395.3" r="2.35"/>
<circle cx="216.5" cy="409.5" r="2.35"/>
<circle cx="224.2" cy="400.6" r="2.35"/>
<circle cx="244.6" cy="418.3" r="2.35"/>
<circle cx="236.1" cy="420.7" r="2.35"/>
<circle cx="218.5" cy="421.3" r="2.35"/>
<circle cx="245.4" cy="378.6" r="2.35"/>
<circle cx="285.8" cy="386" r="2.35"/>
<circle cx="244" cy="387.9" r="2.35"/>
<circle cx="274.3" cy="382.1" r="2.35"/>
<circle cx="272.2" cy="383.6" r="2.35"/>
<circle cx="213.7" cy="443.5" r="2.35"/>
<circle cx="243.1" cy="380.6" r="2.35"/>
<circle cx="238" cy="427.9" r="2.35"/>
<circle cx="270.3" cy="385.1" r="2.35"/>
<circle cx="260.5" cy="406.8" r="2.35"/>
<circle cx="254.4" cy="431.1" r="2.35"/>
<circle cx="277.1" cy="386.7" r="2.35"/>
<circle cx="210" cy="416.5" r="2.35"/>
<circle cx="210.8" cy="407.3" r="2.35"/>
<circle cx="242.1" cy="421.3" r="2.35"/>
<circle cx="256.6" cy="426.9" r="2.35"/>
<circle cx="257.5" cy="384.9" r="2.35"/>
<circle cx="274" cy="395" r="2.35"/>
<circle cx="215.7" cy="400.3" r="2.35"/>
<circle cx="209.7" cy="405" r="2.35"/>
<circle cx="230.5" cy="417.8" r="2.35"/>
<circle cx="259.8" cy="402.4" r="2.35"/>
<circle cx="226.3" cy="430.9" r="2.35"/>
<circle cx="262.6" cy="424.1" r="2.35"/>
<circle cx="247.2" cy="405.5" r="2.35"/>
<circle cx="225.4" cy="400.1" r="2.35"/>
<circle cx="248.3" cy="381" r="2.35"/>
<circle cx="240.2" cy="407.9" r="2.35"/>
<circle cx="272.8" cy="412.7" r="2.35"/>
<circle cx="269.1" cy="402.5" r="2.35"/>
<circle cx="220.4" cy="419" r="2.35"/>
<circle cx="219.2" cy="430.2" r="2.35"/>
<circle cx="272.8" cy="397.6" r="2.35"/>
<circle cx="273.1" cy="394.2" r="2.35"/>
<circle cx="274.3" cy="401.2" r="2.35"/>
<circle cx="232.5" cy="420.8" r="2.35"/>
<circle cx="211.6" cy="417.5" r="2.35"/>
<circle cx="247.3" cy="402.8" r="2.35"/>
<circle cx="281.9" cy="400.8" r="2.35"/>
<circle cx="250.7" cy="392.7" r="2.35"/>
<circle cx="259" cy="417" r="2.35"/>
<circle cx="203.3" cy="419" r="2.35"/>
<circle cx="235.7" cy="407.8" r="2.35"/>
<circle cx="215.8" cy="415.3" r="2.35"/>
<circle cx="207.7" cy="444.3" r="2.35"/>
<circle cx="219.4" cy="399.3" r="2.35"/>
<circle cx="225.3" cy="429.6" r="2.35"/>
<circle cx="243.4" cy="421.3" r="2.35"/>
<circle cx="252.9" cy="413.3" r="2.35"/>
<circle cx="246.9" cy="402.8" r="2.35"/>
<circle cx="231.2" cy="399.4" r="2.35"/>
<circle cx="213.7" cy="427.4" r="2.35"/>
<circle cx="243" cy="391.2" r="2.35"/>
<circle cx="277.3" cy="396.1" r="2.35"/>
<circle cx="277.3" cy="394.1" r="2.35"/>
<circle cx="278.7" cy="387.6" r="2.35"/>
<circle cx="276.7" cy="382.6" r="2.35"/>
<circle cx="249.6" cy="400.4" r="2.35"/>
<circle cx="244.9" cy="398.4" r="2.35"/>
<circle cx="219.6" cy="425.8" r="2.35"/>
<circle cx="264.2" cy="399" r="2.35"/>
<circle cx="250.3" cy="389.8" r="2.35"/>
<circle cx="235" cy="412.5" r="2.35"/>
<circle cx="205.9" cy="410.4" r="2.35"/>
<circle cx="216.1" cy="441.6" r="2.35"/>
<circle cx="259.3" cy="380.3" r="2.35"/>
<circle cx="244.7" cy="411.5" r="2.35"/>
<circle cx="266.9" cy="382.7" r="2.35"/>
<circle cx="210.6" cy="410.8" r="2.35"/>
<circle cx="258.4" cy="379.6" r="2.35"/>
<circle cx="275.7" cy="404.2" r="2.35"/>
<circle cx="203.4" cy="414.7" r="2.35"/>
<circle cx="284" cy="368.2" r="2.35"/>
<circle cx="205.9" cy="442.8" r="2.35"/>
<circle cx="262.8" cy="391" r="2.35"/>
<circle cx="246.2" cy="424.8" r="2.35"/>
<circle cx="227.2" cy="440.1" r="2.35"/>
<circle cx="230.7" cy="432.5" r="2.35"/>
<circle cx="203.8" cy="430.5" r="2.35"/>
<circle cx="265.3" cy="416.8" r="2.35"/>
<circle cx="202.6" cy="414.5" r="2.35"/>
<circle cx="282.6" cy="375.8" r="2.35"/>
<circle cx="283.4" cy="388" r="2.35"/>
<circle cx="272" cy="375.8" r="2.35"/>
<circle cx="211.6" cy="418.3" r="2.35"/>
<circle cx="253.7" cy="421.9" r="2.35"/>
<circle cx="269.9" cy="394.7" r="2.35"/>
<circle cx="235.2" cy="430.5" r="2.35"/>
<circle cx="236.8" cy="390.8" r="2.35"/>
<circle cx="268.3" cy="400.5" r="2.35"/>
<circle cx="202.5" cy="433.6" r="2.35"/>
<circle cx="232.7" cy="421.5" r="2.35"/>
<circle cx="272.6" cy="394.6" r="2.35"/>
<circle cx="269" cy="404.3" r="2.35"/>
<circle cx="279.7" cy="373.1" r="2.35"/>
<circle cx="274.6" cy="367.4" r="2.35"/>
<circle cx="217.8" cy="437.6" r="2.35"/>
<circle cx="279.6" cy="402.3" r="2.35"/>
<circle cx="221.9" cy="400.6" r="2.35"/>
<circle cx="247.7" cy="391.2" r="2.35"/>
<circle cx="249.8" cy="409.9" r="2.35"/>
<circle cx="257.9" cy="381.2" r="2.35"/>
<circle cx="253.6" cy="386.9" r="2.35"/>
<circle cx="220.3" cy="421.4" r="2.35"/>
<circle cx="274.8" cy="403.9" r="2.35"/>
<circle cx="213.4" cy="422" r="2.35"/>
<circle cx="264.1" cy="411.8" r="2.35"/>
<circle cx="201.1" cy="427.9" r="2.35"/>
<circle cx="277" cy="380.5" r="2.35"/>
<circle cx="275.6" cy="401.9" r="2.35"/>
<circle cx="223" cy="404.4" r="2.35"/>
<circle cx="247.8" cy="408" r="2.35"/>
<circle cx="241.9" cy="414.9" r="2.35"/>
<circle cx="280.2" cy="377.4" r="2.35"/>
<circle cx="225.6" cy="390.1" r="2.35"/>
<circle cx="207.2" cy="436.8" r="2.35"/>
<circle cx="234.6" cy="396.8" r="2.35"/>
<circle cx="227.1" cy="398" r="2.35"/>
<circle cx="223.1" cy="404.8" r="2.35"/>
<circle cx="266.9" cy="384.4" r="2.35"/>
<circle cx="233.4" cy="399.5" r="2.35"/>
<circle cx="212.7" cy="429.9" r="2.35"/>
<circle cx="216.5" cy="418.2" r="2.35"/>
<circle cx="274.8" cy="407.6" r="2.35"/>
<circle cx="240.3" cy="423.9" r="2.35"/>
<circle cx="217.9" cy="393.7" r="2.35"/>
<circle cx="241.4" cy="406.4" r="2.35"/>
<circle cx="210.1" cy="419.8" r="2.35"/>
<circle cx="241.6" cy="390.1" r="2.35"/>
<circle cx="221.1" cy="437.9" r="2.35"/>
<circle cx="233.4" cy="385.9" r="2.35"/>
<circle cx="280.1" cy="379.2" r="2.35"/>
<circle cx="242" cy="429.6" r="2.35"/>
<circle cx="263.6" cy="408.7" r="2.35"/>
<circle cx="228.4" cy="419.7" r="2.35"/>
<circle cx="217.1" cy="407.9" r="2.35"/>
<circle cx="230.3" cy="415.9" r="2.35"/>
<circle cx="218.8" cy="426.1" r="2.35"/>
<circle cx="244.1" cy="411.8" r="2.35"/>
<circle cx="258.1" cy="407" r="2.35"/>
<circle cx="223.3" cy="411" r="2.35"/>
<circle cx="260.7" cy="373.8" r="2.35"/>
<circle cx="244.4" cy="402.1" r="2.35"/>
<circle cx="268.4" cy="400.3" r="2.35"/>
<circle cx="265.6" cy="380.3" r="2.35"/>
<circle cx="281" cy="377" r="2.35"/>
<circle cx="259.2" cy="417.2" r="2.35"/>
<circle cx="206.2" cy="434.1" r="2.35"/>
<circle cx="230" cy="416.1" r="2.35"/>
<circle cx="234.6" cy="430" r="2.35"/>
<circle cx="275.1" cy="403.2" r="2.35"/>
<circle cx="274.6" cy="398" r="2.35"/>
<circle cx="219.2" cy="446.1" r="2.35"/>
<circle cx="277.3" cy="369.8" r="2.35"/>
<circle cx="236" cy="415.2" r="2.35"/>
<circle cx="258.1" cy="385.2" r="2.35"/>
<circle cx="257.7" cy="391.6" r="2.35"/>
<circle cx="237.5" cy="391.3" r="2.35"/>
<circle cx="248.6" cy="423.8" r="2.35"/>
<circle cx="240.9" cy="404.2" r="2.35"/>
<circle cx="258.9" cy="393.5" r="2.35"/>
<circle cx="271.2" cy="372.4" r="2.35"/>
<circle cx="247" cy="397" r="2.35"/>
<circle cx="275.5" cy="398.7" r="2.35"/>
<circle cx="243.5" cy="380" r="2.35"/>
<circle cx="205.3" cy="413.8" r="2.35"/>
<circle cx="251.5" cy="413.3" r="2.35"/>
<circle cx="228.4" cy="431.1" r="2.35"/>
<circle cx="263.6" cy="384.8" r="2.35"/>
<circle cx="224.9" cy="436.7" r="2.35"/>
<circle cx="255.6" cy="405.9" r="2.35"/>
<circle cx="217.1" cy="404.8" r="2.35"/>
<circle cx="256" cy="389.4" r="2.35"/>
<circle cx="252" cy="416.7" r="2.35"/>
<circle cx="259.7" cy="371.6" r="2.35"/>
<circle cx="203.5" cy="440.8" r="2.35"/>
<circle cx="239.1" cy="421.4" r="2.35"/>
<circle cx="264.3" cy="397.5" r="2.35"/>
<circle cx="238.8" cy="411.5" r="2.35"/>
<circle cx="225.6" cy="443" r="2.35"/>
<circle cx="264.9" cy="398.3" r="2.35"/>
<circle cx="258.5" cy="408.5" r="2.35"/>
<circle cx="238.5" cy="422.8" r="2.35"/>
<circle cx="272.5" cy="371.1" r="2.35"/>
<circle cx="258.6" cy="401.3" r="2.35"/>
<circle cx="285.5" cy="386.2" r="2.35"/>
<circle cx="256.8" cy="398.1" r="2.35"/>
<circle cx="283" cy="375.1" r="2.35"/>
<circle cx="263.6" cy="382.7" r="2.35"/>
<circle cx="239.1" cy="421.5" r="2.35"/>
<circle cx="201.5" cy="408.8" r="2.35"/>
<circle cx="263.4" cy="403.6" r="2.35"/>
<circle cx="237.3" cy="388.3" r="2.35"/>
<circle cx="274.3" cy="375.1" r="2.35"/>
<circle cx="276.1" cy="363.3" r="2.35"/>
<circle cx="271.7" cy="369.6" r="2.35"/>
<circle cx="247.4" cy="406" r="2.35"/>
<circle cx="254.6" cy="427.4" r="2.35"/>
<circle cx="255.4" cy="409.1" r="2.35"/>
<circle cx="238.8" cy="424.5" r="2.35"/>
<circle cx="235" cy="390.8" r="2.35"/>
<circle cx="284.1" cy="388.5" r="2.35"/>
<circle cx="200.8" cy="410.4" r="2.35"/>
<circle cx="274.7" cy="380" r="2.35"/>
<circle cx="211.9" cy="407" r="2.35"/>
<circle cx="210.3" cy="441.4" r="2.35"/>
<circle cx="266.4" cy="378.9" r="2.35"/>
<circle cx="202" cy="415.2" r="2.35"/>
<circle cx="257.1" cy="395.3" r="2.35"/>
<circle cx="221.3" cy="421.9" r="2.35"/>
<circle cx="273.9" cy="382" r="2.35"/>
<circle cx="248.9" cy="395.2" r="2.35"/>
<circle cx="220.3" cy="433.4" r="2.35"/>
<circle cx="250.5" cy="385.6" r="2.35"/>
<circle cx="263.2" cy="407.7" r="2.35"/>
<circle cx="273" cy="386.6" r="2.35"/>
<circle cx="202.4" cy="431.7" r="2.35"/>
<circle cx="279.5" cy="401.8" r="2.35"/>
<circle cx="271.1" cy="389.1" r="2.35"/>
<circle cx="220.6" cy="404" r="2.35"/>
<circle cx="252" cy="374.4" r="2.35"/>
<circle cx="245.4" cy="422.4" r="2.35"/>
<circle cx="252.4" cy="418.9" r="2.35"/>
<circle cx="221.5" cy="406.2" r="2.35"/>
<circle cx="279.4" cy="396.8" r="2.35"/>
<circle cx="260.9" cy="396.6" r="2.35"/>
<circle cx="249" cy="422.2" r="2.35"/>
<circle cx="281.5" cy="370.1" r="2.35"/>
<circle cx="232.3" cy="405" r="2.35"/>
<circle cx="246.6" cy="402.7" r="2.35"/>
<circle cx="254.7" cy="386.3" r="2.35"/>
<circle cx="253.3" cy="419.5" r="2.35"/>
<circle cx="229.3" cy="404.2" r="2.35"/>
<circle cx="251.4" cy="408.7" r="2.35"/>
<circle cx="237.2" cy="430.9" r="2.35"/>
<circle cx="262.7" cy="400.8" r="2.35"/>
<circle cx="231.7" cy="431.3" r="2.35"/>
<circle cx="239.1" cy="435.1" r="2.35"/>
<circle cx="250.9" cy="396.8" r="2.35"/>
<circle cx="216.5" cy="419.7" r="2.35"/>
<circle cx="247.3" cy="381.2" r="2.35"/>
<circle cx="275.6" cy="365.1" r="2.35"/>
<circle cx="260" cy="388.7" r="2.35"/>
<circle cx="243.4" cy="408.4" r="2.35"/>
<circle cx="211.8" cy="434.2" r="2.35"/>
<circle cx="249.7" cy="409.4" r="2.35"/>
<circle cx="235.8" cy="387.4" r="2.35"/>
<circle cx="232.8" cy="397.4" r="2.35"/>
<circle cx="261.8" cy="383.6" r="2.35"/>
<circle cx="283.8" cy="382.4" r="2.35"/>
<circle cx="244.9" cy="424.7" r="2.35"/>
<circle cx="216.6" cy="435.1" r="2.35"/>
<circle cx="258.6" cy="412.4" r="2.35"/>
<circle cx="239.2" cy="433.4" r="2.35"/>
<circle cx="273.3" cy="374.9" r="2.35"/>
<circle cx="265" cy="372.1" r="2.35"/>
<circle cx="231.1" cy="423.4" r="2.35"/>
<circle cx="270.9" cy="401.8" r="2.35"/>
<circle cx="246.2" cy="408.4" r="2.35"/>
<circle cx="261" cy="396.1" r="2.35"/>
<circle cx="206" cy="426.4" r="2.35"/>
<circle cx="224.4" cy="435.7" r="2.35"/>
<circle cx="273.7" cy="372.2" r="2.35"/>
<circle cx="202.6" cy="435.7" r="2.35"/>
<circle cx="259.3" cy="410.4" r="2.35"/>
<circle cx="279.6" cy="374.6" r="2.35"/>
<circle cx="272.6" cy="376.4" r="2.35"/>
<circle cx="213.7" cy="427.7" r="2.35"/>
<circle cx="211.6" cy="446" r="2.35"/>
<circle cx="232.8" cy="411.9" r="2.35"/>
<circle cx="205.9" cy="445.9" r="2.35"/>
<circle cx="253.1" cy="397.9" r="2.35"/>
<circle cx="256.8" cy="410.2" r="2.35"/>
<circle cx="258.9" cy="414.7" r="2.35"/>
<circle cx="271.1" cy="416.3" r="2.35"/>
<circle cx="228" cy="433.3" r="2.35"/>
<circle cx="202" cy="417.5" r="2.35"/>
<circle cx="216" cy="418.5" r="2.35"/>
<circle cx="270.8" cy="381.5" r="2.35"/>
<circle cx="213.4" cy="428.2" r="2.35"/>
<circle cx="209.8" cy="405.7" r="2.35"/>
<circle cx="259.3" cy="391.4" r="2.35"/>
<circle cx="252.6" cy="396.7" r="2.35"/>
<circle cx="278.8" cy="380.8" r="2.35"/>
<circle cx="269.9" cy="386.2" r="2.35"/>
<circle cx="275.5" cy="391.6" r="2.35"/>
<circle cx="277.6" cy="377.4" r="2.35"/>
<circle cx="201.8" cy="444.3" r="2.35"/>
<circle cx="281.7" cy="366.5" r="2.35"/>
<circle cx="223.2" cy="436.5" r="2.35"/>
<circle cx="208.7" cy="407.8" r="2.35"/>
<circle cx="277.7" cy="374.4" r="2.35"/>
<circle cx="226.1" cy="438.8" r="2.35"/>
<circle cx="213" cy="414.4" r="2.35"/>
<circle cx="249" cy="410.2" r="2.35"/>
<circle cx="271.2" cy="378.6" r="2.35"/>
<circle cx="228.4" cy="419.6" r="2.35"/>
<circle cx="273.7" cy="389.9" r="2.35"/>
<circle cx="283.3" cy="386" r="2.35"/>
<circle cx="246.3" cy="376.6" r="2.35"/>
<circle cx="220.4" cy="405" r="2.35"/>
<circle cx="226.2" cy="404.1" r="2.35"/>
<circle cx="215.1" cy="431.3" r="2.35"/>
<circle cx="238.4" cy="382.2" r="2.35"/>
<circle cx="234.6" cy="411.5" r="2.35"/>
<circle cx="225.5" cy="416.7" r="2.35"/>
<circle cx="235.2" cy="405.9" r="2.35"/>
<circle cx="223.1" cy="421.9" r="2.35"/>
<circle cx="273.9" cy="381.1" r="2.35"/>
<circle cx="278.8" cy="382.7" r="2.35"/>
<circle cx="237.8" cy="395.4" r="2.35"/>
<circle cx="210.6" cy="438.3" r="2.35"/>
<circle cx="225.7" cy="430.4" r="2.35"/>
<circle cx="259" cy="412.2" r="2.35"/>
<circle cx="284.2" cy="383.5" r="2.35"/>
<circle cx="265.2" cy="420.3" r="2.35"/>
<circle cx="206.3" cy="416.1" r="2.35"/>
<circle cx="230.4" cy="432.2" r="2.35"/>
<circle cx="206.5" cy="424.3" r="2.35"/>
<circle cx="248.6" cy="377.6" r="2.35"/>
<circle cx="234.4" cy="424.6" r="2.35"/>
<circle cx="238.8" cy="416.4" r="2.35"/>
<circle cx="225" cy="389.1" r="2.35"/>
<circle cx="208.4" cy="412.1" r="2.35"/>
<circle cx="267.4" cy="381.2" r="2.35"/>
<circle cx="230.1" cy="405.7" r="2.35"/>
<circle cx="206.7" cy="426.1" r="2.35"/>
<circle cx="218" cy="436.5" r="2.35"/>
<circle cx="205" cy="427.4" r="2.35"/>
<circle cx="275.2" cy="389.6" r="2.35"/>
<circle cx="215.4" cy="423" r="2.35"/>
<circle cx="280.7" cy="358.5" r="2.35"/>
<circle cx="283.5" cy="397.5" r="2.35"/>
<circle cx="211.2" cy="419.6" r="2.35"/>
<circle cx="268" cy="405.7" r="2.35"/>
<circle cx="219.1" cy="416.2" r="2.35"/>
<circle cx="261.4" cy="424.9" r="2.35"/>
<circle cx="283.1" cy="392.1" r="2.35"/>
<circle cx="240.2" cy="408.5" r="2.35"/>
<circle cx="219.1" cy="398.3" r="2.35"/>
<circle cx="257" cy="392.7" r="2.35"/>
<circle cx="252.6" cy="400.4" r="2.35"/>
<circle cx="221.5" cy="395.2" r="2.35"/>
<circle cx="246.6" cy="392.7" r="2.35"/>
<circle cx="244" cy="397.8" r="2.35"/>
<circle cx="235.7" cy="397.5" r="2.35"/>
<circle cx="232.5" cy="406" r="2.35"/>
<circle cx="279.3" cy="400.7" r="2.35"/>
<circle cx="257" cy="401.2" r="2.35"/>
<circle cx="235.7" cy="423" r="2.35"/>
<circle cx="248.7" cy="403.6" r="2.35"/>
<circle cx="254.1" cy="374.5" r="2.35"/>
<circle cx="274.8" cy="376.5" r="2.35"/>
<circle cx="239.1" cy="396.4" r="2.35"/>
<circle cx="270.1" cy="389.6" r="2.35"/>
<circle cx="214.2" cy="398.5" r="2.35"/>
<circle cx="262.9" cy="403.4" r="2.35"/>
<circle cx="260.6" cy="398.9" r="2.35"/>
<circle cx="201.8" cy="408.1" r="2.35"/>
<circle cx="255.6" cy="389.2" r="2.35"/>
<circle cx="207" cy="405.2" r="2.35"/>
<circle cx="278.2" cy="390.2" r="2.35"/>
<circle cx="248" cy="407.7" r="2.35"/>
<circle cx="213.5" cy="436.9" r="2.35"/>
<circle cx="263.1" cy="381.8" r="2.35"/>
<circle cx="224" cy="402.9" r="2.35"/>
<circle cx="206.6" cy="429.7" r="2.35"/>
<circle cx="248.6" cy="397.7" r="2.35"/>
<circle cx="268.9" cy="389.1" r="2.35"/>
<circle cx="261.6" cy="398.5" r="2.35"/>
<circle cx="269.2" cy="412.3" r="2.35"/>
<circle cx="261.3" cy="388.3" r="2.35"/>
<circle cx="233.6" cy="415.2" r="2.35"/>
<circle cx="219.3" cy="434.9" r="2.35"/>
<circle cx="229.6" cy="409.4" r="2.35"/>
<circle cx="271.7" cy="376.1" r="2.35"/>
<circle cx="202.7" cy="440.3" r="2.35"/>
<circle cx="207.3" cy="407.8" r="2.35"/>
<circle cx="279" cy="403.4" r="2.35"/>
<circle cx="201.6" cy="427.7" r="2.35"/>
<circle cx="248" cy="428.6" r="2.35"/>
<circle cx="277.1" cy="394" r="2.35"/>
<circle cx="245.1" cy="400.6" r="2.35"/>
<circle cx="264.1" cy="396.5" r="2.35"/>
<circle cx="203.3" cy="443.8" r="2.35"/>
<circle cx="263.6" cy="413.3" r="2.35"/>
<circle cx="253.4" cy="385.8" r="2.35"/>
<circle cx="254.7" cy="398.7" r="2.35"/>
<circle cx="224.2" cy="439.4" r="2.35"/>
<circle cx="252.7" cy="409.7" r="2.35"/>
<circle cx="265.7" cy="395.3" r="2.35"/>
<circle cx="272.7" cy="410.3" r="2.35"/>
<circle cx="207.3" cy="432.3" r="2.35"/>
<circle cx="276.2" cy="401.2" r="2.35"/>
<circle cx="261.4" cy="424.8" r="2.35"/>
<circle cx="247.2" cy="424" r="2.35"/>
<circle cx="263.5" cy="405.1" r="2.35"/>
<circle cx="264.4" cy="386.1" r="2.35"/>
<circle cx="247.7" cy="410.7" r="2.35"/>
<circle cx="274" cy="380" r="2.35"/>
<circle cx="275.2" cy="394.4" r="2.35"/>
<circle cx="269.6" cy="369.6" r="2.35"/>
<circle cx="219.6" cy="425.7" r="2.35"/>
<circle cx="233.7" cy="437.3" r="2.35"/>
<circle cx="279.2" cy="385.6" r="2.35"/>
<circle cx="249" cy="400.4" r="2.35"/>
<circle cx="215.2" cy="398.4" r="2.35"/>
<circle cx="269.5" cy="386.6" r="2.35"/>
<circle cx="215.7" cy="433.4" r="2.35"/>
<circle cx="282.8" cy="385.3" r="2.35"/>
<circle cx="257" cy="383.1" r="2.35"/>
<circle cx="281.5" cy="397.9" r="2.35"/>
<circle cx="227.4" cy="435.4" r="2.35"/>
<circle cx="275.9" cy="390.6" r="2.35"/>
<circle cx="226.8" cy="408.1" r="2.35"/>
<circle cx="207.2" cy="410.5" r="2.35"/>
<circle cx="265" cy="384.5" r="2.35"/>
<circle cx="280.2" cy="359.3" r="2.35"/>
<circle cx="279.4" cy="401.4" r="2.35"/>
<circle cx="212.1" cy="410" r="2.35"/>
<circle cx="248.1" cy="382.7" r="2.35"/>
<circle cx="257.6" cy="401.1" r="2.35"/>
<circle cx="227.5" cy="399.7" r="2.35"/>
<circle cx="263" cy="389" r="2.35"/>
<circle cx="232.8" cy="432.1" r="2.35"/>
<circle cx="274.5" cy="372.2" r="2.35"/>
<circle cx="248.6" cy="390.9" r="2.35"/>
<circle cx="237.3" cy="409.9" r="2.35"/>
<circle cx="243.4" cy="378.8" r="2.35"/>
<circle cx="236" cy="423.9" r="2.35"/>
<circle cx="242" cy="428.5" r="2.35"/>
<circle cx="260.3" cy="397.6" r="2.35"/>
<circle cx="228.8" cy="426.4" r="2.35"/>
<circle cx="202.7" cy="423.6" r="2.35"/>
<circle cx="258.7" cy="398.9" r="2.35"/>
<circle cx="239.1" cy="437.4" r="2.35"/>
<circle cx="274.3" cy="379.9" r="2.35"/>
<circle cx="202.6" cy="412.5" r="2.35"/>
<circle cx="266" cy="418.6" r="2.35"/>
<circle cx="226.4" cy="434.6" r="2.35"/>
<circle cx="270.2" cy="384.1" r="2.35"/>
<circle cx="228.2" cy="388.7" r="2.35"/>
<circle cx="211.2" cy="439.3" r="2.35"/>
<circle cx="255.8" cy="411.1" r="2.35"/>
<circle cx="282.7" cy="365.8" r="2.35"/>
<circle cx="301.7" cy="366.1" r="2.35"/>
<circle cx="293.8" cy="382.2" r="2.35"/>
<circle cx="303.4" cy="360.3" r="2.35"/>
<circle cx="297.7" cy="365.5" r="2.35"/>
<circle cx="290.5" cy="372.5" r="2.35"/>
<circle cx="295.4" cy="383" r="2.35"/>
<circle cx="277.6" cy="379.9" r="2.35"/>
<circle cx="279.1" cy="407.3" r="2.35"/>
<circle cx="283.9" cy="392.1" r="2.35"/>
<circle cx="292.5" cy="382.2" r="2.35"/>
<circle cx="304.9" cy="353.4" r="2.35"/>
<circle cx="276.1" cy="395.2" r="2.35"/>
<circle cx="284.3" cy="369.7" r="2.35"/>
<circle cx="278.7" cy="360.5" r="2.35"/>
<circle cx="302.4" cy="362.6" r="2.35"/>
<circle cx="304.5" cy="355.6" r="2.35"/>
<circle cx="293.8" cy="372.2" r="2.35"/>
<circle cx="282.9" cy="402" r="2.35"/>
<circle cx="302.6" cy="354.9" r="2.35"/>
<circle cx="286.6" cy="372.4" r="2.35"/>
<circle cx="295.9" cy="369.8" r="2.35"/>
<circle cx="301.6" cy="373.8" r="2.35"/>
<circle cx="286.8" cy="394.7" r="2.35"/>
<circle cx="282.8" cy="364.3" r="2.35"/>
<circle cx="278.1" cy="364.7" r="2.35"/>
<circle cx="305.6" cy="365.6" r="2.35"/>
<circle cx="277" cy="384.1" r="2.35"/>
<circle cx="302.4" cy="360" r="2.35"/>
<circle cx="306.2" cy="350.8" r="2.35"/>
<circle cx="289.3" cy="391.4" r="2.35"/>
<circle cx="280.2" cy="385.7" r="2.35"/>
<circle cx="298.1" cy="357.3" r="2.35"/>
<circle cx="282.2" cy="382.6" r="2.35"/>
<circle cx="290" cy="381.4" r="2.35"/>
<circle cx="286.5" cy="390.3" r="2.35"/>
<circle cx="299.4" cy="377.2" r="2.35"/>
<circle cx="300.1" cy="348.1" r="2.35"/>
<circle cx="295.9" cy="367.8" r="2.35"/>
<circle cx="292.3" cy="371.4" r="2.35"/>
<circle cx="299.8" cy="365.6" r="2.35"/>
<circle cx="281.7" cy="385.4" r="2.35"/>
<circle cx="282.4" cy="384.7" r="2.35"/>
<circle cx="281.4" cy="393.8" r="2.35"/>
<circle cx="282" cy="391.1" r="2.35"/>
<circle cx="290.5" cy="381.6" r="2.35"/>
<circle cx="280.5" cy="385.6" r="2.35"/>
<circle cx="305.9" cy="356.7" r="2.35"/>
<circle cx="278.1" cy="382.6" r="2.35"/>
<circle cx="306.1" cy="362.9" r="2.35"/>
<circle cx="301.6" cy="359.1" r="2.35"/>
<circle cx="293.8" cy="390.7" r="2.35"/>
<circle cx="292.9" cy="388.4" r="2.35"/>
<circle cx="301.7" cy="353.1" r="2.35"/>
<circle cx="286.4" cy="390.6" r="2.35"/>
<circle cx="302.2" cy="357.8" r="2.35"/>
<circle cx="289.8" cy="386.6" r="2.35"/>
<circle cx="301.9" cy="384" r="2.35"/>
<circle cx="292.6" cy="368.4" r="2.35"/>
<circle cx="307.5" cy="370" r="2.35"/>
<circle cx="295.8" cy="377.8" r="2.35"/>
<circle cx="296.7" cy="389.6" r="2.35"/>
<circle cx="283.4" cy="398.2" r="2.35"/>
<circle cx="308.2" cy="360.6" r="2.35"/>
<circle cx="277.9" cy="401.7" r="2.35"/>
<circle cx="276.7" cy="377.8" r="2.35"/>
<circle cx="287.3" cy="361.5" r="2.35"/>
<circle cx="307.7" cy="372" r="2.35"/>
<circle cx="284.3" cy="398.3" r="2.35"/>
<circle cx="278" cy="387.7" r="2.35"/>
<circle cx="286.2" cy="364.1" r="2.35"/>
<circle cx="300.6" cy="361.7" r="2.35"/>
<circle cx="301.5" cy="347.8" r="2.35"/>
<circle cx="278.3" cy="391.3" r="2.35"/>
<circle cx="289.3" cy="360" r="2.35"/>
<circle cx="222.2" cy="381.5" r="2.35"/>
<circle cx="228.8" cy="376.8" r="2.35"/>
<circle cx="277.2" cy="360.5" r="2.35"/>
<circle cx="263.3" cy="367.4" r="2.35"/>
<circle cx="279" cy="355" r="2.35"/>
<circle cx="251.7" cy="367" r="2.35"/>
<circle cx="264.6" cy="363.1" r="2.35"/>
<circle cx="262.4" cy="365.6" r="2.35"/>
<circle cx="233.6" cy="381.5" r="2.35"/>
<circle cx="274" cy="359.9" r="2.35"/>
<circle cx="223.6" cy="372.1" r="2.35"/>
<circle cx="219.8" cy="390.6" r="2.35"/>
<circle cx="243.7" cy="375.6" r="2.35"/>
<circle cx="247.3" cy="369.1" r="2.35"/>
<circle cx="250.7" cy="368.1" r="2.35"/>
<circle cx="247.7" cy="368.9" r="2.35"/>
<circle cx="197.3" cy="401.6" r="2.35"/>
<circle cx="269.1" cy="365.4" r="2.35"/>
<circle cx="263.3" cy="362.7" r="2.35"/>
<circle cx="280.3" cy="352.2" r="2.35"/>
<circle cx="218.1" cy="386.8" r="2.35"/>
<circle cx="214.7" cy="391.8" r="2.35"/>
<circle cx="263.8" cy="367.8" r="2.35"/>
<circle cx="202.7" cy="401.5" r="2.35"/>
<circle cx="225" cy="380.8" r="2.35"/>
<circle cx="283.5" cy="351.7" r="2.35"/>
<circle cx="225.1" cy="387" r="2.35"/>
<circle cx="239.7" cy="375" r="2.35"/>
<circle cx="232" cy="382.7" r="2.35"/>
<circle cx="262.6" cy="365.4" r="2.35"/>
<circle cx="256.1" cy="368.9" r="2.35"/>
<circle cx="226.1" cy="380.5" r="2.35"/>
<circle cx="260.2" cy="369" r="2.35"/>
<circle cx="243.7" cy="376.2" r="2.35"/>
<circle cx="226.9" cy="371.3" r="2.35"/>
<circle cx="226.2" cy="370.4" r="2.35"/>
<circle cx="234.7" cy="376.9" r="2.35"/>
<circle cx="233.9" cy="372.7" r="2.35"/>
<circle cx="191.5" cy="407.3" r="2.35"/>
<circle cx="192" cy="406.9" r="2.35"/>
<circle cx="209.4" cy="396" r="2.35"/>
<circle cx="255.8" cy="372.2" r="2.35"/>
<circle cx="283.1" cy="355.4" r="2.35"/>
<circle cx="191.3" cy="407" r="2.35"/>
<circle cx="191" cy="401.1" r="2.35"/>
<circle cx="241.2" cy="375.9" r="2.35"/>
<circle cx="270.5" cy="362.6" r="2.35"/>
<circle cx="273" cy="358.2" r="2.35"/>
<circle cx="203.8" cy="396.9" r="2.35"/>
<circle cx="220.4" cy="383.6" r="2.35"/>
<circle cx="253.3" cy="371" r="2.35"/>
<circle cx="270" cy="364.2" r="2.35"/>
<circle cx="272.8" cy="361.2" r="2.35"/>
<circle cx="223.2" cy="381.8" r="2.35"/>
<circle cx="255" cy="365.5" r="2.35"/>
<circle cx="247.9" cy="373.2" r="2.35"/>
<circle cx="211.6" cy="397.4" r="2.35"/>
<circle cx="262.1" cy="369.2" r="2.35"/>
<circle cx="204.1" cy="385.4" r="2.35"/>
<circle cx="256.7" cy="367.4" r="2.35"/>
<circle cx="228.3" cy="372.7" r="2.35"/>
<circle cx="264.7" cy="361.8" r="2.35"/>
<circle cx="266.1" cy="363.5" r="2.35"/>
<circle cx="204.8" cy="401.3" r="2.35"/>
<circle cx="242.9" cy="373.9" r="2.35"/>
<circle cx="275.6" cy="361.3" r="2.35"/>
<circle cx="253" cy="369.8" r="2.35"/>
<circle cx="232.6" cy="372.9" r="2.35"/>
<circle cx="208.7" cy="395.6" r="2.35"/>
<circle cx="206.9" cy="395.5" r="2.35"/>
<circle cx="242.6" cy="375.7" r="2.35"/>
<circle cx="265.7" cy="361.1" r="2.35"/>
<circle cx="268" cy="359.3" r="2.35"/>
<circle cx="269" cy="362" r="2.35"/>
<circle cx="250.6" cy="371.8" r="2.35"/>
<circle cx="282.2" cy="357.1" r="2.35"/>
<circle cx="243.4" cy="372.5" r="2.35"/>
<circle cx="241.7" cy="376.5" r="2.35"/>
<circle cx="280.8" cy="357.2" r="2.35"/>
<circle cx="266.7" cy="365.1" r="2.35"/>
<circle cx="268.5" cy="364.6" r="2.35"/>
<circle cx="226.6" cy="375.9" r="2.35"/>
<circle cx="243.6" cy="372.5" r="2.35"/>
<circle cx="200.6" cy="389.3" r="2.35"/>
<circle cx="268.7" cy="360.2" r="2.35"/>
<circle cx="216.8" cy="383.5" r="2.35"/>
<circle cx="252.6" cy="372.8" r="2.35"/>
<circle cx="193.7" cy="400.7" r="2.35"/>
<circle cx="223.9" cy="375" r="2.35"/>
<circle cx="203.9" cy="394.7" r="2.35"/>
<circle cx="226.9" cy="383.6" r="2.35"/>
<circle cx="250.8" cy="368.8" r="2.35"/>
<circle cx="241.1" cy="375.5" r="2.35"/>
<circle cx="195.6" cy="397.7" r="2.35"/>
<circle cx="239.3" cy="371.8" r="2.35"/>
<circle cx="192.4" cy="403.1" r="2.35"/>
<circle cx="232.7" cy="378.8" r="2.35"/>
<circle cx="265.8" cy="364.5" r="2.35"/>
<circle cx="245.3" cy="371.6" r="2.35"/>
<circle cx="226.4" cy="371" r="2.35"/>
<circle cx="252.1" cy="370.8" r="2.35"/>
<circle cx="245" cy="371.7" r="2.35"/>
<circle cx="227.9" cy="375.6" r="2.35"/>
<circle cx="228" cy="373.4" r="2.35"/>
<circle cx="255" cy="372.5" r="2.35"/>
<circle cx="251.3" cy="370.4" r="2.35"/>
<circle cx="252.5" cy="373.7" r="2.35"/>
<circle cx="203.2" cy="404.4" r="2.35"/>
<circle cx="280" cy="358.4" r="2.35"/>
<circle cx="273.6" cy="355.8" r="2.35"/>
<circle cx="205.9" cy="393.7" r="2.35"/>
<circle cx="263.6" cy="362.6" r="2.35"/>
<circle cx="225.3" cy="379.4" r="2.35"/>
<circle cx="268.2" cy="361.8" r="2.35"/>
<circle cx="238.8" cy="376.3" r="2.35"/>
<circle cx="251.3" cy="369.3" r="2.35"/>
<circle cx="248.8" cy="373.7" r="2.35"/>
<circle cx="251.9" cy="370.3" r="2.35"/>
<circle cx="250.1" cy="371.2" r="2.35"/>
<circle cx="252.4" cy="370.3" r="2.35"/>
<circle cx="236.4" cy="379.1" r="2.35"/>
<circle cx="239.9" cy="374.6" r="2.35"/>
<circle cx="204.1" cy="400.7" r="2.35"/>
<circle cx="250.3" cy="374.7" r="2.35"/>
<circle cx="227.1" cy="373.9" r="2.35"/>
<circle cx="195.9" cy="408.4" r="2.35"/>
<circle cx="264.7" cy="360.2" r="2.35"/>
<circle cx="254.2" cy="369.8" r="2.35"/>
<circle cx="226.1" cy="382.7" r="2.35"/>
<circle cx="254.1" cy="373.2" r="2.35"/>
<circle cx="285.4" cy="355.6" r="2.35"/>
<circle cx="204.5" cy="392.6" r="2.35"/>
<circle cx="261.4" cy="364.6" r="2.35"/>
<circle cx="285.7" cy="353.6" r="2.35"/>
<circle cx="201.2" cy="389.3" r="2.35"/>
<circle cx="212.1" cy="395" r="2.35"/>
<circle cx="221.7" cy="383.8" r="2.35"/>
<circle cx="282.5" cy="356.9" r="2.35"/>
<circle cx="191.3" cy="408.2" r="2.35"/>
<circle cx="241.7" cy="372" r="2.35"/>
<circle cx="214.2" cy="391.5" r="2.35"/>
<circle cx="204.9" cy="400.3" r="2.35"/>
<circle cx="191.5" cy="405" r="2.35"/>
<circle cx="228.8" cy="372.7" r="2.35"/>
<circle cx="220.2" cy="384.2" r="2.35"/>
<circle cx="225" cy="385.1" r="2.35"/>
<circle cx="266.7" cy="360" r="2.35"/>
<circle cx="231.2" cy="382.7" r="2.35"/>
<circle cx="227.2" cy="374" r="2.35"/>
<circle cx="241.7" cy="374.6" r="2.35"/>
<circle cx="237.4" cy="375.5" r="2.35"/>
<circle cx="258.9" cy="369.6" r="2.35"/>
<circle cx="248.7" cy="373.9" r="2.35"/>
<circle cx="231.4" cy="382.3" r="2.35"/>
<circle cx="285.4" cy="352.4" r="2.35"/>
<circle cx="282.4" cy="352.8" r="2.35"/>
<circle cx="253.1" cy="373.8" r="2.35"/>
<circle cx="268.7" cy="364.4" r="2.35"/>
<circle cx="206.9" cy="395.5" r="2.35"/>
<circle cx="280.2" cy="351.8" r="2.35"/>
<circle cx="274.2" cy="359.6" r="2.35"/>
<circle cx="240.4" cy="374.2" r="2.35"/>
<circle cx="213.7" cy="390.2" r="2.35"/>
<circle cx="243" cy="376.2" r="2.35"/>
<circle cx="261.3" cy="366.2" r="2.35"/>
<circle cx="241.1" cy="376.8" r="2.35"/>
<circle cx="244.3" cy="370.3" r="2.35"/>
<circle cx="228.3" cy="373.7" r="2.35"/>
<circle cx="250.9" cy="368.3" r="2.35"/>
<circle cx="266.9" cy="365.8" r="2.35"/>
<circle cx="269.3" cy="362.9" r="2.35"/>
<circle cx="210.6" cy="398.6" r="2.35"/>
<circle cx="271.1" cy="360.7" r="2.35"/>
<circle cx="252.1" cy="373.3" r="2.35"/>
<circle cx="222.7" cy="377" r="2.35"/>
<circle cx="272.7" cy="360.2" r="2.35"/>
<circle cx="211.2" cy="396.7" r="2.35"/>
<circle cx="203.9" cy="395.2" r="2.35"/>
<circle cx="262.8" cy="366.5" r="2.35"/>
<circle cx="284.1" cy="352.2" r="2.35"/>
<circle cx="220.6" cy="378" r="2.35"/>
<circle cx="239.2" cy="378" r="2.35"/>
<circle cx="223.4" cy="386.4" r="2.35"/>
<circle cx="249.6" cy="367.5" r="2.35"/>
<circle cx="272.9" cy="362.8" r="2.35"/>
<circle cx="303.8" cy="342.1" r="2.35"/>
<circle cx="299.6" cy="340.1" r="2.35"/>
<circle cx="300.1" cy="346.5" r="2.35"/>
<circle cx="292.8" cy="343.9" r="2.35"/>
<circle cx="294.4" cy="348.9" r="2.35"/>
<circle cx="286.9" cy="351.2" r="2.35"/>
<circle cx="289.3" cy="348.7" r="2.35"/>
<circle cx="290.2" cy="352.5" r="2.35"/>
<circle cx="186.1" cy="444.9" r="2.35"/>
<circle cx="185" cy="441.1" r="2.35"/>
<circle cx="185.5" cy="418.9" r="2.35"/>
<circle cx="185.1" cy="444" r="2.35"/>
<circle cx="185.8" cy="440.3" r="2.35"/>
<circle cx="184.8" cy="436.4" r="2.35"/>
<circle cx="184.8" cy="430.2" r="2.35"/>
<circle cx="185" cy="449.7" r="2.35"/>
<circle cx="185.5" cy="446.5" r="2.35"/>
<circle cx="184.7" cy="441.1" r="2.35"/>
<circle cx="184.7" cy="448.3" r="2.35"/>
<circle cx="185.2" cy="437" r="2.35"/>
<circle cx="184.8" cy="440.9" r="2.35"/>
<circle cx="185.4" cy="440.3" r="2.35"/>
<circle cx="186.1" cy="436.6" r="2.35"/>
<circle cx="184.6" cy="441" r="2.35"/>
<circle cx="184.6" cy="439.2" r="2.35"/>
<circle cx="185.4" cy="442.6" r="2.35"/>
<circle cx="186" cy="443.9" r="2.35"/>
<circle cx="185.5" cy="436.9" r="2.35"/>
<circle cx="185.3" cy="445.2" r="2.35"/>
<circle cx="185.7" cy="420" r="2.35"/>
<circle cx="184.5" cy="421.5" r="2.35"/>
<circle cx="184.7" cy="445.8" r="2.35"/>
<circle cx="184.5" cy="422.8" r="2.35"/>
<circle cx="184.5" cy="442.2" r="2.35"/>
<circle cx="185.2" cy="445.1" r="2.35"/>
<circle cx="185.3" cy="429" r="2.35"/>
<circle cx="185.5" cy="448.2" r="2.35"/>
<circle cx="184.6" cy="447.2" r="2.35"/>
<circle cx="184.5" cy="441.6" r="2.35"/>
<circle cx="185.6" cy="438.5" r="2.35"/>
<circle cx="184.8" cy="421.7" r="2.35"/>
<circle cx="185.5" cy="435.3" r="2.35"/>
<circle cx="184.9" cy="427.8" r="2.35"/>
<circle cx="184.5" cy="433.6" r="2.35"/>
<circle cx="185" cy="438.5" r="2.35"/>
<circle cx="184.5" cy="430.4" r="2.35"/>
<circle cx="184.8" cy="418.2" r="2.35"/>
<circle cx="184.8" cy="447.7" r="2.35"/>
<circle cx="186" cy="425.3" r="2.35"/>
<circle cx="185.6" cy="437.6" r="2.35"/>
<circle cx="185.2" cy="439" r="2.35"/>
<circle cx="185.3" cy="433.7" r="2.35"/>
<circle cx="184.7" cy="440.8" r="2.35"/>
<circle cx="185.1" cy="436.1" r="2.35"/>
<circle cx="184.6" cy="438.8" r="2.35"/>
<circle cx="184.6" cy="447.2" r="2.35"/>
<circle cx="185.1" cy="439.9" r="2.35"/>
<circle cx="185.4" cy="437.3" r="2.35"/>
<circle cx="185.1" cy="443.8" r="2.35"/>
<circle cx="184.5" cy="439.6" r="2.35"/>
<circle cx="185.1" cy="432.1" r="2.35"/>
<circle cx="185.7" cy="422.7" r="2.35"/>
<circle cx="185.8" cy="447.4" r="2.35"/>
<circle cx="184.8" cy="445.7" r="2.35"/>
<circle cx="184.9" cy="435.9" r="2.35"/>
<circle cx="184.5" cy="443.7" r="2.35"/>
<circle cx="184.7" cy="449.7" r="2.35"/>
<circle cx="185.1" cy="446.2" r="2.35"/>
<circle cx="184.8" cy="429.8" r="2.35"/>
<circle cx="184.5" cy="443.6" r="2.35"/>
<circle cx="185.7" cy="446.6" r="2.35"/>
<circle cx="184.7" cy="440.9" r="2.35"/>
<circle cx="184.5" cy="440.6" r="2.35"/>
<circle cx="185.4" cy="444.8" r="2.35"/>
<circle cx="185.4" cy="435.3" r="2.35"/>
<circle cx="185.2" cy="442.9" r="2.35"/>
<circle cx="185.6" cy="433.8" r="2.35"/>
<circle cx="184.7" cy="446.7" r="2.35"/>
<circle cx="185.9" cy="433.3" r="2.35"/>
<circle cx="185.1" cy="432.6" r="2.35"/>
<circle cx="185.4" cy="439" r="2.35"/>
<circle cx="185.1" cy="430.2" r="2.35"/>
<circle cx="185.5" cy="437.3" r="2.35"/>
<circle cx="184.5" cy="430.2" r="2.35"/>
<circle cx="184.8" cy="430.2" r="2.35"/>
<circle cx="185" cy="446.3" r="2.35"/>
<circle cx="185.2" cy="434.3" r="2.35"/>
<circle cx="184.9" cy="439.5" r="2.35"/>
<circle cx="184.9" cy="440" r="2.35"/>
<circle cx="185.7" cy="431.5" r="2.35"/>
<circle cx="185.4" cy="434" r="2.35"/>
<circle cx="184.8" cy="439.1" r="2.35"/>
<circle cx="185" cy="441.5" r="2.35"/>
<circle cx="184.9" cy="437.9" r="2.35"/>
<circle cx="185.9" cy="447.6" r="2.35"/>
<circle cx="184.8" cy="426.7" r="2.35"/>
<circle cx="185.2" cy="446.7" r="2.35"/>
<circle cx="185.7" cy="448.6" r="2.35"/>
<circle cx="185" cy="426.5" r="2.35"/>
<circle cx="185.3" cy="427" r="2.35"/>
<circle cx="185.6" cy="444.3" r="2.35"/>
<circle cx="185.5" cy="440.7" r="2.35"/>
<circle cx="184.9" cy="431.5" r="2.35"/>
<circle cx="184.6" cy="439" r="2.35"/>
<circle cx="184.6" cy="443.9" r="2.35"/>
<circle cx="185.4" cy="443.3" r="2.35"/>
<circle cx="185.3" cy="435.4" r="2.35"/>
<circle cx="184.9" cy="442.5" r="2.35"/>
<circle cx="184.8" cy="433.6" r="2.35"/>
<circle cx="185.4" cy="422.3" r="2.35"/>
<circle cx="185.3" cy="438.4" r="2.35"/>
<circle cx="185" cy="433.1" r="2.35"/>
<circle cx="185.9" cy="447" r="2.35"/>
<circle cx="184.6" cy="427.5" r="2.35"/>
<circle cx="184.5" cy="440.3" r="2.35"/>
<circle cx="185.3" cy="443.9" r="2.35"/>
<circle cx="186" cy="440.9" r="2.35"/>
<circle cx="184.9" cy="421.5" r="2.35"/>
<circle cx="185.2" cy="431.8" r="2.35"/>
<circle cx="184.7" cy="446.8" r="2.35"/>
<circle cx="184.7" cy="424.2" r="2.35"/>
<circle cx="184.6" cy="440.2" r="2.35"/>
<circle cx="185.3" cy="425.5" r="2.35"/>
<circle cx="184.7" cy="447.1" r="2.35"/>
<circle cx="185.4" cy="438.1" r="2.35"/>
<circle cx="184.6" cy="446.3" r="2.35"/>
<circle cx="257.5" cy="448.5" r="2.35"/>
<circle cx="283.9" cy="416.2" r="2.35"/>
<circle cx="279.9" cy="414.5" r="2.35"/>
<circle cx="302.2" cy="397.3" r="2.35"/>
<circle cx="273.8" cy="415.7" r="2.35"/>
<circle cx="186.5" cy="402.6" r="2.35"/>
<circle cx="305.6" cy="337.3" r="2.35"/>
<circle cx="292.2" cy="344" r="2.35"/>
<circle cx="301.6" cy="345.5" r="2.35"/>
<circle cx="309.5" cy="344" r="2.35"/>
<circle cx="316.6" cy="344" r="2.35"/>
<circle cx="317.4" cy="346.6" r="2.35"/>
<circle cx="286.8" cy="350.3" r="2.35"/>
<circle cx="290" cy="350.3" r="2.35"/>
<circle cx="324.5" cy="351" r="2.35"/>
<circle cx="330" cy="349.5" r="2.35"/>
<circle cx="328.6" cy="357.4" r="2.35"/>
<circle cx="320.4" cy="358.2" r="2.35"/>
<circle cx="315" cy="358.9" r="2.35"/>
<circle cx="307.9" cy="362.2" r="2.35"/>
<circle cx="326.1" cy="366.8" r="2.35"/>
<circle cx="324.5" cy="372.3" r="2.35"/>
<circle cx="319" cy="375.8" r="2.35"/>
<circle cx="310.3" cy="370.1" r="2.35"/>
<circle cx="314.4" cy="371.7" r="2.35"/>
<circle cx="318.4" cy="370.6" r="2.35"/>
<circle cx="311.3" cy="355.2" r="2.35"/>
<circle cx="312.3" cy="365.5" r="2.35"/>
<circle cx="309.3" cy="375.8" r="2.35"/>
<circle cx="313.3" cy="350.9" r="2.35"/>
<circle cx="321.5" cy="363.8" r="2.35"/>
<circle cx="310.3" cy="359.5" r="2.35"/>
<circle cx="308.3" cy="368" r="2.35"/>
<circle cx="307.3" cy="378.4" r="2.35"/>
</g>
<line x1="184.5" y1="449.7" x2="381.3" y2="283" stroke="#c66a42" stroke-width="1.75" stroke-dasharray="8.4 4" stroke-dashoffset="10.8"/>
<rect x="184.5" y="277.8" width="202.9" height="171.9" fill="none" stroke="#555" stroke-width="1.3"/>
<path d="M184.5 449.7v-1.9M184.5 277.8v1.9M225.1 449.7v-1.9M225.1 277.8v1.9M265.7 449.7v-1.9M265.7 277.8v1.9M306.2 449.7v-1.9M306.2 277.8v1.9M346.8 449.7v-1.9M346.8 277.8v1.9M387.4 449.7v-1.9M387.4 277.8v1.9M184.5 449.7h1.9M387.4 449.7h-1.9M184.5 415.3h1.9M387.4 415.3h-1.9M184.5 380.9h1.9M387.4 380.9h-1.9M184.5 346.6h1.9M387.4 346.6h-1.9M184.5 312.2h1.9M387.4 312.2h-1.9M184.5 277.8h1.9M387.4 277.8h-1.9" stroke="#555" stroke-width="0.9" fill="none"/>
<g font-family="'Liberation Sans', sans-serif" font-size="11.2" fill="#3c3c3c" stroke="#3c3c3c" stroke-width="0.25">
<text transform="translate(184.5 464.7) scale(0.77 1)" text-anchor="middle">0</text>
<text transform="translate(225.1 464.7) scale(0.77 1)" text-anchor="middle">20</text>
<text transform="translate(265.7 464.7) scale(0.77 1)" text-anchor="middle">40</text>
<text transform="translate(306.2 464.7) scale(0.77 1)" text-anchor="middle">60</text>
<text transform="translate(346.8 464.7) scale(0.77 1)" text-anchor="middle">80</text>
<text transform="translate(387.4 464.7) scale(0.77 1)" text-anchor="middle">100</text>
<text transform="translate(180.5 453.9) scale(0.77 1)" text-anchor="end">0</text>
<text transform="translate(180.5 419.5) scale(0.77 1)" text-anchor="end">20</text>
<text transform="translate(180.5 385.1) scale(0.77 1)" text-anchor="end">40</text>
<text transform="translate(180.5 350.8) scale(0.77 1)" text-anchor="end">60</text>
<text transform="translate(180.5 316.4) scale(0.77 1)" text-anchor="end">80</text>
<text transform="translate(180.5 282) scale(0.77 1)" text-anchor="end">100</text>
</g>
<g font-family="'Liberation Serif', serif" font-size="11.7" fill="#1c1c1c" stroke="#1c1c1c" stroke-width="0.22">
<text x="289.2" y="476.9" text-anchor="middle">Ground Truth (%)</text>
<text transform="translate(164.3 357.6) rotate(-90)" text-anchor="middle">Predicted (%)</text>
</g>
<text x="281.2" y="498.2" text-anchor="middle" font-family="'Liberation Serif', serif" font-size="14.5" fill="#111" stroke="#111" stroke-width="0.15">(<tspan font-weight="bold">c</tspan>)</text>
</g>
</svg>
</body></html>
